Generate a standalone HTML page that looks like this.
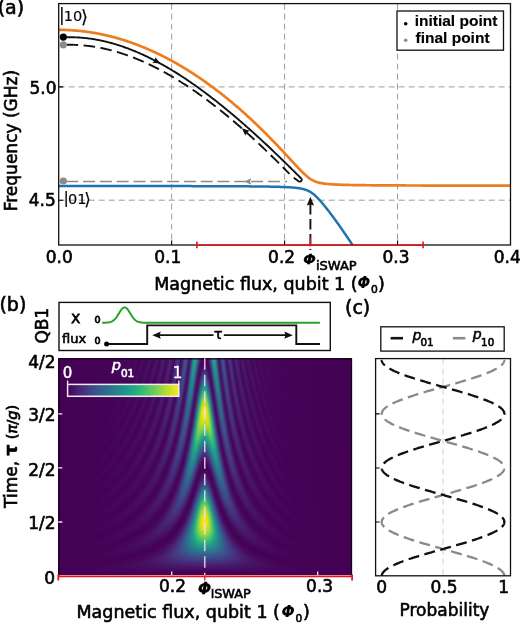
<!DOCTYPE html>
<html><head><meta charset="utf-8"><title>Figure</title>
<style>
html,body{margin:0;padding:0;background:#fff;}
#wrap{position:relative;width:520px;height:623px;overflow:hidden;background:#fff;}
#hm i{position:absolute;top:0;width:1px;height:100%;display:block}
</style></head><body><div id="wrap">
<div id="hm" style="position:absolute;left:58.3px;top:358.2px;width:293.8px;height:217.2px;background:#440154;overflow:hidden"><i style="left:0px;background:linear-gradient(#440255 0.0px,#440154 128.6px,#440154 148.1px,#440154 167.2px,#440154 196.7px,#440154 216.2px,#440154 217.2px)"></i><i style="left:1px;background:linear-gradient(#440254 0.0px,#440154 118.1px,#440154 127.6px,#440154 137.6px,#440254 146.6px,#440154 166.7px,#440154 176.7px,#440154 186.7px,#440255 195.7px,#440254 215.7px,#440154 217.2px)"></i><i style="left:2px;background:linear-gradient(#440154 0.0px,#440154 97.6px,#440154 108.1px,#440154 117.1px,#440154 127.1px,#440254 136.6px,#440154 146.6px,#440154 156.6px,#440255 165.7px,#440154 176.2px,#440255 185.7px,#440154 196.2px,#440254 205.7px,#440254 215.7px,#440154 217.2px)"></i><i style="left:3px;background:linear-gradient(#440255 0.0px,#440154 87.1px,#440154 96.6px,#440154 106.6px,#440154 116.6px,#440254 126.1px,#440154 136.6px,#440254 146.1px,#440154 156.1px,#440255 165.2px,#440254 175.7px,#440254 185.7px,#440254 195.7px,#440255 205.2px,#440254 215.7px,#440154 217.2px)"></i><i style="left:4px;background:linear-gradient(#440356 0.0px,#450356 81.1px,#450356 91.1px,#450356 101.1px,#450356 111.1px,#450356 120.6px,#450356 131.1px,#450356 140.6px,#450356 151.1px,#450356 160.6px,#450356 171.2px,#450356 180.7px,#450356 191.2px,#450356 200.7px,#450356 211.2px,#440154 217.2px)"></i><i style="left:5px;background:linear-gradient(#450356 0.0px,#450356 70.1px,#450356 80.1px,#450356 90.1px,#450356 100.1px,#450356 110.1px,#450356 120.1px,#450356 130.1px,#450356 140.1px,#450356 150.1px,#450356 160.6px,#450356 170.7px,#450356 180.7px,#450356 190.7px,#450356 200.7px,#450356 210.7px,#440154 217.2px)"></i><i style="left:6px;background:linear-gradient(#440255 0.0px,#450356 79.1px,#450356 89.1px,#450356 99.6px,#450356 109.1px,#450356 119.6px,#450356 129.1px,#450356 140.1px,#450356 149.6px,#450356 160.1px,#450356 170.2px,#450356 180.2px,#450356 190.7px,#440356 200.2px,#450356 210.7px,#440154 217.2px)"></i><i style="left:7px;background:linear-gradient(#440255 0.0px,#440254 62.6px,#440255 82.6px,#440254 103.1px,#440255 112.6px,#440255 123.1px,#440255 133.1px,#440254 144.1px,#440255 153.1px,#440154 164.7px,#440255 173.7px,#440254 184.7px,#440255 194.2px,#440255 204.7px,#440255 214.7px,#440154 217.2px)"></i><i style="left:8px;background:linear-gradient(#440154 0.0px,#440254 41.0px,#440255 61.1px,#440255 81.6px,#440154 92.6px,#440255 101.6px,#440254 112.6px,#440255 122.1px,#440255 132.6px,#440254 143.6px,#440255 152.6px,#440255 163.7px,#440255 173.7px,#440255 184.2px,#440255 194.2px,#440255 204.7px,#440255 214.7px,#440154 217.2px)"></i><i style="left:9px;background:linear-gradient(#440255 0.0px,#440254 60.6px,#440255 70.1px,#440254 81.1px,#440254 91.1px,#440255 101.1px,#440255 111.6px,#440255 121.6px,#440255 132.1px,#440255 142.6px,#440255 152.6px,#440255 163.2px,#440255 173.2px,#440255 184.2px,#440255 194.2px,#440255 204.2px,#440255 215.2px,#440154 217.2px)"></i><i style="left:10px;background:linear-gradient(#440356 0.0px,#450356 54.0px,#450356 64.6px,#450356 75.1px,#450356 85.1px,#450356 95.6px,#450356 105.6px,#450356 116.6px,#450356 126.6px,#450356 137.1px,#450356 147.6px,#450356 158.1px,#450356 168.7px,#440356 178.7px,#450356 189.7px,#450356 199.7px,#450356 210.2px,#440154 217.2px)"></i><i style="left:11px;background:linear-gradient(#450356 0.0px,#450356 32.0px,#450356 42.5px,#450356 52.5px,#450356 63.6px,#450356 73.6px,#450356 84.6px,#450356 94.6px,#450356 105.1px,#450356 115.6px,#450356 126.1px,#450356 136.6px,#450356 147.1px,#450356 157.6px,#450356 168.2px,#450356 178.7px,#450356 189.2px,#450356 199.7px,#450356 210.2px,#440154 217.2px)"></i><i style="left:12px;background:linear-gradient(#450356 0.0px,#450356 30.5px,#450356 41.0px,#450356 51.5px,#450356 62.1px,#450356 72.6px,#450356 83.1px,#450356 93.6px,#450356 104.6px,#450356 114.6px,#450356 125.6px,#450356 135.6px,#450356 146.6px,#450356 157.1px,#450356 167.7px,#450356 178.2px,#450356 189.2px,#440356 199.2px,#450356 210.2px,#440154 217.2px)"></i><i style="left:13px;background:linear-gradient(#440255 0.0px,#450356 50.5px,#450356 61.1px,#450356 71.1px,#450356 82.1px,#450356 92.6px,#450356 103.6px,#450356 113.6px,#450356 124.6px,#450356 135.1px,#450356 146.1px,#450356 156.6px,#450356 167.2px,#450356 178.2px,#450356 188.7px,#450356 199.2px,#450356 210.2px,#440154 217.2px)"></i><i style="left:14px;background:linear-gradient(#440255 0.0px,#440255 22.0px,#440254 43.5px,#440255 54.0px,#440254 65.1px,#440255 75.1px,#440255 86.1px,#440255 97.1px,#440255 107.1px,#440255 118.1px,#440255 128.6px,#440255 139.6px,#440255 150.1px,#440255 161.1px,#440255 171.7px,#440255 182.2px,#440255 193.2px,#440255 203.7px,#440255 214.7px,#440154 217.2px)"></i><i style="left:15px;background:linear-gradient(#440154 0.0px,#440255 20.5px,#440255 42.0px,#440255 53.0px,#440255 63.6px,#440255 74.1px,#440255 85.1px,#440255 95.6px,#440255 106.6px,#440255 117.1px,#440255 128.1px,#440255 138.6px,#440255 149.6px,#440255 160.6px,#440255 171.2px,#440255 182.2px,#440255 192.7px,#440255 203.7px,#440255 214.7px,#440154 217.2px)"></i><i style="left:16px;background:linear-gradient(#440255 0.0px,#440255 30.0px,#440255 40.5px,#440254 52.0px,#440255 62.1px,#440255 73.6px,#440255 84.1px,#440255 94.6px,#440255 105.6px,#440255 116.6px,#440255 127.1px,#440255 138.6px,#440255 149.1px,#440255 160.1px,#440255 171.2px,#440255 181.7px,#440255 192.7px,#440255 203.7px,#440255 214.7px,#440154 217.2px)"></i><i style="left:17px;background:linear-gradient(#450356 0.0px,#450356 34.5px,#450356 45.0px,#450356 56.1px,#450356 67.1px,#450356 77.6px,#450356 89.1px,#450356 99.6px,#450356 110.6px,#450356 121.6px,#450356 132.6px,#450356 143.6px,#450356 154.6px,#450356 165.7px,#450356 176.7px,#450356 187.7px,#440356 198.2px,#450356 209.7px,#440154 217.2px)"></i><i style="left:18px;background:linear-gradient(#450356 0.0px,#450356 11.5px,#450356 21.5px,#450356 44.0px,#450356 54.6px,#450356 66.1px,#450356 76.6px,#450356 88.1px,#450356 98.6px,#450356 110.1px,#450356 120.6px,#450356 132.1px,#450356 143.1px,#450356 154.1px,#450356 165.2px,#450356 176.2px,#450356 187.2px,#450356 198.2px,#450356 209.7px,#440154 217.2px)"></i><i style="left:19px;background:linear-gradient(#450356 0.0px,#450356 20.5px,#450356 31.5px,#450356 42.5px,#450356 53.0px,#450356 64.6px,#450356 75.6px,#450356 86.6px,#450356 98.1px,#450356 108.6px,#450356 120.1px,#450356 131.1px,#450356 142.6px,#450356 153.6px,#450356 164.7px,#450356 175.7px,#450356 187.2px,#450356 198.2px,#450356 209.2px,#440154 217.2px)"></i><i style="left:20px;background:linear-gradient(#440255 0.0px,#440255 35.5px,#440255 46.0px,#440255 57.6px,#440255 68.6px,#440255 79.6px,#440255 91.1px,#440255 102.1px,#440255 113.6px,#440255 124.6px,#440255 135.6px,#440255 147.1px,#440255 158.1px,#440255 169.7px,#440255 180.7px,#440255 192.2px,#440255 203.2px,#440255 214.7px,#440154 217.2px)"></i><i style="left:21px;background:linear-gradient(#440255 0.0px,#440255 23.0px,#440255 33.5px,#440255 45.0px,#440255 56.1px,#440255 67.6px,#440255 78.6px,#440255 90.1px,#440255 101.1px,#440255 112.6px,#440255 123.6px,#440255 135.1px,#440255 146.6px,#440255 157.6px,#440255 169.2px,#440255 180.7px,#440255 191.7px,#440255 203.2px,#440255 214.7px,#440154 217.2px)"></i><i style="left:22px;background:linear-gradient(#440254 0.0px,#440255 10.0px,#440255 21.5px,#440255 32.5px,#440255 43.5px,#440255 55.1px,#440255 66.1px,#440255 77.6px,#440255 89.1px,#440255 100.6px,#440255 111.6px,#440255 123.1px,#440255 134.6px,#440255 145.6px,#440255 157.6px,#440255 168.7px,#440255 180.2px,#440255 191.7px,#440255 203.2px,#440255 214.7px,#440154 217.2px)"></i><i style="left:23px;background:linear-gradient(#440255 0.0px,#440255 31.5px,#440255 42.0px,#440255 53.5px,#440255 65.1px,#440255 76.6px,#440255 88.1px,#440255 99.1px,#440255 111.1px,#440255 122.1px,#440255 134.1px,#440255 145.1px,#440255 157.1px,#440255 168.2px,#450457 175.7px,#440255 185.2px,#440255 191.7px,#440255 203.2px,#440255 214.7px,#440154 217.2px)"></i><i style="left:24px;background:linear-gradient(#450356 0.0px,#450357 13.0px,#450356 23.5px,#450356 35.5px,#450356 46.5px,#450356 58.6px,#450356 69.6px,#450356 81.1px,#450356 92.6px,#450356 104.1px,#450356 116.1px,#450356 127.6px,#450356 139.1px,#450356 150.6px,#450356 162.1px,#450356 174.2px,#450356 185.7px,#450356 197.2px,#450356 208.7px,#440154 217.2px)"></i><i style="left:25px;background:linear-gradient(#450357 0.0px,#450356 10.0px,#450356 22.0px,#450356 33.0px,#450356 45.5px,#450356 56.6px,#450356 68.1px,#450356 80.1px,#450356 91.6px,#450356 103.1px,#450356 115.1px,#450356 126.6px,#450356 138.1px,#450356 150.1px,#450356 161.6px,#450356 173.7px,#450356 185.2px,#450356 197.2px,#450356 208.7px,#440154 217.2px)"></i><i style="left:26px;background:linear-gradient(#450356 0.0px,#450356 20.0px,#450356 31.5px,#450356 43.5px,#450356 55.1px,#450356 67.1px,#450356 78.6px,#450356 90.6px,#450356 102.1px,#450356 114.1px,#450356 125.6px,#440255 132.1px,#440356 143.1px,#450356 150.1px,#450356 161.1px,#440255 167.7px,#450356 178.2px,#440256 184.7px,#440255 190.7px,#450356 197.2px,#440255 208.2px,#440256 214.2px,#440154 217.2px)"></i><i style="left:27px;background:linear-gradient(#440255 0.0px,#440255 12.5px,#440255 24.0px,#440255 36.0px,#440255 47.5px,#440356 59.1px,#440356 71.1px,#450457 78.6px,#440255 88.6px,#450356 94.6px,#450356 101.6px,#450356 113.1px,#440255 119.6px,#450356 130.1px,#450356 137.1px,#440255 143.1px,#450356 154.1px,#450356 160.6px,#440255 166.7px,#450356 173.2px,#450356 184.7px,#450356 190.2px,#450356 196.7px,#450356 202.2px,#450356 208.7px,#440256 214.2px,#440154 217.2px)"></i><i style="left:28px;background:linear-gradient(#440255 0.0px,#440255 10.0px,#440255 22.5px,#440255 34.0px,#440255 46.0px,#450356 57.6px,#450457 65.1px,#450356 76.1px,#440255 82.1px,#450356 93.6px,#450356 100.6px,#450356 112.1px,#440256 118.1px,#450457 125.1px,#440255 135.6px,#450356 141.1px,#440255 147.6px,#450357 153.1px,#440255 159.6px,#450356 165.2px,#440255 171.7px,#450357 177.2px,#440255 183.7px,#450357 189.2px,#440255 195.7px,#450357 201.2px,#440255 207.7px,#450357 213.2px,#440154 217.2px)"></i><i style="left:29px;background:linear-gradient(#440255 0.0px,#440356 8.0px,#440255 21.0px,#450356 32.0px,#440255 44.5px,#440356 56.6px,#450457 64.1px,#440356 74.6px,#450356 80.6px,#450356 87.6px,#450356 99.1px,#440356 105.1px,#450356 111.6px,#440255 117.6px,#450356 128.6px,#440356 135.1px,#450356 140.6px,#440255 147.1px,#450357 152.6px,#440255 159.1px,#450357 164.7px,#440255 171.2px,#450457 176.7px,#440255 183.2px,#450457 188.7px,#440255 195.2px,#450457 200.7px,#440255 207.7px,#450357 213.2px,#440154 217.2px)"></i><i style="left:30px;background:linear-gradient(#450356 0.0px,#450356 13.0px,#450356 25.0px,#450356 37.0px,#450356 49.5px,#450356 61.6px,#440255 68.1px,#450356 79.1px,#450356 85.6px,#450356 91.6px,#450356 98.6px,#440255 105.1px,#450356 115.6px,#440356 122.1px,#450357 127.6px,#440255 134.1px,#450457 139.6px,#440255 146.1px,#450457 151.6px,#440255 158.6px,#450457 164.2px,#440255 170.7px,#450457 176.2px,#440255 182.7px,#450457 188.2px,#440255 194.7px,#450457 200.7px,#440255 207.2px,#450457 212.7px,#440154 217.2px)"></i><i style="left:31px;background:linear-gradient(#450457 0.0px,#450356 10.5px,#450457 24.0px,#450356 35.0px,#440255 42.5px,#450356 53.5px,#450457 61.1px,#450356 72.1px,#450356 78.1px,#450356 85.1px,#440255 91.6px,#450357 102.1px,#440255 108.6px,#450357 114.6px,#440255 121.1px,#450457 126.6px,#440255 133.1px,#450457 139.1px,#440255 145.6px,#450457 151.1px,#440255 158.1px,#450457 163.7px,#440255 170.2px,#450457 176.2px,#440255 182.7px,#450457 188.2px,#440255 194.7px,#450457 200.7px,#440255 207.2px,#450457 212.7px,#440154 217.2px)"></i><i style="left:32px;background:linear-gradient(#450457 0.0px,#450356 8.5px,#440255 16.5px,#450356 27.0px,#450457 34.5px,#450356 46.0px,#440356 52.5px,#450356 64.6px,#450357 71.6px,#440255 78.6px,#450356 89.1px,#450356 95.6px,#450356 101.6px,#450356 108.1px,#450357 113.6px,#440255 120.1px,#450357 126.1px,#440255 132.6px,#450357 138.6px,#440255 145.1px,#450457 150.6px,#440255 157.6px,#450457 163.2px,#440255 169.7px,#450457 175.7px,#440255 182.2px,#450457 187.7px,#440255 194.2px,#450457 200.2px,#440255 206.7px,#450457 212.7px,#440154 217.2px)"></i><i style="left:33px;background:linear-gradient(#450356 0.0px,#450457 8.5px,#450356 19.5px,#440255 27.5px,#450356 38.0px,#450457 45.5px,#450356 57.1px,#450356 63.6px,#450457 70.6px,#450356 82.1px,#450356 88.1px,#450356 94.6px,#450356 100.6px,#450356 107.1px,#450457 112.6px,#440255 119.1px,#450457 125.1px,#440255 131.6px,#450457 137.6px,#440255 144.1px,#450457 150.1px,#440255 156.6px,#450457 162.6px,#440255 169.2px,#450457 175.2px,#440255 181.7px,#450457 187.7px,#440255 194.2px,#450457 200.2px,#440255 206.7px,#450457 212.7px,#440154 217.2px)"></i><i style="left:34px;background:linear-gradient(#440255 0.0px,#450356 11.5px,#440256 24.5px,#450356 36.5px,#450457 44.5px,#450356 55.6px,#450356 62.1px,#450357 69.1px,#450356 81.1px,#450356 87.1px,#450356 93.6px,#450356 99.6px,#450356 106.1px,#450356 112.1px,#440255 118.6px,#450357 124.6px,#440255 131.1px,#450457 137.1px,#440255 143.6px,#450457 149.6px,#440255 156.1px,#450457 162.1px,#440255 168.7px,#450457 174.7px,#440255 181.2px,#450458 187.2px,#440255 193.7px,#450458 199.7px,#440255 206.7px,#450457 212.7px,#440154 217.2px)"></i><i style="left:35px;background:linear-gradient(#440255 0.0px,#450356 9.0px,#450357 16.5px,#450356 29.0px,#450356 41.5px,#440255 48.5px,#450356 60.1px,#450356 67.1px,#450356 73.1px,#450356 79.6px,#450356 86.1px,#450356 92.6px,#450356 98.6px,#450356 105.1px,#450357 111.1px,#440255 117.6px,#450457 123.6px,#440255 130.1px,#450457 136.1px,#440255 142.6px,#450457 148.6px,#440255 155.1px,#450457 161.6px,#440255 168.2px,#450458 174.2px,#440255 180.7px,#450457 187.2px,#440255 193.7px,#450458 199.7px,#440255 206.7px,#450457 212.7px,#440154 217.2px)"></i><i style="left:36px;background:linear-gradient(#440255 0.0px,#450356 8.0px,#450356 20.5px,#450457 28.5px,#450356 39.5px,#450356 46.5px,#450457 53.5px,#450356 65.6px,#450357 71.6px,#440356 78.1px,#450356 84.6px,#450356 91.1px,#450457 97.1px,#440255 103.6px,#450457 110.1px,#440255 116.6px,#450457 122.6px,#440255 129.1px,#450457 135.1px,#440255 142.1px,#450457 148.1px,#440255 154.6px,#450457 161.1px,#440255 167.7px,#450457 174.2px,#440255 180.7px,#450458 186.7px,#440255 193.2px,#450457 199.7px,#440255 206.2px,#450457 212.7px,#440154 217.2px)"></i><i style="left:37px;background:linear-gradient(#450457 0.0px,#450356 12.5px,#450356 25.5px,#440255 33.0px,#450356 44.5px,#450356 51.5px,#440255 58.6px,#450356 70.6px,#450356 77.1px,#450356 83.6px,#450356 90.1px,#450356 96.6px,#450356 103.1px,#450457 109.1px,#440255 115.6px,#450457 122.1px,#440255 128.6px,#450457 134.6px,#440255 141.1px,#450457 147.6px,#440255 154.1px,#450457 160.6px,#440255 167.2px,#450457 173.7px,#440255 180.2px,#450457 186.7px,#440255 193.2px,#450458 199.2px,#440255 206.2px,#450457 212.7px,#440154 217.2px)"></i><i style="left:38px;background:linear-gradient(#450458 0.0px,#450356 10.0px,#440356 17.5px,#450356 30.0px,#450457 37.5px,#450356 49.5px,#450356 56.6px,#450457 63.6px,#440255 70.6px,#450357 82.1px,#440356 88.6px,#450357 95.1px,#440255 101.6px,#450457 108.1px,#440255 114.6px,#450457 121.1px,#440255 127.6px,#450457 134.1px,#440255 140.6px,#450457 147.1px,#440255 153.6px,#450457 160.1px,#440255 166.7px,#450458 173.2px,#440255 179.7px,#450458 186.2px,#440255 192.7px,#450458 199.2px,#440255 206.2px,#450458 212.2px,#440154 217.2px)"></i><i style="left:39px;background:linear-gradient(#450457 0.0px,#450356 8.5px,#440255 16.5px,#450356 28.0px,#450357 35.5px,#440255 43.0px,#450457 54.0px,#450356 61.1px,#450357 67.6px,#450356 74.6px,#450356 81.1px,#450356 87.6px,#450357 94.1px,#440256 100.6px,#450457 107.1px,#440255 113.6px,#450457 120.1px,#440255 126.6px,#450457 133.1px,#440255 139.6px,#450458 146.1px,#440255 153.1px,#450457 159.6px,#440255 166.2px,#450458 172.7px,#440255 179.7px,#450558 185.7px,#440255 192.7px,#450458 199.2px,#440254 205.7px,#450458 212.2px,#440154 217.2px)"></i><i style="left:40px;background:linear-gradient(#450356 0.0px,#450356 13.5px,#450356 26.5px,#450457 34.0px,#450356 46.5px,#450356 53.0px,#450356 60.1px,#450356 66.6px,#450356 73.6px,#450356 80.1px,#450356 86.6px,#450357 93.1px,#450356 99.6px,#450457 106.1px,#440255 112.6px,#450457 119.1px,#440255 125.6px,#450458 132.1px,#440255 139.1px,#450458 145.6px,#440255 152.1px,#450458 158.6px,#440255 165.7px,#450458 172.2px,#440255 179.2px,#450458 185.7px,#440255 192.2px,#450558 198.7px,#440255 205.7px,#450458 212.2px,#440154 217.2px)"></i><i style="left:41px;background:linear-gradient(#440255 0.0px,#450356 11.0px,#450357 18.5px,#450356 31.5px,#450356 38.5px,#450457 45.5px,#440356 52.5px,#450356 65.1px,#450356 71.6px,#450356 78.6px,#450356 85.1px,#450457 91.6px,#440255 98.1px,#450458 104.6px,#440255 111.1px,#450458 118.1px,#440255 124.6px,#450458 131.6px,#440255 138.1px,#450558 144.6px,#440255 151.6px,#450558 158.1px,#440255 165.2px,#450558 171.7px,#440255 178.7px,#450558 185.2px,#440255 192.2px,#450558 198.7px,#440255 205.7px,#450558 212.2px,#440154 217.2px)"></i><i style="left:42px;background:linear-gradient(#440255 0.0px,#450457 8.5px,#450356 16.0px,#450356 23.5px,#450457 31.0px,#450356 43.0px,#450457 49.5px,#440356 56.1px,#450457 63.1px,#450356 70.1px,#450457 76.6px,#440356 83.6px,#450458 89.6px,#440255 96.6px,#450558 103.1px,#440255 110.1px,#450558 116.6px,#440255 123.6px,#450558 130.1px,#440255 137.1px,#450558 143.6px,#440255 151.1px,#450558 157.6px,#440254 164.2px,#450558 171.2px,#440255 178.2px,#450558 184.7px,#440255 191.7px,#450558 198.2px,#440254 205.2px,#450558 211.7px,#440154 217.2px)"></i><i style="left:43px;background:linear-gradient(#450356 0.0px,#450356 7.5px,#450457 15.0px,#450356 27.5px,#450457 34.0px,#450356 41.0px,#450457 47.5px,#440356 54.6px,#450458 61.1px,#440255 68.1px,#450458 74.6px,#440255 81.6px,#450558 88.1px,#440255 95.6px,#450558 102.1px,#440255 109.1px,#450558 115.6px,#440255 122.6px,#450558 129.1px,#440255 136.6px,#450558 143.1px,#440255 150.1px,#450559 156.6px,#440254 163.7px,#450559 170.2px,#440255 177.7px,#450559 184.2px,#440254 191.2px,#450558 198.2px,#440255 205.2px,#450559 211.7px,#440154 217.2px)"></i><i style="left:44px;background:linear-gradient(#450558 0.0px,#450356 11.5px,#450457 18.5px,#450356 25.5px,#450457 32.5px,#450356 39.5px,#450457 46.0px,#440356 53.0px,#450458 59.6px,#440255 66.6px,#450558 73.1px,#440255 80.1px,#450558 87.1px,#440255 94.1px,#450558 100.6px,#440255 108.1px,#450558 114.6px,#440255 121.6px,#450559 128.1px,#440255 135.6px,#450559 142.1px,#440254 149.1px,#450559 156.1px,#440254 163.2px,#450659 169.7px,#440254 177.2px,#450559 183.7px,#440254 190.7px,#450559 197.7px,#440254 204.7px,#450559 211.7px,#440154 217.2px)"></i><i style="left:45px;background:linear-gradient(#450559 0.0px,#450356 9.5px,#450457 16.5px,#450356 23.5px,#450457 30.5px,#450356 37.5px,#450458 44.0px,#450356 51.5px,#450458 58.1px,#440255 65.1px,#450558 71.6px,#440255 79.1px,#450558 85.6px,#440255 92.6px,#450558 99.6px,#440255 107.1px,#450559 113.6px,#440255 120.6px,#450559 127.6px,#440255 134.6px,#450559 141.6px,#440255 148.6px,#450559 155.6px,#440254 162.6px,#450659 169.2px,#440254 176.7px,#450659 183.2px,#440154 190.2px,#450559 197.7px,#440254 204.7px,#450559 211.7px,#440154 217.2px)"></i><i style="left:46px;background:linear-gradient(#450457 0.0px,#450356 7.5px,#450457 14.5px,#450356 22.0px,#450457 29.0px,#450356 36.0px,#450458 42.5px,#440356 49.5px,#450558 56.1px,#440255 63.6px,#450558 70.6px,#440255 77.6px,#450558 84.6px,#440255 91.6px,#450558 98.6px,#440255 105.6px,#450559 112.6px,#440255 119.6px,#450559 126.6px,#440255 133.6px,#450559 140.6px,#440254 147.6px,#450659 154.6px,#440254 162.1px,#450559 169.2px,#440254 176.2px,#450659 183.2px,#440254 190.2px,#450659 197.2px,#440154 204.2px,#450659 211.2px,#440154 217.2px)"></i><i style="left:47px;background:linear-gradient(#440356 0.0px,#450457 12.5px,#450356 19.5px,#450458 26.5px,#440356 33.5px,#450558 40.5px,#440255 47.5px,#450558 54.6px,#440255 62.1px,#450559 68.6px,#440255 76.1px,#450558 83.1px,#440255 90.1px,#450559 97.1px,#440255 104.6px,#450559 111.6px,#440255 118.6px,#450659 125.6px,#440254 132.6px,#450659 139.6px,#440255 147.1px,#450659 154.1px,#440255 161.6px,#450659 168.7px,#440254 175.7px,#450659 182.7px,#440154 189.7px,#450659 197.2px,#440154 204.2px,#450659 211.2px,#440154 217.2px)"></i><i style="left:48px;background:linear-gradient(#440255 0.0px,#450458 10.0px,#450356 17.5px,#450458 24.5px,#450356 32.0px,#450458 39.0px,#440356 46.0px,#450558 53.0px,#440255 60.1px,#450558 67.6px,#440255 74.6px,#450559 81.6px,#440255 89.1px,#450559 96.1px,#440255 103.1px,#450559 110.6px,#440255 117.6px,#450659 124.6px,#440255 132.1px,#450659 139.1px,#440254 146.1px,#450659 153.6px,#440254 160.6px,#450659 168.2px,#440254 175.2px,#45065a 182.2px,#440254 189.7px,#450659 196.7px,#440254 204.2px,#450659 211.2px,#440154 217.2px)"></i><i style="left:49px;background:linear-gradient(#440356 0.0px,#450458 8.0px,#450356 16.0px,#450458 23.0px,#450356 30.0px,#450558 37.0px,#440255 44.0px,#450558 51.5px,#440255 58.6px,#450558 66.1px,#440255 73.1px,#450559 80.1px,#440255 87.6px,#450659 94.6px,#440255 102.1px,#450659 109.1px,#440255 116.6px,#450659 123.6px,#440255 131.1px,#450659 138.6px,#440254 145.6px,#450659 153.1px,#440254 160.1px,#450659 167.7px,#440254 174.7px,#450659 182.2px,#440154 189.2px,#450659 196.7px,#440154 203.7px,#450659 211.2px,#440154 217.2px)"></i><i style="left:50px;background:linear-gradient(#450457 0.0px,#450356 7.5px,#450458 15.5px,#450356 22.5px,#450457 29.5px,#450457 36.0px,#450356 43.0px,#450558 50.0px,#440255 57.1px,#450559 64.1px,#440255 71.6px,#450559 79.1px,#440255 86.1px,#450559 93.6px,#440255 100.6px,#450659 108.1px,#440255 115.6px,#450659 122.6px,#440255 130.1px,#450659 137.6px,#440254 144.6px,#45065a 152.1px,#440154 159.1px,#450659 167.2px,#440154 174.2px,#45065a 181.7px,#440154 188.7px,#45065a 196.2px,#440154 203.7px,#45065a 211.2px,#440154 217.2px)"></i><i style="left:51px;background:linear-gradient(#450559 0.0px,#450356 11.0px,#450558 18.5px,#450356 26.0px,#450558 33.0px,#440356 40.5px,#450558 48.0px,#440356 55.6px,#450559 62.6px,#440255 70.1px,#450559 77.6px,#440255 84.6px,#450659 92.1px,#440255 99.6px,#450659 107.1px,#440255 114.6px,#450659 121.6px,#440255 129.1px,#450659 136.6px,#440254 144.1px,#450659 151.6px,#440154 158.6px,#45065a 166.2px,#440254 174.2px,#45065a 181.2px,#440254 188.7px,#45065a 196.2px,#440254 203.7px,#45065a 211.2px,#440154 217.2px)"></i><i style="left:52px;background:linear-gradient(#450559 0.0px,#450356 9.0px,#450558 16.5px,#450356 24.0px,#450558 31.5px,#450356 39.0px,#450559 46.0px,#440255 53.5px,#450559 61.1px,#440255 68.1px,#450659 75.6px,#440255 83.6px,#450659 90.6px,#440255 98.1px,#450659 105.6px,#440255 113.1px,#450659 120.6px,#440254 128.1px,#45065a 135.6px,#440254 143.1px,#45065a 150.6px,#440254 158.1px,#45065a 165.7px,#440254 173.7px,#45065a 180.7px,#440154 188.2px,#45065a 195.7px,#440154 203.2px,#45065a 211.2px,#440154 217.2px)"></i><i style="left:53px;background:linear-gradient(#450457 0.0px,#450457 8.0px,#450458 15.0px,#450356 22.0px,#450559 29.0px,#440356 36.5px,#450559 44.0px,#440356 52.0px,#450659 59.1px,#440255 66.6px,#450659 74.1px,#440255 82.1px,#45065a 89.1px,#440255 97.1px,#450659 104.6px,#440255 112.1px,#45065a 119.6px,#440254 127.1px,#45065a 134.6px,#440255 142.6px,#45065a 149.6px,#440254 157.6px,#45065a 165.2px,#440154 172.7px,#46065a 180.2px,#440254 188.2px,#45065a 195.7px,#440154 203.2px,#46075a 210.7px,#440154 217.2px)"></i><i style="left:54px;background:linear-gradient(#440255 0.0px,#450558 12.0px,#450356 19.5px,#450559 27.0px,#440356 34.5px,#450659 42.0px,#440356 50.0px,#450659 57.1px,#440255 65.1px,#450659 72.6px,#440255 80.1px,#45065a 88.1px,#440255 95.6px,#45065a 103.1px,#440255 111.1px,#45065a 118.6px,#440254 126.1px,#46075a 133.6px,#440254 141.6px,#46075a 149.1px,#440154 156.6px,#46075a 164.7px,#440154 172.2px,#46075a 179.7px,#440154 187.7px,#46075a 195.2px,#440154 202.7px,#46075a 210.7px,#440154 217.2px)"></i><i style="left:55px;background:linear-gradient(#440255 0.0px,#450559 9.5px,#450356 17.5px,#450559 25.0px,#440356 32.5px,#450659 40.0px,#440255 48.0px,#45065a 55.6px,#440255 63.1px,#45065a 71.1px,#440255 78.6px,#45065a 86.6px,#440255 94.1px,#46075a 101.6px,#440255 109.6px,#46075a 117.6px,#440254 125.1px,#46075a 133.1px,#440254 140.6px,#46075a 148.6px,#440254 156.1px,#46075a 164.2px,#440154 171.7px,#46075b 179.2px,#440154 187.2px,#46075a 195.2px,#440154 202.7px,#46075a 210.7px,#440154 217.2px)"></i><i style="left:56px;background:linear-gradient(#450357 0.0px,#450559 7.5px,#450356 15.0px,#450659 22.5px,#440356 30.5px,#45065a 38.0px,#440255 46.0px,#45065a 53.5px,#440255 61.6px,#45065a 69.6px,#440255 77.1px,#45075a 85.1px,#440255 93.1px,#46075a 100.6px,#440255 108.6px,#46075a 116.6px,#440254 124.1px,#46075a 132.1px,#440254 139.6px,#46075b 147.6px,#440154 155.1px,#46075b 163.2px,#440154 171.2px,#46075b 179.2px,#440154 186.7px,#46075b 194.7px,#440154 202.2px,#46075b 210.2px,#440154 217.2px)"></i><i style="left:57px;background:linear-gradient(#450559 0.0px,#450457 7.0px,#450356 13.5px,#450659 20.5px,#440255 28.0px,#45065a 36.0px,#440255 44.0px,#45065a 52.0px,#440255 60.1px,#46075a 67.6px,#440255 75.6px,#46075a 83.6px,#440255 91.6px,#46075b 99.1px,#440255 107.1px,#46075b 115.1px,#440255 123.1px,#46075b 131.1px,#440154 138.6px,#46075b 147.1px,#440154 154.6px,#46075b 162.6px,#440154 170.7px,#46075b 178.7px,#440154 186.2px,#46075b 194.7px,#440154 202.2px,#46085b 210.2px,#440154 217.2px)"></i><i style="left:58px;background:linear-gradient(#45065a 0.0px,#450356 10.5px,#450659 18.5px,#440255 26.0px,#45065a 34.0px,#440255 42.0px,#46075a 50.0px,#440255 58.1px,#46075a 66.1px,#440255 74.1px,#46075a 82.1px,#440255 89.6px,#46075a 98.1px,#440255 106.1px,#46075b 114.1px,#440255 122.1px,#46075b 130.1px,#440254 138.1px,#46075b 146.1px,#440254 154.1px,#46075b 162.1px,#440154 170.2px,#46085b 178.2px,#440154 185.7px,#46085b 194.2px,#440154 202.2px,#46085b 210.2px,#440154 217.2px)"></i><i style="left:59px;background:linear-gradient(#450659 0.0px,#450356 8.5px,#450659 16.5px,#440356 24.0px,#45065a 32.0px,#440255 40.0px,#45065a 48.5px,#440255 56.1px,#46075a 64.6px,#440255 72.6px,#46075a 80.6px,#440255 88.1px,#46075b 96.6px,#440255 104.6px,#46075b 112.6px,#440254 120.6px,#46075b 129.1px,#440254 137.1px,#46085b 145.1px,#440154 153.1px,#46085b 161.6px,#440254 169.7px,#46085b 177.7px,#440154 185.7px,#46085b 193.7px,#440154 201.7px,#46085b 210.2px,#440154 217.2px)"></i><i style="left:60px;background:linear-gradient(#450457 0.0px,#450458 7.5px,#450659 14.5px,#450356 22.0px,#45065a 30.0px,#440255 38.0px,#45065a 46.5px,#440255 54.6px,#46075a 62.6px,#440255 70.6px,#46075b 79.1px,#440255 86.6px,#46075b 95.1px,#440255 103.6px,#46075b 111.6px,#440254 119.6px,#46075b 128.1px,#440254 136.1px,#46085b 144.6px,#440154 152.1px,#46085b 160.6px,#440154 168.7px,#46085b 177.2px,#440154 185.2px,#46085b 193.7px,#440154 201.7px,#46085b 209.7px,#440154 217.2px)"></i><i style="left:61px;background:linear-gradient(#440255 0.0px,#45065a 11.5px,#440356 19.5px,#46075a 27.5px,#440255 36.0px,#46075a 44.0px,#440255 52.5px,#46075b 60.6px,#440255 69.1px,#46075b 77.1px,#440255 85.6px,#46075b 93.6px,#440255 102.1px,#46085b 110.1px,#440255 118.6px,#46085b 126.6px,#440254 135.1px,#46085b 143.6px,#440154 151.6px,#46085b 160.1px,#440154 168.2px,#46085b 176.7px,#440154 184.7px,#46085c 193.2px,#440154 201.2px,#46085c 209.7px,#440154 217.2px)"></i><i style="left:62px;background:linear-gradient(#440356 0.0px,#46075a 8.5px,#450356 17.5px,#46075a 25.5px,#440356 34.0px,#46075b 42.0px,#440255 50.5px,#46075b 58.6px,#440255 67.1px,#46085b 75.6px,#440255 83.6px,#46085b 92.1px,#440255 100.6px,#46085c 108.6px,#440255 117.6px,#46085c 125.6px,#440254 134.1px,#46085c 142.6px,#440154 150.6px,#46085c 159.1px,#440154 167.2px,#46085c 176.2px,#440154 184.2px,#46095c 192.7px,#440154 201.2px,#46085c 209.7px,#440154 217.2px)"></i><i style="left:63px;background:linear-gradient(#450558 0.0px,#45075a 7.0px,#440356 14.5px,#46075b 23.0px,#440255 31.5px,#46075b 40.0px,#440255 48.5px,#46085b 57.1px,#440255 65.6px,#46085b 74.1px,#440255 82.1px,#46085c 90.6px,#440255 99.1px,#46085c 107.6px,#440254 116.1px,#46085c 124.6px,#440254 133.1px,#46095c 141.6px,#440254 150.1px,#46095c 158.6px,#440154 166.7px,#46095c 175.7px,#440154 183.7px,#46095c 192.7px,#440154 200.7px,#46095c 209.7px,#440154 217.2px)"></i><i style="left:64px;background:linear-gradient(#46075b 0.0px,#450356 8.0px,#450558 15.0px,#46075a 21.5px,#440356 29.5px,#46085b 38.0px,#440255 46.0px,#46085b 55.1px,#440255 63.6px,#46085c 72.1px,#440255 80.6px,#46085c 89.1px,#440255 97.6px,#46085c 106.6px,#440254 114.6px,#46095c 123.6px,#440154 131.6px,#46095c 140.6px,#440154 149.1px,#46095c 157.6px,#440154 166.2px,#46095c 175.2px,#440154 183.2px,#46095d 192.2px,#440154 200.7px,#46095d 209.2px,#440154 217.2px)"></i><i style="left:65px;background:linear-gradient(#46085b 0.0px,#450356 10.0px,#46085b 18.5px,#440356 27.0px,#46085b 36.0px,#440255 44.5px,#46085b 53.0px,#440255 61.6px,#46085c 70.1px,#440255 79.1px,#46085c 87.6px,#440255 96.1px,#46095c 105.1px,#440254 113.6px,#46095c 122.6px,#440154 130.6px,#46095c 139.6px,#440154 148.1px,#46095c 157.1px,#440154 165.7px,#46095c 174.7px,#440154 182.7px,#46095c 192.2px,#440154 200.2px,#46095d 209.2px,#440154 217.2px)"></i><i style="left:66px;background:linear-gradient(#450659 0.0px,#450356 8.0px,#46085b 16.0px,#440356 25.0px,#46085b 33.5px,#440255 42.0px,#46085c 51.0px,#440255 59.6px,#46085c 68.6px,#440255 77.1px,#46095c 86.1px,#440255 94.6px,#46095c 103.6px,#440254 112.1px,#46095c 121.1px,#440154 129.6px,#46095d 138.6px,#440154 147.1px,#46095d 156.1px,#440154 165.2px,#46095d 173.7px,#440154 182.7px,#46095d 191.7px,#440154 200.2px,#46095d 209.2px,#440154 217.2px)"></i><i style="left:67px;background:linear-gradient(#450356 0.0px,#450559 7.5px,#46075b 14.5px,#440356 22.5px,#46085b 31.0px,#440255 40.0px,#46085c 49.0px,#440255 57.6px,#46095c 66.6px,#440255 75.6px,#46095c 84.1px,#440255 93.1px,#46095c 102.1px,#440255 111.1px,#46095d 119.6px,#440254 128.6px,#46095d 137.6px,#440154 146.6px,#46095d 155.6px,#440154 164.2px,#460a5d 173.2px,#440154 182.2px,#460a5d 191.2px,#440154 199.7px,#460a5d 209.2px,#440154 217.2px)"></i><i style="left:68px;background:linear-gradient(#440356 0.0px,#46085b 11.0px,#450356 20.0px,#46095c 28.5px,#440255 37.5px,#46095c 46.5px,#440255 55.6px,#46095c 64.6px,#440255 73.6px,#46095c 82.6px,#440255 91.6px,#46095d 100.6px,#440255 109.6px,#46095d 118.6px,#440254 127.6px,#460a5d 136.6px,#440154 145.6px,#460a5d 154.6px,#440154 163.7px,#460a5d 172.7px,#440154 181.7px,#460a5d 190.7px,#440154 199.7px,#460a5d 208.7px,#440154 217.2px)"></i><i style="left:69px;background:linear-gradient(#450457 0.0px,#46085c 8.5px,#450356 17.5px,#46095c 26.5px,#440356 35.5px,#46095c 44.5px,#440255 53.5px,#46095d 62.6px,#440255 72.1px,#460a5d 80.6px,#440255 90.1px,#460a5d 99.1px,#440254 108.1px,#460a5d 117.1px,#440254 126.6px,#460a5d 135.6px,#440154 144.6px,#460a5d 154.1px,#440154 162.6px,#460a5e 172.2px,#440154 181.2px,#460a5e 190.7px,#440154 199.2px,#460b5e 208.7px,#440154 217.2px)"></i><i style="left:70px;background:linear-gradient(#45075a 0.0px,#46085b 7.0px,#450356 15.0px,#46095c 24.0px,#440255 33.0px,#46095c 42.5px,#440255 51.5px,#460a5d 60.6px,#440255 70.1px,#460a5d 79.1px,#440255 88.1px,#460a5d 97.6px,#440254 106.6px,#460a5e 116.1px,#440254 125.1px,#460a5e 134.6px,#440154 143.6px,#460b5e 153.1px,#440154 161.6px,#460b5e 171.7px,#440154 180.2px,#460b5e 190.2px,#440154 198.7px,#460b5e 208.7px,#440154 217.2px)"></i><i style="left:71px;background:linear-gradient(#46095d 0.0px,#450356 12.5px,#46095c 21.5px,#440356 30.5px,#46095d 40.0px,#440255 49.5px,#460a5d 58.6px,#440255 68.1px,#460a5d 77.6px,#440255 86.6px,#460a5d 96.1px,#440255 105.1px,#460a5e 115.1px,#440254 123.6px,#460b5e 133.6px,#440154 142.6px,#460b5e 152.1px,#440154 161.1px,#460b5e 171.2px,#440154 179.7px,#460b5e 189.7px,#440154 198.7px,#460b5e 208.2px,#440154 217.2px)"></i><i style="left:72px;background:linear-gradient(#46095c 0.0px,#450356 9.5px,#46095c 19.0px,#440356 28.0px,#460a5d 37.5px,#440255 47.0px,#460a5d 56.6px,#440255 66.1px,#460a5d 75.6px,#440255 84.6px,#460a5e 94.6px,#440255 103.6px,#460b5e 113.6px,#440254 122.6px,#460b5e 132.1px,#440154 141.6px,#460b5e 151.1px,#440154 160.6px,#460b5e 170.2px,#440154 179.2px,#460b5e 189.2px,#440154 198.2px,#460b5e 208.2px,#440154 217.2px)"></i><i style="left:73px;background:linear-gradient(#450659 0.0px,#450457 7.5px,#460a5d 16.0px,#440356 25.5px,#460a5d 35.0px,#440356 45.0px,#460a5e 54.0px,#440255 64.1px,#460a5e 73.6px,#440255 83.1px,#460b5e 92.6px,#440255 102.1px,#460b5e 111.6px,#440255 121.6px,#460b5e 131.1px,#440154 140.6px,#460b5f 150.1px,#440154 159.6px,#460c5f 169.7px,#440154 178.7px,#460c5f 188.7px,#440154 198.2px,#460c5f 208.2px,#440154 217.2px)"></i><i style="left:74px;background:linear-gradient(#450356 0.0px,#450659 7.0px,#460a5d 14.0px,#450356 23.0px,#460a5e 32.5px,#440355 42.5px,#460b5e 52.0px,#440255 62.1px,#460b5e 71.6px,#440255 81.1px,#460b5e 91.1px,#440255 100.6px,#460b5e 110.6px,#440254 120.1px,#460c5f 130.1px,#440154 139.1px,#460c5f 149.6px,#440154 158.6px,#460c5f 169.2px,#440154 178.2px,#460c5f 188.7px,#440154 197.7px,#470c5f 208.2px,#440154 217.2px)"></i><i style="left:75px;background:linear-gradient(#450356 0.0px,#460a5d 10.5px,#450356 20.5px,#460b5e 30.0px,#440356 40.0px,#460b5e 49.5px,#440255 59.6px,#460b5e 69.6px,#440255 79.1px,#460c5f 89.1px,#440255 99.1px,#460c5f 109.1px,#440254 118.6px,#470c5f 128.6px,#440154 138.1px,#470c5f 148.6px,#440154 157.6px,#460a5d 164.7px,#460b5e 169.7px,#440154 177.2px,#46075b 183.2px,#470c5f 188.7px,#440154 197.2px,#46095c 203.7px,#460c5f 208.7px,#440154 216.7px,#440154 217.2px)"></i><i style="left:76px;background:linear-gradient(#450559 0.0px,#460a5d 8.0px,#450356 17.5px,#460b5e 27.5px,#440356 37.5px,#460b5e 47.5px,#440255 57.6px,#460b5f 67.6px,#440255 77.1px,#460c5f 87.6px,#440255 97.1px,#460c5f 107.6px,#440254 117.1px,#470c5f 127.6px,#440154 137.1px,#470c5f 147.6px,#440154 157.1px,#470d60 167.7px,#440154 177.2px,#460a5e 184.2px,#460b5f 189.2px,#440154 196.7px,#46075b 202.7px,#470c60 208.2px,#440154 217.2px)"></i><i style="left:77px;background:linear-gradient(#46095d 0.0px,#46085b 7.5px,#450356 15.0px,#460b5e 25.0px,#440356 35.0px,#460b5e 45.0px,#440255 55.1px,#460c5f 65.1px,#440255 75.6px,#460c5f 85.6px,#440255 95.6px,#470c5f 105.6px,#440255 116.1px,#470d60 126.1px,#440254 136.1px,#470d60 146.1px,#440154 156.1px,#460a5d 163.2px,#460c5f 168.2px,#440154 176.2px,#46085b 182.2px,#470d60 187.7px,#440154 196.7px,#46085b 202.7px,#470d60 208.2px,#440154 216.7px,#440154 217.2px)"></i><i style="left:78px;background:linear-gradient(#460c5f 0.0px,#450356 12.0px,#460b5f 22.0px,#450356 32.5px,#460c5f 42.5px,#440255 52.5px,#470c5f 63.1px,#440255 73.6px,#470d60 83.6px,#440255 93.6px,#470d60 104.1px,#440254 114.1px,#470d60 124.6px,#440254 134.6px,#460a5d 141.6px,#470c5f 146.6px,#440154 155.1px,#460a5d 162.1px,#470d60 167.2px,#440154 175.7px,#46085b 181.7px,#470d60 187.2px,#440154 196.2px,#46075a 201.7px,#470e61 207.2px,#440154 217.2px)"></i><i style="left:79px;background:linear-gradient(#460a5d 0.0px,#450356 8.5px,#460c5f 19.5px,#450356 29.5px,#470c5f 40.0px,#440356 50.5px,#470c5f 61.1px,#440255 71.1px,#470d60 82.1px,#440255 91.6px,#470d60 102.6px,#440254 112.6px,#470d60 123.6px,#440254 133.6px,#460b5e 140.6px,#470d60 145.6px,#440154 154.1px,#46095c 160.6px,#470d60 166.2px,#440154 175.2px,#46085c 181.2px,#470e61 186.7px,#440154 195.7px,#45065a 201.2px,#470e61 206.7px,#440154 217.2px)"></i><i style="left:80px;background:linear-gradient(#450659 0.0px,#450457 7.0px,#460c5f 16.0px,#450356 27.0px,#470c5f 37.5px,#440356 48.0px,#470d60 58.6px,#440255 69.1px,#470d60 79.6px,#440255 90.1px,#470e60 100.6px,#440255 111.1px,#470e61 122.1px,#440254 132.1px,#46095d 138.6px,#470e61 144.1px,#440154 153.1px,#46085b 159.1px,#470e61 164.7px,#440154 174.7px,#46095c 180.7px,#470e61 186.2px,#440154 195.7px,#46085b 201.7px,#470e61 207.2px,#440154 216.7px,#440154 217.2px)"></i><i style="left:81px;background:linear-gradient(#450356 0.0px,#46095c 8.0px,#460c5f 14.0px,#450356 24.0px,#470d60 34.5px,#440356 45.5px,#470d60 56.1px,#440255 66.6px,#470e61 77.6px,#440255 88.1px,#470e61 99.1px,#440255 109.6px,#470e61 120.6px,#440254 131.1px,#460a5d 137.6px,#470e61 142.6px,#440154 152.1px,#46075a 157.6px,#470f61 163.7px,#440154 173.7px,#46085b 179.7px,#470f62 185.2px,#440154 195.2px,#46075a 200.7px,#470f62 206.7px,#440154 216.7px,#440154 217.2px)"></i><i style="left:82px;background:linear-gradient(#450457 0.0px,#470d60 10.0px,#450356 21.0px,#470d60 32.0px,#440356 42.5px,#470e60 54.0px,#440255 64.1px,#470e61 75.6px,#440255 86.1px,#470e61 97.1px,#440255 108.1px,#470f62 119.1px,#440254 129.6px,#460a5d 136.1px,#470f62 141.6px,#440154 151.1px,#46075a 156.6px,#470f62 162.6px,#440154 173.2px,#46085c 179.2px,#470f62 184.7px,#440154 194.7px,#45065a 200.2px,#470f62 206.2px,#450659 212.7px,#440154 217.2px)"></i><i style="left:83px;background:linear-gradient(#46085b 0.0px,#470d60 7.5px,#450356 18.0px,#470e60 29.0px,#450356 40.0px,#470e61 51.0px,#440255 62.1px,#470e61 73.1px,#440255 84.1px,#470f62 95.6px,#440255 106.1px,#460a5d 112.6px,#470f62 118.1px,#440254 128.1px,#46095d 134.6px,#470f62 140.1px,#440154 150.1px,#46075a 155.6px,#471062 161.6px,#450558 168.7px,#440255 174.2px,#471063 183.7px,#46075b 189.7px,#440154 195.2px,#46095d 201.2px,#471062 206.7px,#440154 216.7px,#440154 217.2px)"></i><i style="left:84px;background:linear-gradient(#470d60 0.0px,#460a5e 7.0px,#450356 15.0px,#470e61 26.0px,#450356 37.5px,#470e61 48.5px,#440255 59.6px,#470f62 71.1px,#440255 82.1px,#470d60 90.1px,#470e61 95.6px,#440255 104.1px,#46085c 110.1px,#471062 116.1px,#440255 126.6px,#46085b 132.6px,#471063 138.6px,#440154 149.1px,#46075a 154.6px,#471063 160.6px,#45075a 167.2px,#440154 172.7px,#460b5e 179.2px,#471063 184.2px,#440154 194.2px,#46075a 199.7px,#471063 205.7px,#46085b 211.7px,#440154 217.2px)"></i><i style="left:85px;background:linear-gradient(#470e61 0.0px,#450357 11.5px,#470e61 23.0px,#450356 34.5px,#470f62 46.0px,#440356 57.1px,#470f62 68.6px,#440255 80.1px,#471063 91.6px,#440255 102.6px,#460a5d 109.1px,#471063 114.6px,#440255 125.1px,#46085b 131.1px,#471063 137.1px,#450659 144.1px,#440255 149.6px,#471163 159.6px,#46085c 165.7px,#440154 171.7px,#460a5d 177.7px,#471164 183.2px,#440154 193.7px,#45065a 199.2px,#471163 205.2px,#460a5d 210.7px,#440154 216.7px,#440154 217.2px)"></i><i style="left:86px;background:linear-gradient(#460b5e 0.0px,#450457 8.5px,#470f62 20.0px,#450356 31.5px,#470f62 43.0px,#440356 54.6px,#471062 66.6px,#440255 77.6px,#460b5e 84.6px,#471063 90.1px,#440255 100.6px,#460a5d 107.1px,#471063 113.1px,#440255 123.6px,#46085b 129.6px,#471164 135.6px,#460a5d 141.1px,#440154 147.1px,#46095c 153.1px,#471164 159.1px,#46075a 165.7px,#440154 171.2px,#460a5d 177.2px,#471164 182.7px,#450559 189.7px,#440154 194.7px,#460c5f 201.2px,#471164 206.2px,#440154 216.2px,#440154 217.2px)"></i><i style="left:87px;background:linear-gradient(#450659 0.0px,#450558 7.0px,#470f62 16.5px,#450356 28.5px,#471062 40.5px,#450356 52.0px,#471063 63.6px,#440255 75.6px,#471163 87.6px,#440255 99.1px,#460b5e 105.6px,#471164 111.1px,#440255 122.1px,#46085b 128.1px,#471164 134.6px,#46075b 141.1px,#440254 146.6px,#460a5d 152.6px,#471264 158.1px,#46095c 164.2px,#440154 169.7px,#46075b 175.2px,#471264 181.2px,#460b5e 186.7px,#440154 192.7px,#450558 197.7px,#471264 204.7px,#460c5f 210.2px,#440154 216.2px,#440154 217.2px)"></i><i style="left:88px;background:linear-gradient(#450457 0.0px,#460b5e 8.0px,#470f62 14.5px,#450356 25.0px,#471063 37.5px,#450356 49.0px,#471163 61.6px,#440255 73.1px,#460c5f 80.6px,#471164 86.1px,#440255 96.6px,#46085c 102.6px,#471264 109.1px,#46085b 115.6px,#440255 121.6px,#470d60 128.6px,#471264 134.1px,#440254 144.6px,#46075a 150.1px,#471265 156.6px,#470d60 161.6px,#440254 168.2px,#450659 173.7px,#471265 180.7px,#460c5f 186.2px,#440154 192.2px,#450558 197.2px,#471265 204.2px,#470e61 209.2px,#440254 215.7px,#440154 217.2px)"></i><i style="left:89px;background:linear-gradient(#450659 0.0px,#471063 9.5px,#450457 22.5px,#471063 34.0px,#450356 46.5px,#471164 58.6px,#45075a 66.1px,#450356 72.1px,#471264 82.6px,#46095d 89.1px,#440255 95.1px,#460b5e 101.6px,#471265 107.6px,#46085b 114.1px,#440255 120.1px,#470d60 127.1px,#471265 132.6px,#440255 143.1px,#45075a 148.6px,#471365 155.6px,#470c5f 161.1px,#440255 167.2px,#450659 172.7px,#471365 179.7px,#470e61 184.7px,#440154 191.7px,#450558 196.7px,#471365 204.2px,#470d60 209.7px,#440254 215.7px,#440154 217.2px)"></i><i style="left:90px;background:linear-gradient(#460b5e 0.0px,#471063 7.5px,#450457 18.5px,#471164 31.5px,#450356 43.5px,#471264 56.1px,#440356 68.1px,#460c5f 75.1px,#471265 81.1px,#440255 92.6px,#46095c 98.6px,#471365 105.1px,#460b5e 111.1px,#440255 117.6px,#46095c 123.6px,#481366 130.1px,#460b5e 136.1px,#440254 142.1px,#46075a 147.6px,#481366 154.1px,#470e61 159.6px,#440255 166.2px,#450458 171.2px,#481366 179.2px,#470e60 184.7px,#440154 191.2px,#450659 196.7px,#481366 203.7px,#470e61 209.2px,#440254 215.7px,#440154 217.2px)"></i><i style="left:91px;background:linear-gradient(#471063 0.0px,#470e61 6.5px,#450457 15.0px,#471164 28.0px,#450356 40.5px,#471265 53.0px,#46085b 60.6px,#450356 66.6px,#471365 78.1px,#460b5e 84.1px,#440255 90.6px,#460a5d 97.1px,#481366 103.1px,#460c5f 109.1px,#440255 115.6px,#46095c 121.6px,#481366 128.1px,#470e61 133.6px,#440255 140.1px,#450659 145.6px,#481466 153.1px,#470e61 158.6px,#440255 165.2px,#450558 170.7px,#481466 178.2px,#471063 183.2px,#440255 190.2px,#450458 195.7px,#481467 203.7px,#470f61 209.2px,#440254 215.7px,#440154 217.2px)"></i><i style="left:92px;background:linear-gradient(#471163 0.0px,#450457 11.5px,#470f62 20.5px,#471164 26.5px,#450356 37.0px,#460d60 44.5px,#471365 50.5px,#450356 62.6px,#460a5d 69.1px,#481366 75.6px,#460b5e 82.1px,#440255 88.6px,#460a5d 94.6px,#481466 101.1px,#470c5f 107.1px,#440255 113.6px,#46085b 119.6px,#481467 126.6px,#470e61 132.1px,#440255 138.6px,#450659 144.1px,#481467 152.1px,#470f62 157.6px,#440255 164.2px,#450558 169.7px,#481567 177.7px,#471163 182.7px,#440255 189.7px,#450457 194.7px,#481567 203.2px,#471063 208.7px,#440254 215.7px,#440154 217.2px)"></i><i style="left:93px;background:linear-gradient(#460c5f 0.0px,#450457 8.5px,#471365 21.0px,#450457 34.0px,#470d60 41.5px,#471366 48.0px,#450356 60.1px,#460b5e 66.6px,#481466 73.1px,#460c5f 79.1px,#440255 86.1px,#460b5e 92.6px,#481467 99.1px,#470d60 105.1px,#440255 111.6px,#45075a 117.1px,#481567 124.6px,#471063 130.1px,#440255 137.1px,#450559 142.6px,#481567 150.6px,#471164 155.6px,#440255 163.2px,#450558 168.7px,#481568 176.7px,#471164 182.2px,#440255 189.2px,#450357 194.2px,#481568 202.7px,#471164 208.2px,#440255 215.2px,#440154 217.2px)"></i><i style="left:94px;background:linear-gradient(#45075a 0.0px,#450659 6.5px,#471366 17.5px,#450457 30.5px,#460c5f 37.5px,#481466 44.5px,#450356 57.1px,#460b5e 63.6px,#481567 70.6px,#460c5f 77.1px,#440355 83.6px,#46095c 89.6px,#481568 96.6px,#470f61 102.6px,#440255 109.6px,#45075a 115.1px,#481668 123.1px,#471063 128.6px,#440255 136.1px,#450659 141.6px,#481568 149.1px,#471264 154.6px,#440255 162.1px,#450558 167.7px,#481668 175.7px,#471265 181.2px,#440255 188.7px,#450356 193.7px,#481668 202.7px,#471265 207.7px,#440255 215.2px,#440154 217.2px)"></i><i style="left:95px;background:linear-gradient(#450558 0.0px,#470e61 8.0px,#471366 14.5px,#450457 27.0px,#460d60 34.5px,#481467 41.0px,#460b5e 48.0px,#450356 54.6px,#460d60 61.6px,#481567 68.1px,#470d60 74.1px,#440356 81.1px,#46095c 87.1px,#481668 94.1px,#471164 99.6px,#440356 107.1px,#450659 112.6px,#481668 121.1px,#471164 126.6px,#440255 134.1px,#450558 139.6px,#481669 148.1px,#471265 153.6px,#440255 161.1px,#450457 166.2px,#481769 175.2px,#471265 180.7px,#440255 188.2px,#450356 193.2px,#481769 202.2px,#481466 207.2px,#440255 215.2px,#440154 217.2px)"></i><i style="left:96px;background:linear-gradient(#46085b 0.0px,#481467 9.5px,#460d5f 16.5px,#450457 24.0px,#471063 32.5px,#481567 38.5px,#450356 51.0px,#460b5e 57.6px,#481668 64.6px,#470f61 71.1px,#450356 78.1px,#46085b 84.1px,#481669 91.6px,#471265 97.1px,#440356 105.1px,#450659 110.6px,#481769 119.1px,#471365 124.6px,#440255 132.6px,#450558 138.1px,#481769 146.6px,#471366 152.1px,#440255 160.1px,#450457 165.2px,#48176a 174.2px,#481466 179.7px,#440255 187.7px,#450357 192.7px,#481769 201.7px,#481467 207.2px,#440255 215.2px,#440154 217.2px)"></i><i style="left:97px;background:linear-gradient(#471063 0.0px,#481567 7.0px,#450458 19.5px,#460c5f 26.5px,#481668 34.0px,#470e61 40.5px,#450457 48.0px,#460c5f 54.6px,#481769 62.1px,#470e61 68.6px,#450356 75.6px,#46095c 81.6px,#48176a 89.6px,#471164 95.6px,#440356 103.1px,#450659 108.6px,#48176a 117.1px,#481467 122.6px,#440356 130.6px,#450558 136.1px,#48186a 145.1px,#481568 150.1px,#440255 159.1px,#450558 164.7px,#48186a 173.7px,#481467 179.2px,#440255 187.2px,#450457 192.2px,#48186a 201.2px,#481669 206.2px,#440255 215.2px,#440154 217.2px)"></i><i style="left:98px;background:linear-gradient(#481568 0.0px,#471264 6.5px,#450558 15.5px,#460c5f 22.5px,#481669 30.0px,#471062 36.5px,#450457 44.0px,#46095c 50.0px,#481769 58.1px,#471265 64.1px,#450356 72.6px,#46095c 78.6px,#48186a 86.6px,#481467 92.1px,#440356 101.1px,#45075a 106.6px,#48186a 115.1px,#481567 120.6px,#440356 129.1px,#450558 134.6px,#48186b 143.6px,#481668 149.1px,#440255 158.1px,#450457 163.2px,#48196b 172.7px,#481568 178.2px,#440255 186.7px,#450457 191.7px,#48196b 201.2px,#481769 206.2px,#440255 215.2px,#440154 217.2px)"></i><i style="left:99px;background:linear-gradient(#481568 0.0px,#450558 11.5px,#460b5e 18.0px,#481769 26.0px,#471264 32.0px,#450457 40.5px,#46095c 46.5px,#48186a 55.1px,#471366 61.1px,#450457 69.6px,#45085b 75.1px,#48196b 84.1px,#481467 90.1px,#450356 98.6px,#450659 104.1px,#48196b 113.1px,#481668 118.6px,#440356 127.6px,#450558 133.1px,#48196b 142.1px,#481769 147.6px,#440255 156.6px,#450457 161.6px,#481a6c 171.7px,#481769 177.2px,#440255 185.7px,#450457 191.2px,#481a6c 200.7px,#48186a 205.7px,#440255 215.2px,#440154 217.2px)"></i><i style="left:100px;background:linear-gradient(#470f62 0.0px,#450558 8.0px,#470f61 15.5px,#48186a 22.5px,#471164 29.0px,#450457 37.0px,#460a5d 43.5px,#48196b 51.5px,#471467 57.6px,#450457 66.6px,#45085b 72.1px,#48196b 81.1px,#481769 86.6px,#450356 96.1px,#450659 101.6px,#481a6c 111.1px,#481769 116.6px,#450356 125.6px,#450558 131.1px,#481a6c 140.6px,#48196b 145.6px,#440255 155.6px,#450457 160.6px,#481b6d 170.7px,#48196b 175.7px,#440255 185.2px,#450457 190.7px,#481b6d 200.2px,#48196c 205.2px,#440255 215.2px,#440154 217.2px)"></i><i style="left:101px;background:linear-gradient(#46085b 0.0px,#45075a 6.5px,#48196b 18.5px,#471265 25.0px,#450558 33.0px,#46095c 39.0px,#481a6c 48.5px,#471567 54.6px,#450457 63.6px,#46095c 69.6px,#481a6c 78.1px,#48186a 83.6px,#450356 93.6px,#450659 99.1px,#481b6d 108.6px,#48186a 114.1px,#440356 124.1px,#450659 129.6px,#481b6d 139.1px,#481a6c 144.1px,#440255 154.1px,#450457 159.1px,#481c6e 169.7px,#481a6c 174.7px,#440255 184.7px,#450356 189.7px,#481b6d 199.7px,#481b6d 204.7px,#440255 215.2px,#440154 217.2px)"></i><i style="left:102px;background:linear-gradient(#450659 0.0px,#471163 7.5px,#481a6c 14.5px,#471365 21.0px,#450558 29.5px,#460a5d 35.5px,#481a6c 44.5px,#481669 50.5px,#450457 60.1px,#46085b 66.1px,#481b6d 75.6px,#48176a 81.6px,#450356 91.1px,#450659 96.6px,#481b6d 106.1px,#481a6c 111.6px,#450356 122.1px,#450558 127.1px,#481c6e 137.1px,#481b6d 142.6px,#440255 153.1px,#450457 158.1px,#481c6e 168.2px,#481c6e 173.2px,#440255 184.2px,#450357 189.2px,#481c6e 199.2px,#481c6d 204.7px,#440255 214.7px,#440154 217.2px)"></i><i style="left:103px;background:linear-gradient(#460c5f 0.0px,#481a6c 9.5px,#481668 15.5px,#450558 25.0px,#460a5d 31.5px,#481b6d 41.0px,#481769 47.0px,#450558 56.6px,#45075a 62.1px,#481c6e 72.6px,#48196b 78.1px,#450457 88.1px,#450659 93.6px,#481d6e 104.1px,#481a6c 109.6px,#450356 120.1px,#450659 125.6px,#481d6f 135.6px,#481b6d 141.1px,#440255 151.6px,#450558 157.1px,#481d6e 166.7px,#481d6f 172.2px,#440255 183.2px,#450457 188.7px,#481d6f 198.7px,#481d6f 204.2px,#440255 214.7px,#440154 217.2px)"></i><i style="left:104px;background:linear-gradient(#471668 0.0px,#481b6d 7.0px,#471063 14.5px,#450558 22.0px,#460c5f 28.0px,#481c6e 37.0px,#48186b 43.0px,#450558 53.0px,#45075a 58.6px,#481d6f 69.6px,#481a6c 75.1px,#450457 85.6px,#45075a 91.1px,#481e6f 101.6px,#481b6d 107.1px,#450356 117.6px,#450558 123.1px,#481e70 133.6px,#481d6f 139.1px,#440356 150.1px,#450458 155.6px,#481e70 165.7px,#481e70 171.2px,#440255 182.7px,#450356 187.7px,#481e70 198.2px,#481e70 203.7px,#460a5d 211.2px,#440154 216.2px,#440154 217.2px)"></i><i style="left:105px;background:linear-gradient(#481c6e 0.0px,#48186a 6.5px,#450659 17.0px,#460b5e 23.5px,#481d6e 32.5px,#481b6c 38.5px,#450558 49.5px,#46095c 55.6px,#481e6f 65.6px,#481c6e 71.1px,#450457 82.6px,#45075a 88.1px,#481f70 98.6px,#481e6f 104.1px,#450356 115.6px,#450559 121.1px,#481f70 131.6px,#481f70 137.1px,#450356 148.6px,#450457 153.6px,#481f71 164.7px,#481f71 170.2px,#440256 181.7px,#450457 187.2px,#481f71 197.7px,#482071 203.2px,#460c5f 210.7px,#440254 215.7px,#440154 217.2px)"></i><i style="left:106px;background:linear-gradient(#481b6d 0.0px,#45075a 12.0px,#460a5d 18.0px,#481e70 28.5px,#481b6d 34.5px,#450659 45.5px,#45085b 51.0px,#481f71 62.6px,#481c6e 68.6px,#450457 79.6px,#45075a 85.1px,#482071 96.1px,#481f70 101.6px,#450457 113.1px,#450558 118.1px,#482172 130.1px,#481f71 135.6px,#450356 147.1px,#450457 152.1px,#482172 163.7px,#482172 169.2px,#470c5f 176.7px,#440255 181.7px,#450457 186.7px,#482173 197.7px,#482172 203.2px,#460a5e 211.2px,#440154 216.2px,#440154 217.2px)"></i><i style="left:107px;background:linear-gradient(#471265 0.0px,#45075a 8.0px,#460c5f 14.0px,#481f71 24.5px,#481c6e 30.5px,#450558 42.0px,#460a5d 48.5px,#482071 58.6px,#481f70 64.1px,#450457 76.6px,#45075a 82.1px,#482273 93.6px,#482071 99.1px,#450457 110.6px,#450457 115.6px,#482273 128.1px,#482172 133.6px,#450356 145.6px,#450457 150.6px,#482273 162.1px,#482374 167.2px,#481466 173.7px,#440356 180.2px,#450356 185.2px,#482374 197.2px,#482273 202.7px,#470e61 210.2px,#440255 215.2px,#440154 217.2px)"></i><i style="left:108px;background:linear-gradient(#46095c 0.0px,#45085b 6.5px,#482172 20.0px,#481d6f 26.0px,#450659 37.5px,#45085b 43.0px,#482273 55.1px,#482071 60.6px,#450558 73.1px,#45075a 78.6px,#482273 90.1px,#482273 95.6px,#450457 108.6px,#450558 113.6px,#482374 125.6px,#482374 131.1px,#470e61 139.1px,#440255 144.6px,#450558 149.6px,#482374 160.6px,#482475 166.2px,#471366 173.2px,#450356 179.2px,#450356 184.2px,#481769 191.2px,#482576 197.7px,#482374 202.7px,#46095d 211.7px,#440154 216.2px,#440154 217.2px)"></i><i style="left:109px;background:linear-gradient(#45085b 0.0px,#471466 7.5px,#482272 15.0px,#481f70 21.0px,#45075a 33.0px,#46095c 39.0px,#482373 51.0px,#482172 57.1px,#450558 69.6px,#45075a 75.1px,#482474 87.1px,#482374 93.1px,#450457 105.6px,#450558 111.1px,#482475 123.1px,#482576 128.6px,#471265 136.1px,#450356 142.1px,#450457 147.1px,#482575 159.6px,#482676 165.2px,#471466 172.2px,#450356 178.2px,#440356 183.2px,#471164 188.7px,#482575 195.7px,#482777 200.7px,#48186b 207.2px,#440255 214.7px,#440154 217.2px)"></i><i style="left:110px;background:linear-gradient(#461163 0.0px,#482374 10.5px,#481f70 17.0px,#45075a 28.5px,#46095c 34.5px,#482474 46.5px,#482374 52.5px,#450558 66.1px,#45085b 71.6px,#482676 84.1px,#482575 89.6px,#471265 97.1px,#450457 103.6px,#45075a 109.1px,#482676 120.6px,#482777 126.1px,#481669 133.1px,#450356 140.1px,#450457 145.6px,#482676 157.6px,#482878 163.2px,#481b6d 169.2px,#450457 176.7px,#440255 181.7px,#470d60 186.7px,#482676 194.7px,#482979 200.2px,#481a6c 206.7px,#440255 214.7px,#440154 217.2px)"></i><i style="left:111px;background:linear-gradient(#471e6f 0.0px,#482575 7.5px,#481c6e 14.0px,#45085a 24.0px,#460a5d 30.0px,#482676 42.5px,#482575 48.5px,#450659 62.1px,#45085a 67.6px,#482777 80.6px,#482777 86.1px,#471366 94.1px,#450457 100.6px,#45075a 106.1px,#482777 118.1px,#482979 123.6px,#481a6c 130.1px,#450558 137.6px,#450356 142.6px,#471063 148.1px,#482877 156.1px,#472a7a 161.6px,#481b6d 168.2px,#450457 175.7px,#440255 180.7px,#470d60 185.7px,#482777 193.7px,#472b7a 199.2px,#481f71 205.2px,#440255 214.7px,#440154 217.2px)"></i><i style="left:112px;background:linear-gradient(#472776 0.0px,#482273 6.5px,#46095c 18.5px,#460a5c 24.5px,#472777 38.0px,#482777 43.5px,#471366 52.0px,#450659 58.6px,#46095b 64.1px,#472877 76.6px,#472979 82.1px,#481b6d 88.6px,#450558 97.1px,#450659 102.6px,#472978 115.6px,#472b7a 121.1px,#481d6e 127.6px,#450558 135.6px,#450356 140.6px,#471063 146.1px,#472978 154.1px,#472d7b 159.6px,#482172 165.7px,#450457 174.7px,#440255 179.7px,#470d60 184.7px,#482978 193.2px,#472d7c 198.7px,#482273 204.7px,#450356 214.2px,#440154 217.2px)"></i><i style="left:113px;background:linear-gradient(#472575 0.0px,#45095b 14.0px,#460b5e 20.0px,#472978 33.5px,#472878 39.5px,#471163 49.0px,#450659 55.1px,#460b5e 61.1px,#472978 72.6px,#472b7a 78.6px,#481a6c 86.1px,#450659 93.6px,#450558 99.1px,#481b6d 107.1px,#472d7b 114.1px,#472c7b 119.6px,#48196b 126.6px,#450558 133.6px,#450356 138.6px,#471063 144.1px,#472a79 152.1px,#472f7d 157.6px,#482676 163.2px,#450457 173.7px,#440255 178.7px,#470d60 183.7px,#472a79 192.2px,#47307d 197.7px,#482576 203.7px,#450356 214.2px,#440154 217.2px)"></i><i style="left:114px;background:linear-gradient(#47196b 0.0px,#46095c 9.0px,#460c5f 15.0px,#472a79 28.0px,#472b7a 34.0px,#47196a 42.0px,#45075a 50.0px,#46095c 55.6px,#472c7a 69.1px,#472d7b 75.1px,#481d6e 82.1px,#45075a 90.1px,#450558 95.6px,#471668 102.1px,#472d7b 110.1px,#472f7d 115.6px,#482272 122.1px,#450659 131.1px,#450356 136.1px,#471164 142.1px,#472b7a 150.1px,#46317e 155.6px,#482877 161.6px,#450457 172.7px,#440255 177.7px,#470e61 182.7px,#472b7a 191.2px,#46327f 196.7px,#472a79 202.2px,#450356 214.2px,#440154 217.2px)"></i><i style="left:115px;background:linear-gradient(#460d60 0.0px,#460a5d 7.0px,#471c6d 15.5px,#462d7b 23.5px,#472c7a 29.5px,#471869 38.0px,#45085b 45.0px,#45095c 50.5px,#462e7b 65.1px,#462f7d 71.1px,#481f70 78.1px,#45075a 86.6px,#450659 92.1px,#471668 98.6px,#462e7b 106.6px,#46327f 112.1px,#482676 118.6px,#450659 128.6px,#450356 133.6px,#470f62 139.1px,#472d7b 148.1px,#463480 153.6px,#472c7b 159.1px,#470d60 168.2px,#440255 173.2px,#450458 178.2px,#481d6f 185.7px,#46317e 192.2px,#463480 197.7px,#482777 203.7px,#450457 213.7px,#440154 217.2px)"></i><i style="left:116px;background:linear-gradient(#460b5d 0.0px,#461566 6.5px,#462f7c 17.5px,#462f7c 23.5px,#471d6e 31.5px,#46095c 39.5px,#45095b 45.0px,#47196a 52.0px,#46307d 60.6px,#46327e 66.6px,#472474 73.1px,#45085b 82.6px,#450659 88.1px,#471365 94.1px,#462f7c 103.1px,#453580 109.1px,#472a79 115.1px,#450659 126.1px,#450356 131.1px,#470e61 136.6px,#472e7b 145.6px,#453781 151.1px,#46317e 156.6px,#481a6c 163.7px,#450558 170.2px,#440255 175.2px,#470d60 180.2px,#472e7c 189.2px,#453782 194.7px,#46327e 200.2px,#481a6c 207.2px,#450356 214.2px,#440154 217.2px)"></i><i style="left:117px;background:linear-gradient(#461667 0.0px,#45317d 12.0px,#46317d 18.5px,#471c6d 27.0px,#46095c 35.0px,#460b5d 41.0px,#462372 50.0px,#45347f 57.1px,#453480 62.6px,#472474 69.6px,#46095c 78.6px,#450558 83.6px,#461163 89.6px,#46317d 99.6px,#453882 105.1px,#46317e 110.6px,#471466 119.1px,#450457 125.1px,#450659 130.6px,#481c6d 137.6px,#45347f 145.1px,#443983 150.6px,#472f7c 156.6px,#450659 168.2px,#440255 173.2px,#460b5e 178.2px,#472e7c 187.7px,#443a83 193.2px,#453681 198.7px,#482273 205.2px,#450457 213.7px,#440154 217.2px)"></i><i style="left:118px;background:linear-gradient(#462876 0.0px,#453580 8.0px,#46317d 14.0px,#471566 24.5px,#45095c 31.0px,#460d60 37.0px,#45347f 51.0px,#443882 57.1px,#472b79 63.6px,#46095c 74.6px,#450659 80.1px,#471566 86.6px,#45347f 96.1px,#443b83 102.1px,#46327e 108.1px,#470f61 118.1px,#450356 123.6px,#46085b 129.1px,#46327e 141.1px,#433c84 147.1px,#453781 152.6px,#482071 159.6px,#450559 167.2px,#440255 172.2px,#460c5f 177.2px,#46307d 186.7px,#433d84 192.7px,#443983 198.2px,#482575 204.7px,#450457 213.7px,#440154 217.2px)"></i><i style="left:119px;background:linear-gradient(#443780 0.0px,#453680 6.5px,#462272 14.5px,#460c5e 23.5px,#460c5e 30.0px,#462271 38.5px,#443881 46.5px,#443a83 52.5px,#462d7a 59.1px,#460b5d 70.1px,#450659 75.6px,#461264 81.6px,#443680 92.1px,#433e85 98.1px,#453681 104.1px,#471a6c 112.1px,#450558 119.1px,#450558 124.1px,#471466 130.1px,#45347f 138.6px,#423f85 144.6px,#443b84 150.1px,#482575 157.1px,#450659 165.7px,#440255 170.7px,#460c5f 175.7px,#46317e 185.2px,#423f85 191.2px,#433f85 196.2px,#472d7b 202.7px,#450559 213.2px,#440154 217.2px)"></i><i style="left:120px;background:linear-gradient(#443881 0.0px,#462775 7.5px,#460d60 17.0px,#460b5e 23.0px,#461c6c 30.5px,#433981 40.5px,#423e84 46.5px,#45347f 52.5px,#460b5e 65.6px,#45075a 71.1px,#461264 77.1px,#443780 87.6px,#424186 93.6px,#433b83 99.6px,#472574 106.6px,#45085b 115.1px,#450457 120.1px,#460f62 125.6px,#45357f 135.6px,#414286 141.6px,#424086 147.1px,#472d7b 153.6px,#46075a 163.7px,#440255 168.7px,#460a5d 173.7px,#46327e 183.7px,#414387 190.2px,#414286 195.7px,#46307d 202.2px,#46085c 212.2px,#440154 216.7px,#440154 217.2px)"></i><i style="left:121px;background:linear-gradient(#452b77 0.0px,#460d60 11.5px,#460d60 18.0px,#452270 26.0px,#423d83 35.5px,#424085 42.0px,#45347e 48.5px,#460d5f 60.6px,#45075a 66.1px,#461264 72.1px,#433a81 83.6px,#404487 89.6px,#424086 95.1px,#472978 102.6px,#460a5d 111.1px,#450457 116.1px,#460b5e 121.1px,#45357f 132.1px,#404587 138.6px,#404588 144.1px,#46347f 150.6px,#470d60 160.1px,#440255 165.2px,#450558 170.2px,#481e6f 177.2px,#443a83 184.2px,#3f4788 190.2px,#404487 195.7px,#46317e 202.2px,#460a5d 211.7px,#440154 216.2px,#440154 217.2px)"></i><i style="left:122px;background:linear-gradient(#461868 0.0px,#460d5f 7.0px,#461162 13.0px,#413e83 28.5px,#404587 35.0px,#433b82 41.5px,#47196a 51.5px,#45095c 58.1px,#450a5d 63.6px,#461e6e 70.6px,#423e83 79.6px,#3f4888 85.6px,#414387 91.6px,#462b79 99.1px,#460a5d 108.1px,#450457 113.6px,#460f61 119.1px,#443981 129.6px,#3f4888 135.6px,#3e4a89 141.1px,#433c84 147.1px,#481f70 154.1px,#450659 161.1px,#440255 166.2px,#460d60 171.2px,#46337e 180.2px,#3f4788 186.7px,#3d4c8a 192.2px,#424186 198.2px,#482777 204.7px,#45075a 212.7px,#440154 217.2px)"></i><i style="left:123px;background:linear-gradient(#460e60 0.0px,#461263 6.0px,#442e78 15.5px,#3f4586 24.0px,#3f4888 30.5px,#433981 37.5px,#460f61 50.0px,#45095b 55.6px,#461062 61.1px,#413f83 74.1px,#3d4b89 80.1px,#3e4989 86.1px,#44367f 93.1px,#460b5e 104.1px,#450558 109.1px,#460c5f 114.6px,#44367f 125.1px,#3d4b89 132.1px,#3c4f8a 137.6px,#414387 143.6px,#472978 150.1px,#46085b 158.6px,#440255 163.7px,#460a5d 168.7px,#46327e 178.2px,#3e4989 184.7px,#3b518b 190.2px,#3e4a89 195.7px,#46307d 202.7px,#46085c 212.2px,#440154 216.7px,#440154 217.2px)"></i><i style="left:124px;background:linear-gradient(#451666 0.0px,#423179 9.0px,#3e4987 17.5px,#3d4c89 24.0px,#413e83 31.0px,#461062 44.5px,#45095c 50.0px,#461163 55.6px,#404284 69.1px,#3b4f8a 75.6px,#3d4e8a 81.6px,#433c83 88.1px,#471264 98.6px,#450558 104.1px,#45085b 109.1px,#471d6e 115.6px,#413f84 123.6px,#3b518a 130.1px,#3b528b 136.1px,#414487 142.1px,#472978 148.6px,#46085b 156.6px,#440255 161.6px,#460a5d 166.7px,#46327e 176.2px,#3d4d8a 183.2px,#39558c 189.2px,#3c4f8a 194.7px,#453882 201.2px,#471366 209.2px,#440255 214.7px,#440154 217.2px)"></i><i style="left:125px;background:linear-gradient(#422f78 0.0px,#3c4d88 10.5px,#3b508a 17.0px,#404385 24.0px,#461f6e 34.0px,#460c5f 41.0px,#460c5f 47.0px,#451d6c 53.5px,#3e4685 64.1px,#3a548b 70.6px,#3a528b 76.6px,#414185 83.1px,#471e6e 91.6px,#46095c 98.1px,#450659 103.6px,#461365 109.1px,#413e83 119.1px,#3a548b 126.1px,#38588c 131.6px,#3c4e8a 137.6px,#45337e 144.6px,#460a5d 154.1px,#440255 159.1px,#46085b 164.2px,#472776 171.7px,#3f4687 178.7px,#38578c 184.7px,#37598c 190.2px,#3d4d8a 196.2px,#46327e 202.7px,#460c5f 211.2px,#440254 215.7px,#440154 217.2px)"></i><i style="left:126px;background:linear-gradient(#3c4b86 0.0px,#39558a 7.5px,#3b4f89 14.0px,#42367d 22.0px,#461365 32.0px,#460b5e 37.5px,#461163 43.0px,#442c76 51.0px,#3b4e88 60.1px,#375a8c 66.6px,#39568b 72.6px,#414184 79.6px,#471668 89.6px,#45085b 95.1px,#45075a 100.1px,#461667 105.6px,#413f83 115.1px,#38578b 122.1px,#355e8d 128.1px,#39558c 134.1px,#433a83 141.1px,#471366 149.6px,#450457 155.1px,#450457 160.1px,#471567 165.7px,#433b82 173.7px,#39568c 180.7px,#355f8d 186.7px,#37598c 192.7px,#424186 199.7px,#482172 206.2px,#450559 213.2px,#440154 217.2px)"></i><i style="left:127px;background:linear-gradient(#375a8b 0.0px,#39548a 6.5px,#413c80 14.5px,#461465 25.5px,#460d5f 31.0px,#451364 37.0px,#42337a 46.0px,#395489 55.1px,#355f8d 61.6px,#375a8c 67.6px,#3f4586 74.6px,#46206f 83.1px,#460a5d 89.6px,#45075a 94.6px,#461264 100.1px,#413d82 110.1px,#375a8b 117.6px,#33638d 123.6px,#355e8d 129.6px,#3f4988 136.1px,#472776 143.1px,#46085c 150.6px,#440255 155.6px,#460a5d 160.6px,#462d7b 168.7px,#3d4c89 175.2px,#34618d 181.7px,#32658e 187.7px,#38588c 194.2px,#443b83 201.2px,#481668 208.7px,#450356 214.2px,#440154 217.2px)"></i><i style="left:128px;background:linear-gradient(#38558a 0.0px,#3f4081 7.0px,#461768 18.0px,#460e60 23.5px,#451263 29.5px,#432d76 37.5px,#395388 47.0px,#33638d 54.0px,#33638d 60.1px,#3a528a 67.1px,#44307a 75.1px,#461062 83.1px,#45075a 88.6px,#460d5f 93.6px,#452774 100.6px,#3c4c87 108.6px,#33628d 115.1px,#30698e 121.1px,#34608d 127.6px,#3f4687 134.6px,#472676 141.1px,#460a5d 148.1px,#440356 153.1px,#460a5d 158.1px,#472a78 165.7px,#3d4b88 172.2px,#33648d 179.2px,#2f6b8e 185.2px,#33648d 191.2px,#3d4d8a 197.7px,#472e7c 203.7px,#460a5d 211.7px,#440154 216.2px,#440154 217.2px)"></i><i style="left:129px;background:linear-gradient(#3f3f80 0.0px,#451767 11.5px,#460f61 17.0px,#451565 23.0px,#423177 31.0px,#365989 41.0px,#30698d 48.0px,#30688e 54.6px,#37598b 61.1px,#43367e 69.1px,#461364 77.6px,#45085b 83.1px,#460d5f 88.6px,#452673 95.6px,#3b4f88 104.1px,#31678d 111.1px,#2e6f8e 117.1px,#30698e 123.1px,#3b528a 130.1px,#45317d 136.6px,#460d60 144.6px,#450356 149.6px,#45075a 154.6px,#471d6e 160.6px,#404486 168.2px,#32648d 175.7px,#2d718e 181.7px,#2e6f8e 187.7px,#355d8d 194.2px,#433c84 201.2px,#48186a 208.2px,#450457 213.7px,#440154 217.2px)"></i><i style="left:130px;background:linear-gradient(#44236f 0.0px,#461163 7.5px,#451364 14.0px,#422c74 22.0px,#365888 32.5px,#2e6d8d 40.0px,#2d708e 46.5px,#32658d 53.0px,#3e4684 61.1px,#461869 71.1px,#460a5d 76.6px,#450b5d 82.1px,#461c6b 88.1px,#3d4985 97.6px,#306a8d 105.6px,#2b768e 112.1px,#2c728e 118.1px,#34608d 124.6px,#423d83 132.1px,#471769 139.6px,#450559 145.1px,#450457 150.1px,#471365 155.6px,#443880 163.2px,#365b8c 170.2px,#2c728e 177.2px,#2a798e 183.2px,#2d6f8e 189.7px,#39558b 196.7px,#453580 202.7px,#471062 210.2px,#440255 214.7px,#440154 217.2px)"></i><i style="left:131px;background:linear-gradient(#451263 0.0px,#451565 6.5px,#413076 15.0px,#336089 26.0px,#2c738d 33.0px,#2a788e 39.5px,#2e6d8d 46.0px,#3b4f87 54.0px,#452471 63.1px,#460e60 69.6px,#45095c 74.6px,#461364 80.1px,#42337a 87.6px,#365a8a 95.6px,#2b758d 103.1px,#287d8e 109.6px,#2b768e 116.1px,#355e8c 123.1px,#433a81 130.1px,#471365 138.1px,#450457 143.6px,#450659 148.6px,#471869 154.1px,#413f83 161.6px,#32658d 169.2px,#297b8e 176.2px,#27808e 182.2px,#2b768e 188.7px,#365b8d 195.7px,#443882 202.2px,#481466 209.2px,#450356 214.2px,#440154 217.2px)"></i><i style="left:132px;background:linear-gradient(#441c69 0.0px,#403376 7.0px,#326489 18.0px,#297a8d 25.5px,#277f8e 32.0px,#2b768e 38.5px,#365a8a 46.5px,#433079 55.1px,#461465 62.1px,#460a5d 67.6px,#460f61 73.1px,#442a74 80.1px,#385588 88.6px,#2b778d 96.6px,#25848d 103.1px,#25838e 109.1px,#2d718e 116.1px,#3e4a88 124.6px,#472473 131.6px,#460b5e 137.6px,#450356 142.6px,#460a5d 147.6px,#472574 154.1px,#3e4987 160.6px,#2c728e 169.2px,#25858d 175.7px,#24888d 181.7px,#287b8e 188.2px,#355f8d 195.2px,#433c84 201.7px,#48186b 208.2px,#450457 213.7px,#440154 217.2px)"></i><i style="left:133px;background:linear-gradient(#3d3d7b 0.0px,#2e718a 12.0px,#26848c 19.5px,#24878d 26.0px,#297a8e 33.0px,#365a89 41.0px,#433078 49.5px,#461465 56.6px,#460b5d 61.6px,#461061 67.1px,#442772 73.6px,#385587 82.6px,#2a7b8c 91.1px,#238b8c 97.6px,#228c8d 104.1px,#277e8e 110.6px,#365c8c 118.6px,#433880 125.1px,#471265 132.6px,#450558 137.6px,#450659 142.6px,#471466 147.6px,#423b81 155.1px,#33628c 162.1px,#26848d 170.2px,#21918c 176.7px,#228e8d 182.7px,#287c8e 189.2px,#39568c 197.2px,#46337f 203.2px,#470e60 210.7px,#440255 215.2px,#440154 217.2px)"></i><i style="left:134px;background:linear-gradient(#316987 0.0px,#26888a 9.5px,#22918b 16.0px,#23898d 23.0px,#2d718c 30.5px,#3c4883 39.0px,#451b6a 48.5px,#460d5f 54.0px,#450d5f 59.6px,#451e6c 65.6px,#395185 75.6px,#2a7d8b 84.6px,#23928a 91.6px,#20978a 97.6px,#228d8d 104.1px,#2d728e 111.6px,#3e4786 119.6px,#471e6e 127.1px,#45085b 133.1px,#450457 138.1px,#460f61 143.1px,#45307b 150.1px,#39568a 156.6px,#27818d 165.2px,#22958a 171.7px,#209b89 177.7px,#20928c 183.7px,#2a778e 191.2px,#3f4989 199.7px,#482576 205.7px,#46085c 212.2px,#440154 216.7px,#440154 217.2px)"></i><i style="left:135px;background:linear-gradient(#288f87 0.0px,#229a88 8.0px,#21958a 14.5px,#287e8d 22.0px,#385386 31.0px,#45216e 41.0px,#460e60 47.5px,#450e60 53.5px,#441f6d 59.6px,#395385 69.6px,#2b7f8a 78.1px,#269987 85.6px,#22a186 92.1px,#1f9a8a 98.6px,#27808e 106.1px,#3b5089 115.1px,#462a78 121.6px,#460d60 128.1px,#450457 133.1px,#460a5d 138.6px,#462674 145.1px,#3d4b87 151.6px,#2a788d 159.6px,#239789 167.2px,#24a485 173.7px,#21a287 179.7px,#228e8d 186.7px,#34618d 195.7px,#433d84 201.7px,#48196b 208.2px,#450457 213.7px,#440154 217.2px)"></i><i style="left:136px;background:linear-gradient(#28a583 0.0px,#229f87 7.0px,#25878b 14.5px,#355b88 23.5px,#432b75 32.5px,#451264 39.0px,#460c5e 44.5px,#451565 50.0px,#422f76 56.6px,#355e87 65.1px,#2a8a88 73.6px,#2ba482 81.1px,#2aac80 87.6px,#21a486 94.1px,#21908c 100.1px,#345f8c 109.6px,#433880 116.1px,#471264 123.6px,#450558 128.6px,#450659 133.6px,#471869 139.1px,#413e82 146.1px,#32658c 152.6px,#248f8b 160.6px,#29a882 167.7px,#2daf7e 174.2px,#24a883 180.2px,#20968b 185.7px,#30698e 194.7px,#424186 201.2px,#481e6f 207.2px,#450559 213.2px,#440154 217.2px)"></i><i style="left:137px;background:linear-gradient(#27a783 0.0px,#249389 6.5px,#31668a 15.5px,#40397c 23.5px,#451a69 30.5px,#460d5f 36.0px,#450f61 41.5px,#44236f 47.5px,#395384 56.6px,#2d7d89 64.1px,#30a081 71.6px,#38b378 78.6px,#37b678 84.1px,#27ac81 90.6px,#209a89 95.6px,#2c748e 103.1px,#3e4786 110.6px,#471f6f 117.6px,#46085b 123.6px,#450457 128.6px,#460e61 133.6px,#452d79 140.1px,#39558a 146.6px,#27848c 154.6px,#269f85 160.1px,#37b578 167.2px,#3dba74 172.7px,#32b47b 178.2px,#20a187 184.2px,#228c8d 188.7px,#3a548b 198.2px,#46327e 203.7px,#470e60 210.7px,#440255 215.2px,#440154 217.2px)"></i><i style="left:138px;background:linear-gradient(#269787 0.0px,#2d758b 7.0px,#3b4982 14.5px,#451e6c 23.0px,#450e60 28.5px,#460d5f 34.0px,#451d6b 40.0px,#3d4380 47.5px,#307089 55.1px,#2f9484 61.6px,#40b275 69.1px,#4dbf6c 75.6px,#47bf6f 81.1px,#2eb27d 87.6px,#22a087 92.1px,#25868d 97.1px,#38578a 105.1px,#452e7a 111.6px,#460f62 118.1px,#450457 123.1px,#45085b 128.1px,#471b6c 133.6px,#3f4384 140.6px,#2e708d 147.6px,#25928a 153.6px,#2ca880 158.1px,#47bd6f 164.7px,#52c368 169.2px,#4fc36a 173.7px,#38b877 179.2px,#22a585 184.2px,#20948b 187.7px,#33628d 196.2px,#443b83 202.2px,#481669 208.7px,#450457 213.7px,#440154 217.2px)"></i><i style="left:139px;background:linear-gradient(#2c7a8b 0.0px,#3a4f85 7.5px,#44216e 16.0px,#450e60 22.0px,#460c5e 27.5px,#451a69 33.0px,#3f3e7e 40.5px,#326988 47.5px,#2e8d85 53.5px,#39a67b 58.6px,#56c066 65.6px,#66c95d 71.1px,#64ca5e 75.1px,#51c469 80.1px,#2caf7e 86.6px,#229f87 90.1px,#26838d 95.1px,#39548a 102.6px,#462c78 109.1px,#460d60 115.6px,#450457 120.6px,#46095c 125.6px,#471e6e 131.1px,#3e4786 138.1px,#2c748d 145.1px,#259589 150.6px,#2eaa7f 154.6px,#53c268 161.1px,#68cb5b 165.7px,#6ecd58 169.7px,#64ca5e 173.7px,#44be71 179.2px,#27ac81 183.7px,#1f9c89 186.7px,#29798e 192.7px,#3f4989 200.2px,#482676 205.7px,#46085c 212.2px,#440154 216.7px,#440154 217.2px)"></i><i style="left:140px;background:linear-gradient(#375887 0.0px,#432e76 7.5px,#451363 14.0px,#450a5d 19.0px,#460f61 24.0px,#442471 30.0px,#385586 38.5px,#2d7f89 45.0px,#319981 49.5px,#46b272 54.6px,#6fca57 61.6px,#82d14b 66.6px,#82d34c 70.6px,#74cf55 74.6px,#46bf6f 81.1px,#2bad7f 85.1px,#229a88 88.6px,#2a798d 94.1px,#3d4b88 101.1px,#472473 107.6px,#460a5d 113.6px,#450356 118.6px,#460b5e 123.6px,#472574 129.6px,#3c4d88 136.1px,#297b8d 143.1px,#259788 147.6px,#2eab7f 151.1px,#4cbf6c 155.6px,#78cf51 161.6px,#87d448 165.2px,#8ad547 169.2px,#7cd150 173.2px,#58c665 178.2px,#2bb07f 183.7px,#209f88 186.7px,#25848e 191.2px,#3c508a 199.2px,#472c7a 204.7px,#460c5f 211.2px,#440254 215.7px,#440154 217.2px)"></i><i style="left:141px;background:linear-gradient(#41387c 0.0px,#461364 8.0px,#45095b 13.0px,#460c5f 18.0px,#461e6d 23.5px,#3a4e85 32.0px,#2d788a 38.5px,#2e9584 43.0px,#3cab78 47.0px,#67c55c 53.0px,#8fd344 58.6px,#9fd839 62.6px,#a1d938 66.6px,#91d742 70.6px,#70ce57 75.1px,#35b579 81.6px,#25a584 84.6px,#238f8b 88.1px,#355f8c 95.6px,#443780 101.6px,#471264 108.6px,#450457 113.6px,#450558 118.6px,#471769 124.1px,#423b82 130.6px,#33638c 136.6px,#248d8b 143.1px,#28a383 146.6px,#3cb675 150.1px,#78cf52 156.6px,#99d73e 161.1px,#a7da35 164.7px,#a6da35 168.7px,#93d741 172.7px,#6ece58 177.2px,#33b57a 183.2px,#23a884 185.7px,#20958b 188.7px,#32648d 196.2px,#433c84 202.2px,#48196b 208.2px,#450457 213.7px,#440154 217.2px)"></i><i style="left:142px;background:linear-gradient(#461e6d 0.0px,#45095b 7.0px,#45085b 12.0px,#461768 17.5px,#403c80 24.5px,#306a8b 31.5px,#298b89 36.5px,#30a180 40.0px,#48b76f 44.0px,#85d04a 50.5px,#a9d935 55.1px,#badd2b 58.6px,#bfde27 62.1px,#b6dd2b 65.6px,#9cd93b 69.6px,#60c961 75.6px,#33b47a 80.1px,#24a285 83.1px,#248c8c 86.6px,#375a8c 94.1px,#45327d 100.1px,#471063 106.6px,#450356 111.6px,#450558 116.6px,#471668 121.6px,#433a81 128.1px,#33628d 134.1px,#23918b 141.1px,#27a483 144.1px,#39b677 147.1px,#78cf52 153.1px,#a4da37 157.6px,#bcde2a 161.6px,#c4df25 165.2px,#bedf27 168.7px,#aadb33 172.2px,#80d34d 176.7px,#3dbb75 182.7px,#25aa83 185.7px,#1f9a8a 188.2px,#2e6f8e 194.7px,#414387 201.2px,#481e6f 207.2px,#45075a 212.7px,#440154 217.2px)"></i><i style="left:143px;background:linear-gradient(#460d60 0.0px,#450457 6.0px,#460c5f 11.0px,#462674 17.0px,#3b4e87 23.5px,#297e8c 30.5px,#279886 34.5px,#34ab7c 37.5px,#51be6a 41.0px,#98d63e 47.5px,#bcdd2b 51.5px,#d0e123 55.1px,#d8e21e 58.6px,#d2e11d 62.1px,#bedf26 65.6px,#98d83e 69.6px,#51c469 75.6px,#2fb17d 79.1px,#23a186 81.6px,#248a8d 85.1px,#38578b 92.6px,#45337e 98.1px,#471063 104.6px,#450457 109.1px,#450457 114.1px,#471365 119.1px,#443680 125.6px,#355f8c 131.6px,#238e8c 138.6px,#24a285 141.6px,#32b27b 144.1px,#55c467 147.6px,#9dd83b 153.6px,#c2df26 157.6px,#d5e220 161.1px,#dbe31d 164.7px,#d3e21e 168.2px,#bedf27 171.7px,#90d743 176.2px,#4cc26c 181.7px,#2db27d 184.7px,#21a287 187.2px,#228e8d 190.2px,#38588c 198.2px,#46337f 203.7px,#471062 210.2px,#440255 214.7px,#440154 217.2px)"></i><i style="left:144px;background:linear-gradient(#450558 0.0px,#450558 5.5px,#471366 10.5px,#44367f 17.0px,#355f8c 23.0px,#248b8c 29.5px,#259f86 32.5px,#32af7c 35.0px,#55c367 38.5px,#9fd83a 44.5px,#c8e025 48.5px,#e2e31f 52.5px,#ebe51e 56.1px,#e6e41b 59.6px,#d4e21b 63.1px,#bade28 66.1px,#84d44b 70.6px,#3fbb73 76.1px,#29ac80 78.6px,#219c89 81.1px,#297a8e 86.1px,#3e4a89 93.1px,#482474 99.1px,#46095c 105.1px,#440254 110.1px,#46075a 114.6px,#482172 120.6px,#3f4687 126.6px,#2b778e 133.6px,#21998a 138.6px,#27a982 141.1px,#3bb976 143.6px,#72ce56 148.1px,#b0dc2f 153.1px,#cee120 156.1px,#e4e41d 159.6px,#ece51e 163.2px,#e8e41c 166.7px,#d5e21c 170.2px,#bbde28 173.2px,#7ed24e 178.2px,#39b977 183.7px,#25a983 186.2px,#1f998a 188.7px,#2f6c8e 195.2px,#414387 201.2px,#482172 206.7px,#45075a 212.7px,#440154 217.2px)"></i><i style="left:145px;background:linear-gradient(#440255 0.0px,#450659 5.0px,#481b6d 10.5px,#423f84 16.5px,#31688d 22.5px,#21948b 29.0px,#25a584 31.5px,#36b579 34.0px,#5fc861 37.5px,#aedc30 43.5px,#cee120 46.5px,#e8e41d 50.0px,#f5e621 53.5px,#f5e620 57.1px,#e7e41a 60.6px,#d1e11c 63.6px,#abdc31 67.1px,#61ca60 72.6px,#37b778 76.1px,#24a784 78.6px,#20978b 81.1px,#31678e 88.1px,#433d84 94.1px,#481a6c 100.1px,#450558 105.6px,#440255 110.6px,#460b5e 115.1px,#472c7a 121.6px,#3b508a 127.1px,#25848e 134.6px,#209c89 138.1px,#29ad80 140.6px,#45bf70 143.6px,#8fd644 149.1px,#c6e022 153.6px,#e0e31b 156.6px,#f2e61f 160.1px,#f7e621 163.7px,#efe51d 167.2px,#d9e21a 170.7px,#c2df24 173.2px,#83d34c 178.2px,#40bd73 183.2px,#29ad80 185.7px,#209d89 188.2px,#297a8e 193.2px,#3e4a89 200.2px,#482676 205.7px,#460a5d 211.7px,#440154 216.2px,#440154 217.2px)"></i><i style="left:146px;background:linear-gradient(#440154 0.0px,#450659 4.5px,#481b6d 10.0px,#423f85 16.0px,#30698e 22.0px,#20958b 28.5px,#24a684 31.0px,#36b679 33.5px,#60c960 37.0px,#abdc32 42.5px,#cde11f 45.5px,#e6e41b 48.5px,#f6e620 52.0px,#f9e722 56.1px,#eee51c 59.6px,#dae31a 62.6px,#c2df24 65.1px,#81d34c 70.1px,#3fbc73 75.1px,#28ac81 77.6px,#209c89 80.1px,#2b768e 85.6px,#404587 92.6px,#482373 98.1px,#46085b 104.1px,#440154 108.6px,#450659 113.1px,#481f70 119.1px,#414186 124.6px,#2e6e8e 131.1px,#20978a 137.1px,#24a883 139.6px,#38b877 142.1px,#6acd5a 146.1px,#b5dd2c 151.6px,#d5e21c 154.6px,#ebe51b 157.6px,#f8e622 161.1px,#f8e621 165.2px,#eae51b 168.7px,#d3e21c 171.7px,#b3dd2d 174.7px,#68cc5c 180.2px,#36b778 184.2px,#23a784 186.7px,#20968b 189.2px,#32668e 196.2px,#433d84 202.2px,#48196b 208.2px,#450457 213.7px,#440154 217.2px)"></i><i style="left:147px;background:linear-gradient(#440255 0.0px,#450659 5.0px,#481b6d 10.5px,#423f84 16.5px,#31688d 22.5px,#21948b 29.0px,#25a584 31.5px,#36b579 34.0px,#5ec861 37.5px,#aedc30 43.5px,#cee120 46.5px,#e8e41d 50.0px,#f5e621 53.5px,#f4e61f 57.1px,#e7e41a 60.6px,#d1e11c 63.6px,#abdc31 67.1px,#61ca60 72.6px,#37b778 76.1px,#24a884 78.6px,#20978b 81.1px,#31678e 88.1px,#433d84 94.1px,#481a6c 100.1px,#450558 105.6px,#440255 110.6px,#460b5e 115.1px,#472c7a 121.6px,#3b508a 127.1px,#25848e 134.6px,#209c89 138.1px,#29ad80 140.6px,#45bf70 143.6px,#96d83f 149.6px,#c6e022 153.6px,#e0e31b 156.6px,#f2e61f 160.1px,#f7e621 163.7px,#efe51d 167.2px,#d9e21a 170.7px,#c2df24 173.2px,#82d34c 178.2px,#40bd73 183.2px,#29ad80 185.7px,#209d89 188.2px,#297a8e 193.2px,#3e4a89 200.2px,#482676 205.7px,#460a5d 211.7px,#440154 216.2px,#440154 217.2px)"></i><i style="left:148px;background:linear-gradient(#450558 0.0px,#450558 5.5px,#471366 10.5px,#44367f 17.0px,#355e8c 23.0px,#248b8c 29.5px,#259f86 32.5px,#36b279 35.5px,#60c760 39.5px,#aada33 45.5px,#cbe024 49.0px,#e1e31f 52.5px,#eae51e 56.1px,#e6e41b 59.6px,#d4e21b 63.1px,#bade28 66.1px,#84d44b 70.6px,#3fbc73 76.1px,#29ad80 78.6px,#219c89 81.1px,#297a8e 86.1px,#3e4a89 93.1px,#482474 99.1px,#46095c 105.1px,#440254 110.1px,#46075a 114.6px,#482172 120.6px,#3f4687 126.6px,#2b768e 133.6px,#21998a 138.6px,#27a982 141.1px,#3bb976 143.6px,#71ce56 148.1px,#b0dc2f 153.1px,#d1e11f 156.6px,#e5e41d 160.1px,#ece51e 163.7px,#e6e41b 167.2px,#d2e11d 170.7px,#b6de2b 173.7px,#71cf56 179.2px,#39b977 183.7px,#25a983 186.2px,#1f998a 188.7px,#2f6c8e 195.2px,#414387 201.2px,#482172 206.7px,#45075a 212.7px,#440154 217.2px)"></i><i style="left:149px;background:linear-gradient(#460d60 0.0px,#450558 6.0px,#460c5f 11.0px,#462674 17.0px,#3a5188 24.0px,#28808c 31.0px,#279887 34.5px,#33ab7c 37.5px,#50be6a 41.0px,#96d53f 47.5px,#bfde2b 52.0px,#d1e123 55.6px,#d7e21e 59.1px,#cfe11e 62.6px,#bade28 66.1px,#93d741 70.1px,#4cc16c 76.1px,#2fb17d 79.1px,#23a186 81.6px,#248a8d 85.1px,#38578b 92.6px,#45337e 98.1px,#471063 104.6px,#450457 109.1px,#450457 114.1px,#471365 119.1px,#443680 125.6px,#355e8c 131.6px,#238e8c 138.6px,#24a285 141.6px,#32b17b 144.1px,#55c467 147.6px,#9cd83b 153.6px,#c1df27 157.6px,#d5e220 161.1px,#dae31e 164.7px,#d3e21e 168.2px,#bddf27 171.7px,#90d743 176.2px,#46bf6f 182.2px,#2aae7f 185.2px,#209f88 187.7px,#25848e 191.7px,#3d4d8a 199.7px,#472979 205.2px,#460c5f 211.2px,#440254 215.7px,#440154 217.2px)"></i><i style="left:150px;background:linear-gradient(#461f6d 0.0px,#45095b 7.0px,#45095b 12.5px,#46196a 18.0px,#3f4182 25.5px,#2e6f8b 32.5px,#298d88 37.0px,#32a37f 40.5px,#4bb86d 44.5px,#87d149 51.0px,#aada35 55.6px,#bbdd2a 59.6px,#bcde28 63.6px,#aedc30 67.1px,#8fd644 71.1px,#50c36a 77.1px,#30b17c 80.6px,#239f87 83.6px,#25868d 87.6px,#3a548a 95.1px,#462d7a 101.1px,#460d60 107.6px,#440356 112.6px,#45075a 117.6px,#471c6e 123.1px,#404385 129.6px,#2e6f8d 136.1px,#23948a 141.6px,#29a782 144.6px,#3db875 147.6px,#7cd04f 153.6px,#a6da35 158.1px,#bbde2a 161.6px,#c2df26 165.2px,#bdde28 168.7px,#a9db33 172.2px,#7fd34e 176.7px,#3cbb75 182.7px,#25aa83 185.7px,#1f9a8a 188.2px,#2e6f8e 194.7px,#414387 201.2px,#481e6f 207.2px,#45075a 212.7px,#440154 217.2px)"></i><i style="left:151px;background:linear-gradient(#41397d 0.0px,#451364 8.5px,#45095c 13.5px,#460d5f 18.5px,#452270 24.5px,#395386 33.0px,#2c7d89 39.5px,#309982 44.0px,#41af75 48.0px,#73ca54 55.1px,#93d541 60.1px,#9fd839 64.1px,#9dd93b 67.6px,#8ad547 71.6px,#67cc5d 76.1px,#32b37b 82.1px,#25a285 85.1px,#248a8c 89.1px,#37598b 96.6px,#45327d 102.6px,#471163 109.1px,#450457 114.1px,#450659 119.1px,#47186a 124.6px,#423d82 131.1px,#31688d 137.6px,#24908b 143.6px,#2aa582 147.1px,#3fb874 150.6px,#7ad050 157.1px,#97d73f 161.1px,#a4da36 164.7px,#a5da36 168.2px,#96d73f 172.2px,#72cf56 176.7px,#37b878 182.7px,#23a784 185.7px,#20958b 188.7px,#32648d 196.2px,#433c84 202.2px,#48196b 208.2px,#450457 213.7px,#440154 217.2px)"></i><i style="left:152px;background:linear-gradient(#365b88 0.0px,#423178 7.5px,#451465 14.0px,#450b5d 19.0px,#460e60 24.0px,#44236f 30.0px,#385686 39.0px,#2e7f88 45.5px,#339c80 50.5px,#4bb66e 56.1px,#73cb55 63.1px,#80d14d 67.6px,#7dd24f 71.6px,#6dce59 75.6px,#3fbb73 82.1px,#28a982 86.1px,#22958a 89.6px,#2f6d8d 96.1px,#404385 102.6px,#471d6e 109.1px,#45085b 114.6px,#450457 119.6px,#460d60 124.6px,#452c79 131.1px,#39568a 137.6px,#27838c 144.6px,#269b86 148.6px,#33ae7c 152.1px,#61c85f 158.6px,#80d14d 163.7px,#88d448 167.7px,#83d34b 171.2px,#6ece58 175.2px,#3dbb74 181.2px,#25aa82 184.7px,#1f998a 187.7px,#2e6d8e 194.7px,#414286 201.2px,#481e6f 207.2px,#450559 213.2px,#440154 217.2px)"></i><i style="left:153px;background:linear-gradient(#2b7d8a 0.0px,#375686 7.0px,#44236f 16.5px,#450f61 22.5px,#460d5f 28.0px,#451969 33.5px,#3f3a7c 40.5px,#336888 48.0px,#2f8b85 54.0px,#3aa77a 59.6px,#56bf67 66.6px,#63c85f 71.6px,#61c960 75.6px,#51c469 80.1px,#2db07e 86.6px,#229d87 90.6px,#27818d 95.6px,#3a538a 103.1px,#462b78 109.6px,#460d5f 116.1px,#450457 121.1px,#46095c 126.1px,#471f6f 131.6px,#3e4886 138.6px,#2c758d 145.6px,#259389 150.6px,#2da880 154.6px,#50c16a 161.1px,#65ca5d 165.7px,#6bcc5a 169.7px,#62ca5f 173.7px,#42bd71 179.2px,#27ab81 183.7px,#1f9c89 186.7px,#2a798e 192.7px,#3f4989 200.2px,#482374 206.2px,#46085c 212.2px,#440154 216.7px,#440154 217.2px)"></i><i style="left:154px;background:linear-gradient(#269987 0.0px,#2a7e8b 6.0px,#395185 14.0px,#44226e 23.0px,#450f61 29.0px,#450e60 35.0px,#441e6c 41.0px,#3b4a81 49.5px,#307688 57.1px,#319882 63.6px,#41b474 71.1px,#4abe6d 77.1px,#43bd71 82.1px,#2aaf7f 88.6px,#219d88 93.1px,#287d8d 99.1px,#3b5089 106.6px,#462976 113.1px,#460c5f 119.6px,#450457 124.6px,#460a5d 129.6px,#462372 135.6px,#3c4d88 142.6px,#297c8d 150.1px,#259788 155.1px,#31ae7d 160.1px,#4abf6d 166.7px,#50c26a 171.2px,#46bf6f 175.7px,#28ad80 182.2px,#1f9e88 185.7px,#27808e 191.2px,#3e4b89 199.7px,#472978 205.2px,#460a5d 211.7px,#440154 216.2px,#440154 217.2px)"></i><i style="left:155px;background:linear-gradient(#27a783 0.0px,#249589 6.5px,#2f6c8a 15.5px,#3f3d7d 24.0px,#451b69 31.5px,#450e60 37.0px,#451061 42.5px,#442470 49.0px,#375785 58.6px,#2d8488 66.6px,#31a57f 74.6px,#36b379 81.1px,#2fb27c 87.1px,#21a386 93.6px,#238c8c 99.1px,#375a8b 108.1px,#44327c 114.6px,#461062 121.6px,#450558 126.6px,#45085b 131.6px,#471a6b 137.1px,#404284 144.1px,#2f6d8d 151.1px,#25908a 157.6px,#2aa781 163.2px,#38b677 169.7px,#38b777 174.7px,#26ab82 181.2px,#1f9a8a 185.7px,#2c728e 193.2px,#404487 200.7px,#482071 206.7px,#45075a 212.7px,#440154 217.2px)"></i><i style="left:156px;background:linear-gradient(#27a084 0.0px,#229e87 7.0px,#248d8b 14.0px,#32658a 23.0px,#40377b 31.5px,#451767 39.0px,#460d5f 44.5px,#451162 49.5px,#432671 56.1px,#375986 65.6px,#2b8589 74.1px,#2aa083 81.6px,#28a982 88.1px,#20a287 94.6px,#228d8c 101.1px,#355d8c 110.6px,#43367f 117.1px,#471365 124.1px,#450558 129.6px,#45075a 134.6px,#47196a 140.1px,#404284 147.6px,#2f6c8d 154.6px,#24928a 162.1px,#28a783 168.7px,#2aad80 174.7px,#23a585 180.7px,#20938c 186.2px,#33638d 195.7px,#433d84 201.7px,#48196b 208.2px,#450457 213.7px,#440154 217.2px)"></i><i style="left:157px;background:linear-gradient(#2a8588 0.0px,#239589 8.0px,#21958a 14.5px,#25848c 21.5px,#345e89 30.5px,#422f77 39.5px,#451465 46.5px,#460d5f 52.0px,#451464 57.6px,#422f76 64.6px,#355d87 73.1px,#29878a 82.1px,#249b87 89.1px,#209d88 95.6px,#21908c 102.1px,#2d708e 110.1px,#3f4686 117.6px,#471d6d 125.1px,#46095c 130.6px,#450457 135.6px,#460e61 140.6px,#452f7a 147.6px,#39558a 154.1px,#26848d 163.2px,#239b88 170.2px,#22a286 176.2px,#209a89 182.2px,#26828e 189.2px,#3c4f8a 198.7px,#472e7c 204.2px,#460c5f 211.2px,#440254 215.7px,#440154 217.2px)"></i><i style="left:158px;background:linear-gradient(#355b84 0.0px,#28818a 10.5px,#238c8c 17.5px,#24888d 24.0px,#2c738d 31.5px,#3b4a84 40.5px,#451d6c 50.0px,#460d60 56.1px,#450f61 62.1px,#44236f 68.6px,#385386 78.1px,#29808b 87.6px,#22918b 94.6px,#20928c 101.1px,#25848e 107.6px,#33628d 115.6px,#423b81 122.6px,#471567 130.1px,#450659 135.1px,#450558 140.1px,#471365 145.1px,#433980 152.6px,#34618c 159.6px,#26858d 167.7px,#21958a 174.2px,#20968b 180.2px,#24888d 186.7px,#32658e 194.7px,#423f85 201.2px,#481b6d 207.7px,#450559 213.2px,#440154 217.2px)"></i><i style="left:159px;background:linear-gradient(#403074 0.0px,#394f81 7.5px,#2c748a 17.0px,#26828d 24.0px,#26818e 30.5px,#2d708d 37.5px,#3c4984 46.5px,#451b6a 56.6px,#460c5f 62.6px,#450e60 68.1px,#45206d 74.1px,#395186 84.1px,#2b778c 92.6px,#24888d 99.6px,#23888d 106.1px,#2a788e 113.1px,#39548a 121.1px,#45307b 127.6px,#460f62 134.6px,#450457 139.6px,#45085a 144.6px,#471d6e 150.6px,#3f4686 158.1px,#2e6f8d 166.2px,#24878d 173.2px,#228e8c 179.2px,#25858e 185.7px,#2f6c8e 192.7px,#404587 200.2px,#482071 206.7px,#45075a 212.7px,#440154 217.2px)"></i><i style="left:160px;background:linear-gradient(#451666 0.0px,#43216c 5.5px,#3b467f 15.0px,#2e6d8b 25.0px,#297a8d 32.0px,#2a788e 38.5px,#31668c 45.5px,#3f3e80 54.6px,#461768 63.6px,#460b5e 69.1px,#450e60 74.6px,#442370 81.1px,#395287 90.6px,#2c738d 98.6px,#27808e 105.1px,#277f8e 111.1px,#2e6f8e 117.6px,#3e4887 126.1px,#472272 133.1px,#46095c 139.6px,#450457 144.6px,#460d5f 149.6px,#462c79 156.6px,#3b5089 163.2px,#2c748e 171.2px,#26838e 177.7px,#26838e 183.7px,#2c738e 190.2px,#3b528b 197.7px,#46307d 203.7px,#460a5d 211.7px,#440154 216.2px,#440154 217.2px)"></i><i style="left:161px;background:linear-gradient(#451969 0.0px,#451364 6.5px,#441968 12.0px,#3f3779 20.5px,#32638a 31.5px,#2c728d 38.5px,#2d718e 45.0px,#34608c 52.0px,#403c7f 60.6px,#461666 69.6px,#450a5d 75.1px,#460e60 80.6px,#452470 87.1px,#3a4f86 96.1px,#2f6d8d 103.6px,#2a798e 110.1px,#2b758e 116.6px,#33628d 123.1px,#423e83 130.6px,#471668 138.6px,#450558 144.1px,#450558 149.1px,#471264 154.1px,#433a81 162.1px,#355e8c 169.2px,#2b758e 176.2px,#287c8e 182.2px,#2c748e 188.7px,#38588c 196.2px,#453882 202.2px,#481466 209.2px,#450356 214.2px,#440154 217.2px)"></i><i style="left:162px;background:linear-gradient(#413379 0.0px,#451566 10.0px,#451263 16.5px,#441f6b 22.5px,#375587 36.5px,#30688c 43.5px,#2f6c8e 50.0px,#34608c 56.6px,#403f82 65.1px,#461566 75.1px,#45095c 80.6px,#460d5f 86.1px,#452370 92.6px,#3b4e87 101.6px,#30698d 109.1px,#2d718e 115.1px,#2f6c8e 121.1px,#39568b 128.1px,#45347e 135.1px,#460d60 143.6px,#450356 148.6px,#45085b 153.6px,#471e6f 159.6px,#404285 166.7px,#32668d 174.7px,#2c738e 180.7px,#2c728e 186.7px,#33628d 193.2px,#423f85 200.7px,#481b6c 207.7px,#450457 213.7px,#440154 217.2px)"></i><i style="left:163px;background:linear-gradient(#3b4e87 0.0px,#442974 10.5px,#461364 18.5px,#451162 25.0px,#44216d 31.5px,#395287 44.0px,#33638c 51.0px,#32658d 57.1px,#37588b 63.6px,#43367e 72.1px,#461365 80.6px,#45095b 86.1px,#460d5f 91.6px,#452673 98.6px,#3c4d87 107.1px,#32648d 114.1px,#2f6b8e 120.6px,#34608d 127.1px,#404386 134.6px,#471e6f 142.1px,#45075b 148.1px,#450356 153.1px,#460d60 158.1px,#45317d 166.2px,#3b518a 172.7px,#31678e 179.2px,#2e6d8e 185.2px,#32658e 191.2px,#3d4d8a 197.7px,#472e7c 203.7px,#460a5d 211.7px,#440154 216.2px,#440154 217.2px)"></i><i style="left:164px;background:linear-gradient(#37598b 0.0px,#3b4e87 7.0px,#442974 17.5px,#461163 26.0px,#451062 32.5px,#44206d 39.0px,#3b4e86 51.0px,#355e8c 58.1px,#355d8c 64.6px,#3c4d89 71.1px,#452c78 79.1px,#460f62 86.6px,#45085a 92.1px,#460f61 97.6px,#442c77 105.1px,#3b4f88 113.1px,#34618d 119.6px,#33638d 125.6px,#38578c 131.6px,#443881 139.1px,#471163 147.6px,#450457 152.6px,#450558 157.6px,#471668 163.2px,#423d83 171.2px,#365c8c 178.7px,#31668e 184.7px,#33638d 190.2px,#3c508b 196.7px,#46317e 203.2px,#460a5d 211.7px,#440154 216.2px,#440154 217.2px)"></i><i style="left:165px;background:linear-gradient(#3b4e87 0.0px,#39548a 7.5px,#3d4a87 14.5px,#442874 24.5px,#461163 32.5px,#460e60 38.5px,#451868 44.0px,#3c4a86 57.6px,#37588b 64.1px,#38588c 70.1px,#3e4987 76.6px,#462875 84.6px,#460d5f 92.1px,#45075a 97.6px,#461162 103.1px,#413d81 113.6px,#38578b 121.1px,#355e8d 127.1px,#39578c 133.1px,#433b83 140.6px,#471466 149.1px,#450457 154.6px,#450457 159.6px,#471567 165.2px,#433a82 173.2px,#39568b 180.2px,#34608d 186.2px,#365b8d 192.2px,#404688 198.7px,#482676 205.2px,#45075a 212.7px,#440154 217.2px)"></i><i style="left:166px;background:linear-gradient(#413279 0.0px,#3c4c87 10.0px,#3c4f89 16.5px,#404284 23.5px,#461264 38.0px,#460c5e 43.5px,#461364 49.0px,#433079 57.6px,#3b4e88 66.6px,#39548b 73.1px,#3d4c89 79.1px,#452f7b 87.1px,#460d60 96.1px,#450659 101.6px,#460f61 107.1px,#423980 117.6px,#3b518a 124.6px,#38598c 130.1px,#3b528b 136.1px,#443982 143.1px,#471265 151.6px,#450457 156.6px,#450457 161.6px,#471366 167.2px,#433b82 175.7px,#3a548b 182.7px,#375b8c 188.7px,#3b528b 194.7px,#453781 201.7px,#471164 209.7px,#440255 214.7px,#440154 217.2px)"></i><i style="left:167px;background:linear-gradient(#451868 0.0px,#3e4685 16.5px,#3d4b88 23.0px,#404184 29.5px,#461f6e 39.5px,#460d5f 46.5px,#460d5f 52.5px,#451f6d 59.6px,#3f4485 70.1px,#3c4f8a 76.6px,#3e4b89 82.6px,#44337e 90.1px,#460d60 100.1px,#450659 105.6px,#460c5f 110.6px,#452f7a 119.6px,#3d4b88 127.1px,#3a538b 133.1px,#3d4d8a 139.1px,#45347f 146.1px,#460b5e 155.6px,#440255 160.6px,#45075a 165.7px,#482272 172.7px,#414186 179.7px,#3b528b 185.7px,#3a548b 191.2px,#3f4888 197.2px,#472c7b 203.7px,#46085c 212.2px,#440154 216.7px,#440154 217.2px)"></i><i style="left:168px;background:linear-gradient(#461061 0.0px,#451364 6.5px,#433179 17.0px,#3f4485 25.0px,#3f4587 31.5px,#43367f 38.5px,#461062 50.5px,#460a5d 56.1px,#461163 61.6px,#414083 75.1px,#3e4b89 81.1px,#3f4788 87.1px,#45327d 94.1px,#460d5f 104.1px,#450558 109.1px,#460b5e 114.1px,#462674 121.6px,#404386 129.1px,#3c4e8a 135.1px,#3e4b89 140.6px,#453580 147.6px,#460d60 157.1px,#440355 162.1px,#450659 167.2px,#481d6f 173.7px,#433c83 180.7px,#3d4d8a 186.7px,#3c4f8a 192.7px,#424086 198.7px,#482575 205.2px,#45075a 212.7px,#440154 217.2px)"></i><i style="left:169px;background:linear-gradient(#461b6b 0.0px,#460e61 8.0px,#461263 14.0px,#413e83 30.5px,#414286 37.0px,#443780 43.5px,#460e61 56.6px,#45095c 62.1px,#461365 68.1px,#423d83 80.6px,#3f4788 86.6px,#414186 92.6px,#472977 100.1px,#460a5d 108.6px,#450558 113.6px,#460d60 119.1px,#443880 130.1px,#3f4888 136.6px,#3f4889 142.1px,#453781 148.6px,#471466 157.1px,#450457 162.6px,#450356 167.7px,#471366 173.2px,#443781 181.7px,#3f4888 187.7px,#3e4a89 193.2px,#433d84 199.2px,#482273 205.7px,#450559 213.2px,#440154 217.2px)"></i><i style="left:170px;background:linear-gradient(#452e7a 0.0px,#460f61 13.0px,#460f61 20.0px,#452673 29.0px,#423c82 37.5px,#423e84 43.5px,#45317c 50.5px,#460c5e 62.6px,#45095b 68.1px,#461466 74.1px,#433981 85.1px,#414386 91.1px,#433d84 97.1px,#472474 104.6px,#46095c 112.6px,#450558 118.1px,#461062 123.6px,#443680 133.6px,#404487 139.6px,#414387 145.1px,#46317e 151.6px,#46095c 162.1px,#440255 167.2px,#46095c 172.2px,#46317e 182.2px,#404487 188.7px,#404688 194.2px,#443a83 199.7px,#481d6f 206.7px,#450457 213.7px,#440154 217.2px)"></i><i style="left:171px;background:linear-gradient(#443780 0.0px,#452d7a 7.0px,#460e61 19.5px,#460d5f 26.0px,#462170 34.5px,#433981 43.5px,#433a83 50.0px,#462a77 57.6px,#460b5e 67.6px,#45085b 73.1px,#461465 79.1px,#443780 90.1px,#423f85 96.1px,#443882 101.6px,#471f70 109.1px,#45075a 116.6px,#450457 121.6px,#471063 127.1px,#453580 137.1px,#424186 143.1px,#433d85 148.6px,#472777 155.6px,#450659 164.7px,#440255 169.7px,#460c5f 174.7px,#46337f 184.7px,#414186 190.7px,#424086 196.2px,#472e7c 202.7px,#450559 213.2px,#440154 217.2px)"></i><i style="left:172px;background:linear-gradient(#452f7b 0.0px,#45357f 7.5px,#462a77 14.5px,#460d60 26.0px,#460c5f 32.5px,#462170 41.0px,#443680 49.5px,#443781 55.6px,#472876 62.6px,#460a5d 72.6px,#45075a 78.1px,#461567 84.6px,#45357f 94.6px,#433b83 100.6px,#46327e 106.6px,#45075a 119.6px,#450457 124.6px,#460f62 130.1px,#45337f 140.1px,#433e85 146.1px,#443882 151.6px,#482374 158.1px,#450659 166.2px,#440255 171.2px,#460b5e 176.2px,#46317e 186.2px,#433e85 192.2px,#443b84 197.7px,#482777 204.2px,#450559 213.2px,#440154 217.2px)"></i><i style="left:173px;background:linear-gradient(#461c6c 0.0px,#45317c 10.0px,#46307c 16.5px,#471a6b 26.0px,#460a5d 33.5px,#460d60 40.0px,#45327e 54.6px,#453480 60.6px,#472675 67.6px,#46095c 77.6px,#45075a 83.1px,#471869 90.1px,#45337f 99.1px,#443882 104.6px,#472e7c 110.6px,#45075a 122.6px,#450457 127.6px,#460f62 133.1px,#46317d 142.6px,#443a83 148.1px,#453581 153.6px,#482172 160.1px,#450558 168.2px,#440255 173.2px,#460d60 178.2px,#46307d 187.7px,#443b83 193.7px,#453681 199.2px,#482072 205.7px,#450457 213.7px,#440154 217.2px)"></i><i style="left:174px;background:linear-gradient(#460d60 0.0px,#462170 9.5px,#462f7c 17.5px,#462c7a 24.0px,#460a5d 38.5px,#460b5d 44.5px,#46307d 60.1px,#46317e 66.1px,#472070 73.6px,#45085b 82.1px,#45075a 87.6px,#47186a 94.6px,#46317d 103.1px,#453480 109.1px,#472878 115.1px,#45075a 125.6px,#450457 130.6px,#470f62 136.1px,#46307d 145.6px,#453781 151.6px,#472f7d 157.1px,#471164 165.7px,#440356 171.2px,#450457 176.2px,#481668 182.2px,#46307d 189.7px,#453882 195.2px,#46317e 200.7px,#48186a 207.7px,#450356 214.2px,#440154 217.2px)"></i><i style="left:175px;background:linear-gradient(#460d60 0.0px,#460d5f 7.5px,#462c7a 23.0px,#472b79 29.0px,#471465 39.0px,#45085b 45.5px,#460d5f 51.5px,#462d7b 64.6px,#462f7d 70.1px,#472171 77.1px,#45085b 86.1px,#450659 91.6px,#471769 98.6px,#462e7c 106.6px,#46327e 112.1px,#482676 118.1px,#450659 128.6px,#450457 133.6px,#471264 139.6px,#472e7b 148.1px,#463480 153.6px,#472c7b 159.1px,#450558 171.2px,#440255 176.2px,#470d60 181.2px,#472b7a 189.7px,#453580 195.2px,#472f7d 200.7px,#48186a 207.7px,#450356 214.2px,#440154 217.2px)"></i><i style="left:176px;background:linear-gradient(#47196b 0.0px,#460b5d 9.0px,#460e61 15.5px,#472a78 28.5px,#472878 35.0px,#45095b 49.5px,#460a5d 55.6px,#472c7a 69.6px,#472c7a 75.6px,#47186a 83.6px,#450759 90.6px,#45075a 96.1px,#471b6c 103.6px,#472d7b 110.6px,#472e7c 116.6px,#481d6e 123.6px,#450558 131.6px,#450457 136.6px,#471567 143.1px,#472d7b 151.1px,#46317e 156.6px,#482475 162.6px,#450457 172.7px,#440255 177.7px,#470e61 182.7px,#472b7a 191.2px,#46327f 196.7px,#472a79 202.2px,#450356 214.2px,#440154 217.2px)"></i><i style="left:177px;background:linear-gradient(#472474 0.0px,#460a5d 15.0px,#460e60 21.5px,#472877 34.0px,#472676 40.5px,#45085b 54.6px,#460a5d 60.6px,#472a79 74.1px,#472978 80.1px,#471567 88.1px,#450558 95.1px,#45085b 100.6px,#472a79 113.1px,#472d7b 118.6px,#481f70 125.1px,#450558 134.1px,#450457 139.1px,#471567 145.6px,#472b7a 153.1px,#472e7c 158.6px,#482173 164.7px,#450558 173.7px,#440255 178.7px,#470d60 183.7px,#472979 192.2px,#472f7d 197.7px,#482677 203.2px,#450356 214.2px,#440154 217.2px)"></i><i style="left:178px;background:linear-gradient(#472374 0.0px,#482273 7.0px,#46095c 20.5px,#460c5f 27.0px,#472676 39.5px,#482575 45.5px,#45075a 59.6px,#460a5d 65.6px,#472777 78.1px,#482777 84.1px,#471264 92.6px,#450457 99.1px,#46095b 104.6px,#472878 116.6px,#472a79 122.1px,#481b6d 128.6px,#450558 136.1px,#450356 141.1px,#471063 146.6px,#472978 155.1px,#472b7a 160.6px,#481e70 166.7px,#450457 175.2px,#440255 180.2px,#471063 185.7px,#482877 193.2px,#472d7b 198.7px,#482172 204.7px,#450356 214.2px,#440154 217.2px)"></i><i style="left:179px;background:linear-gradient(#47186a 0.0px,#482374 8.5px,#471c6d 16.0px,#46095c 26.0px,#460c5e 32.5px,#482575 45.0px,#482172 51.5px,#45075a 63.6px,#46095c 69.6px,#482676 82.1px,#482575 88.1px,#450558 101.6px,#45075a 107.1px,#482777 119.6px,#482777 125.1px,#481669 132.1px,#450457 139.1px,#450457 144.1px,#481f70 153.6px,#472a79 159.6px,#482575 165.2px,#450356 176.7px,#450356 181.7px,#471164 187.2px,#482777 194.7px,#482a79 200.2px,#481a6c 206.7px,#440255 214.7px,#440154 217.2px)"></i><i style="left:180px;background:linear-gradient(#460c5f 0.0px,#482172 13.5px,#481d6f 20.0px,#45085b 31.5px,#460b5e 37.5px,#482373 49.5px,#482172 55.6px,#450659 68.1px,#46095c 74.1px,#482475 86.1px,#482374 91.6px,#460d5f 100.6px,#450457 106.6px,#460a5d 112.1px,#482575 122.1px,#482676 127.6px,#471567 134.6px,#450356 141.6px,#450558 146.6px,#482575 158.6px,#482777 164.2px,#48176a 170.7px,#450356 177.7px,#450356 183.2px,#48186a 190.2px,#482777 196.7px,#482676 202.2px,#470e61 210.2px,#440255 215.2px,#440154 217.2px)"></i><i style="left:181px;background:linear-gradient(#460a5c 0.0px,#460c5f 7.0px,#481f71 18.5px,#481c6e 25.0px,#45085a 36.5px,#460a5d 42.5px,#482172 54.0px,#481e70 60.6px,#450659 72.1px,#45085b 77.6px,#482273 89.6px,#482172 95.6px,#450558 107.6px,#450659 113.1px,#482374 125.1px,#482374 130.6px,#470e61 138.6px,#440356 144.1px,#450659 149.6px,#482374 160.1px,#482575 165.7px,#481568 172.2px,#450356 178.7px,#440356 183.7px,#471265 189.7px,#482575 196.7px,#482576 201.7px,#471366 208.7px,#440255 215.2px,#440154 217.2px)"></i><i style="left:182px;background:linear-gradient(#471164 0.0px,#45085b 8.5px,#471265 16.5px,#481f70 24.5px,#481a6b 31.0px,#45075a 41.5px,#460b5e 48.0px,#482071 58.6px,#481e6f 64.1px,#450558 76.1px,#45085b 81.6px,#482172 93.1px,#482071 98.6px,#450457 110.6px,#450659 116.1px,#482273 127.6px,#482172 133.1px,#450356 145.1px,#450457 150.6px,#482273 162.1px,#482273 167.7px,#470e61 175.2px,#440255 180.7px,#450457 185.7px,#482273 196.7px,#482475 201.7px,#481567 208.2px,#440255 214.7px,#440154 217.2px)"></i><i style="left:183px;background:linear-gradient(#481a6c 0.0px,#45085b 12.5px,#460c5f 19.0px,#481d6f 29.5px,#48186a 36.0px,#45075a 46.0px,#460a5d 52.0px,#481e70 62.6px,#481c6e 68.6px,#450558 80.1px,#46095c 86.1px,#482071 96.6px,#481d6e 102.6px,#450457 113.1px,#450558 118.6px,#482072 130.1px,#481f71 135.6px,#450356 147.1px,#450457 152.1px,#482172 163.7px,#482072 169.2px,#460b5e 177.2px,#440254 182.2px,#450558 187.2px,#482072 197.2px,#482173 202.7px,#471062 209.7px,#440255 215.2px,#440154 217.2px)"></i><i style="left:184px;background:linear-gradient(#481a6c 0.0px,#471769 7.5px,#45075a 18.0px,#460c5f 24.5px,#481c6e 34.5px,#481769 41.0px,#450659 50.5px,#460a5d 56.6px,#481d6f 67.1px,#48196b 73.1px,#450457 83.6px,#45085b 89.1px,#481e70 99.6px,#481c6e 105.1px,#450457 116.1px,#450558 121.1px,#481f71 132.6px,#481d6f 138.1px,#450356 149.1px,#450558 154.6px,#481f71 165.2px,#481f70 170.7px,#450356 181.7px,#450357 187.2px,#482071 198.2px,#481f70 203.7px,#440255 214.7px,#440154 217.2px)"></i><i style="left:185px;background:linear-gradient(#471264 0.0px,#481a6c 8.5px,#460e61 17.0px,#45075a 24.0px,#471062 31.5px,#481b6d 39.0px,#471668 45.5px,#450558 55.1px,#460a5d 61.1px,#481c6e 71.1px,#481769 77.6px,#450457 86.6px,#45075a 92.1px,#481d6f 102.6px,#481b6d 108.1px,#450356 118.6px,#450659 124.1px,#481d6f 134.1px,#481d6e 139.6px,#450356 150.6px,#450457 155.6px,#481e70 166.7px,#481d6f 171.7px,#440356 182.7px,#450356 187.7px,#481e70 198.7px,#481e70 203.7px,#460c5f 210.7px,#440254 215.7px,#440154 217.2px)"></i><i style="left:186px;background:linear-gradient(#46095c 0.0px,#48196b 12.5px,#471265 19.5px,#450659 28.0px,#460c5f 34.5px,#481a6c 43.5px,#471467 50.0px,#450558 59.1px,#460a5c 65.1px,#481b6d 74.6px,#48186a 80.1px,#450457 90.1px,#46085b 96.1px,#481c6e 105.6px,#48196b 111.1px,#450356 121.1px,#450659 126.6px,#481c6e 136.6px,#481b6d 141.6px,#440255 152.6px,#450558 158.1px,#481c6e 167.7px,#481c6e 172.7px,#440255 183.7px,#450356 188.7px,#481d6f 199.2px,#481c6e 204.2px,#440255 215.2px,#440154 217.2px)"></i><i style="left:187px;background:linear-gradient(#45085b 0.0px,#460a5d 7.0px,#48186a 17.5px,#471163 24.5px,#450659 33.0px,#460d5f 39.5px,#48196b 48.0px,#471265 54.6px,#450558 63.1px,#460a5d 69.1px,#481a6c 78.1px,#481568 84.1px,#450457 93.1px,#45075a 98.6px,#481b6d 108.6px,#481769 114.1px,#450356 123.6px,#450558 128.6px,#481b6d 138.6px,#48196b 144.1px,#440255 154.1px,#450457 159.1px,#481c6d 169.2px,#481b6d 174.2px,#440255 184.7px,#450457 189.7px,#481c6e 199.7px,#481b6d 204.7px,#440255 215.2px,#440154 217.2px)"></i><i style="left:188px;background:linear-gradient(#470e61 0.0px,#45075a 8.5px,#481769 22.5px,#460e61 30.5px,#450558 37.5px,#470e61 45.0px,#48186a 52.5px,#470f61 60.1px,#450457 67.1px,#460a5d 73.1px,#48196b 81.1px,#481567 87.1px,#450457 96.1px,#45075a 101.6px,#481a6c 111.1px,#481669 116.6px,#450356 125.6px,#450659 131.1px,#481b6d 141.1px,#481769 146.6px,#440255 155.6px,#450457 160.6px,#481a6c 170.2px,#48196b 175.2px,#440255 185.2px,#450356 190.2px,#481b6d 200.2px,#48196c 205.2px,#440255 215.2px,#440154 217.2px)"></i><i style="left:189px;background:linear-gradient(#471466 0.0px,#450659 12.5px,#460d60 19.5px,#481668 27.5px,#460d60 35.0px,#450558 42.0px,#470f62 50.0px,#481769 56.6px,#470f62 63.1px,#450457 70.6px,#460b5e 77.1px,#48186a 85.1px,#471164 91.6px,#450356 99.1px,#46085b 105.1px,#48196b 113.6px,#481567 119.1px,#450356 127.6px,#450558 133.1px,#48196b 142.6px,#481668 148.1px,#440255 157.1px,#450558 162.6px,#481a6c 171.7px,#481769 177.2px,#440255 185.7px,#450457 191.2px,#481a6c 200.7px,#481769 206.2px,#440255 215.2px,#440154 217.2px)"></i><i style="left:190px;background:linear-gradient(#471366 0.0px,#471264 7.0px,#450659 17.0px,#470f62 25.5px,#481568 32.5px,#450558 46.0px,#460d60 53.0px,#481669 60.1px,#470e61 67.1px,#450457 74.1px,#460b5e 80.6px,#481769 88.1px,#471164 94.1px,#450356 101.6px,#45075a 107.1px,#48186a 116.1px,#481466 121.6px,#440356 130.1px,#450659 135.6px,#48186a 144.1px,#481567 149.6px,#440255 158.1px,#450457 163.2px,#48196b 172.7px,#481668 178.2px,#440255 186.7px,#450357 191.7px,#48196b 201.2px,#481668 206.7px,#440255 215.2px,#440154 217.2px)"></i><i style="left:191px;background:linear-gradient(#460c5f 0.0px,#471366 9.0px,#450559 22.0px,#470f62 30.0px,#481467 37.0px,#450457 49.5px,#460c5f 56.6px,#481568 63.6px,#470f61 69.6px,#450457 77.1px,#460a5d 83.1px,#481669 91.1px,#471164 96.6px,#450356 104.6px,#46085b 110.6px,#481769 118.1px,#471366 123.6px,#440255 132.1px,#450659 137.6px,#48176a 146.1px,#471366 151.6px,#440255 159.6px,#450457 164.7px,#48176a 173.7px,#481568 178.7px,#440255 187.7px,#450457 192.7px,#48186a 201.7px,#481568 206.7px,#440255 215.2px,#440154 217.2px)"></i><i style="left:192px;background:linear-gradient(#450659 0.0px,#471365 13.0px,#450558 26.5px,#471466 40.0px,#460a5d 47.5px,#450457 54.0px,#471063 62.6px,#481467 68.6px,#450356 80.6px,#460c5f 87.6px,#481668 94.6px,#460c5f 101.1px,#440356 107.6px,#46095c 113.6px,#481668 120.6px,#471264 126.1px,#440255 134.1px,#450659 139.6px,#481669 147.6px,#481366 152.6px,#440255 161.1px,#450559 166.7px,#481669 174.7px,#481467 179.7px,#440255 188.2px,#450457 193.2px,#481769 202.2px,#481466 207.2px,#440255 215.2px,#440154 217.2px)"></i><i style="left:193px;background:linear-gradient(#45075a 0.0px,#46085b 7.5px,#471265 17.5px,#450558 30.5px,#471062 39.5px,#471265 45.5px,#450457 57.1px,#460d60 64.6px,#481466 71.1px,#450356 83.6px,#460b5e 90.1px,#481567 97.1px,#460c5f 103.6px,#440255 110.1px,#46095c 116.1px,#481568 123.1px,#470f62 129.1px,#440255 136.1px,#45075a 141.6px,#481668 149.6px,#471163 155.1px,#440255 162.1px,#450558 167.7px,#481668 175.7px,#471265 181.2px,#440255 188.7px,#450457 193.7px,#481668 202.7px,#471265 207.7px,#440255 215.2px,#440154 217.2px)"></i><i style="left:194px;background:linear-gradient(#460d60 0.0px,#450559 9.0px,#471164 22.0px,#450558 35.0px,#471265 47.5px,#45075a 56.6px,#450558 62.6px,#471366 73.6px,#460b5e 80.1px,#450356 86.6px,#460b5e 93.1px,#481466 99.6px,#460c5f 105.6px,#440255 112.6px,#460a5d 118.6px,#481467 125.1px,#470f62 130.6px,#440255 137.6px,#450659 143.1px,#481567 150.6px,#471264 155.6px,#440255 163.7px,#450659 169.2px,#481567 176.7px,#471264 181.7px,#440255 189.7px,#450457 194.7px,#481568 203.2px,#471164 208.2px,#440255 215.2px,#440154 217.2px)"></i><i style="left:195px;background:linear-gradient(#471063 0.0px,#450558 13.5px,#471164 26.0px,#450457 38.5px,#471264 51.5px,#450457 64.1px,#471365 77.1px,#450356 89.1px,#460a5d 95.6px,#481366 102.6px,#440255 114.6px,#46095c 120.6px,#481466 127.1px,#470e61 132.6px,#440255 139.6px,#45075a 145.1px,#481466 152.1px,#471063 157.1px,#440255 164.7px,#450558 170.2px,#481467 177.7px,#471163 182.7px,#440255 190.2px,#450457 195.2px,#481467 203.2px,#471164 208.2px,#440254 215.7px,#440154 217.2px)"></i><i style="left:196px;background:linear-gradient(#470d60 0.0px,#470e61 7.5px,#450558 17.5px,#471063 30.0px,#450457 42.5px,#471164 55.1px,#450356 67.1px,#470d60 75.1px,#471164 81.1px,#440356 91.6px,#460a5d 98.1px,#471265 104.6px,#460a5d 111.1px,#440255 117.1px,#460b5e 123.6px,#471366 129.6px,#460b5e 135.6px,#440255 141.6px,#46075b 147.1px,#481366 154.1px,#470d60 159.6px,#440254 166.2px,#450659 171.7px,#481466 178.7px,#470f62 183.7px,#440255 190.7px,#450558 196.2px,#481466 203.7px,#471062 208.7px,#440254 215.7px,#440154 217.2px)"></i><i style="left:197px;background:linear-gradient(#45075a 0.0px,#470f62 10.0px,#450558 21.5px,#471062 34.0px,#450457 46.0px,#471063 58.6px,#450356 70.1px,#470d60 78.1px,#471063 84.1px,#440356 94.1px,#460a5d 100.6px,#471264 107.1px,#46085c 113.6px,#440255 119.6px,#470f61 127.6px,#471264 133.1px,#440255 142.6px,#45065a 148.1px,#471365 155.1px,#470d60 160.6px,#440254 167.2px,#450659 172.7px,#471365 179.7px,#470d60 185.2px,#440255 191.2px,#450558 196.7px,#481366 204.2px,#470d60 209.7px,#440254 215.7px,#440154 217.2px)"></i><i style="left:198px;background:linear-gradient(#450558 0.0px,#470d60 10.0px,#460d5f 16.5px,#450457 25.5px,#470f62 38.0px,#450457 49.5px,#471063 61.6px,#450356 73.1px,#471163 85.6px,#440255 97.1px,#460c5f 104.6px,#471164 110.1px,#440255 120.6px,#46085c 126.6px,#471264 133.1px,#46095c 139.1px,#440254 145.1px,#46095d 151.1px,#471265 157.1px,#46095c 163.2px,#440154 168.7px,#46075a 174.2px,#471265 180.7px,#460c5f 186.2px,#440154 192.2px,#450558 197.2px,#471265 204.7px,#460c5f 210.2px,#440154 216.2px,#440154 217.2px)"></i><i style="left:199px;background:linear-gradient(#46085b 0.0px,#450659 8.0px,#470e61 18.0px,#450457 29.5px,#470e61 41.5px,#450457 53.0px,#470f62 64.6px,#450356 76.1px,#471063 88.1px,#440255 99.6px,#460c5f 107.1px,#471063 112.6px,#440255 122.6px,#46085c 128.6px,#471164 135.1px,#440255 146.1px,#46075b 151.6px,#471164 158.1px,#46095c 164.2px,#440154 170.2px,#46085c 175.7px,#471264 181.7px,#460a5e 187.2px,#440154 193.2px,#450659 198.2px,#471264 204.7px,#460c5f 210.2px,#440154 216.2px,#440154 217.2px)"></i><i style="left:200px;background:linear-gradient(#460c5f 0.0px,#450558 10.5px,#470d60 22.0px,#450457 33.5px,#470e61 45.0px,#450356 56.1px,#470f61 68.1px,#450356 79.1px,#470f62 90.6px,#440255 102.1px,#471063 113.6px,#440255 125.1px,#471063 136.6px,#440254 147.6px,#46095c 153.6px,#471163 159.6px,#450659 166.7px,#440254 172.2px,#471164 182.7px,#46075a 189.2px,#440154 194.7px,#46095d 200.2px,#471164 205.7px,#46085b 211.7px,#440154 217.2px)"></i><i style="left:201px;background:linear-gradient(#460c5f 0.0px,#46085b 8.5px,#450558 16.0px,#470d60 26.0px,#450457 37.0px,#470e60 48.5px,#450356 59.1px,#470e61 70.6px,#440356 81.6px,#470f62 93.1px,#440255 104.1px,#470f62 115.6px,#440255 126.6px,#460a5d 133.1px,#471062 138.6px,#440254 149.1px,#46095c 155.1px,#471063 161.1px,#440154 171.7px,#46085c 177.7px,#471063 183.2px,#46085b 189.2px,#440154 194.7px,#46085c 200.2px,#471163 205.7px,#46085b 211.7px,#440154 217.2px)"></i><i style="left:202px;background:linear-gradient(#46085b 0.0px,#460b5e 8.5px,#450457 18.5px,#470c5f 29.5px,#450457 40.5px,#470d60 51.5px,#450356 62.6px,#470e61 73.6px,#440356 84.6px,#470e61 95.6px,#440255 106.6px,#470f62 117.6px,#440255 128.6px,#470f62 139.6px,#440254 150.6px,#460a5d 157.1px,#470f62 162.6px,#440154 172.2px,#45075a 177.7px,#471062 183.7px,#46075b 189.7px,#440154 195.2px,#46095d 201.2px,#471062 206.7px,#440154 216.7px,#440154 217.2px)"></i><i style="left:203px;background:linear-gradient(#450558 0.0px,#460c5f 11.5px,#450457 22.0px,#460c5f 33.0px,#450457 44.0px,#470d60 54.6px,#450356 65.6px,#470d60 76.6px,#440255 86.6px,#470e61 98.1px,#440255 108.6px,#470e61 119.6px,#440255 130.1px,#460c5f 137.6px,#470e61 142.6px,#440254 151.6px,#46095d 158.1px,#470f62 163.2px,#440154 173.2px,#46075a 178.7px,#470f62 184.7px,#440154 195.2px,#46085c 201.2px,#470f62 206.7px,#440154 216.7px,#440154 217.2px)"></i><i style="left:204px;background:linear-gradient(#450558 0.0px,#45075a 8.0px,#460b5e 16.0px,#450457 26.0px,#460c5f 36.5px,#450356 47.0px,#460c5f 57.6px,#450356 68.1px,#470d60 79.1px,#440255 89.6px,#470d60 100.1px,#440255 110.6px,#470e61 121.1px,#440255 131.6px,#460c5f 139.6px,#470d60 144.6px,#440254 152.6px,#46085b 158.6px,#470e61 164.2px,#440154 174.2px,#46085c 180.2px,#470e61 185.7px,#440154 195.7px,#46085c 201.7px,#470e61 207.2px,#440154 216.7px,#440154 217.2px)"></i><i style="left:205px;background:linear-gradient(#46095c 0.0px,#450458 9.0px,#460b5e 19.0px,#450457 29.5px,#460b5e 40.0px,#450356 50.0px,#460c5f 60.6px,#450356 71.1px,#470c5f 81.6px,#440255 91.6px,#470d60 102.6px,#440255 112.6px,#470d60 123.1px,#440255 133.1px,#470e61 144.1px,#440254 154.1px,#460a5d 160.6px,#470d60 166.2px,#440154 174.7px,#46085b 180.7px,#470e61 186.2px,#440154 195.7px,#45075a 201.2px,#470e61 206.7px,#440154 217.2px)"></i><i style="left:206px;background:linear-gradient(#460b5e 0.0px,#450457 13.0px,#460a5e 22.5px,#450457 32.5px,#460b5e 43.0px,#450356 53.5px,#460b5e 63.6px,#440356 73.6px,#460c5f 84.1px,#440255 94.1px,#470c5f 104.6px,#440255 114.6px,#470d60 125.1px,#440254 134.6px,#470d60 145.6px,#440254 155.6px,#470d60 166.2px,#440154 175.7px,#46085b 181.7px,#470d60 187.2px,#440154 196.2px,#46075a 201.7px,#470e61 207.2px,#440154 217.2px)"></i><i style="left:207px;background:linear-gradient(#46085b 0.0px,#46085b 8.0px,#450457 16.0px,#460a5d 26.0px,#450457 36.5px,#460b5e 46.0px,#450356 56.1px,#460b5e 66.1px,#440356 76.6px,#460b5e 86.1px,#440255 96.1px,#460c5f 106.6px,#440255 116.6px,#470c5f 126.6px,#440255 136.6px,#470c5f 146.6px,#440154 156.6px,#470d60 167.2px,#440154 176.7px,#460a5d 183.7px,#460c5f 188.7px,#440154 196.7px,#46085b 202.7px,#470d60 207.7px,#440154 217.2px)"></i><i style="left:208px;background:linear-gradient(#450457 0.0px,#46095c 10.0px,#450457 20.0px,#460a5d 29.5px,#450356 39.5px,#460a5d 49.0px,#450356 59.1px,#460b5e 69.1px,#440255 78.6px,#460b5e 89.1px,#440255 98.6px,#460b5f 108.6px,#440255 118.1px,#460c5f 128.6px,#440254 137.6px,#470c5f 148.1px,#440154 157.6px,#470c5f 168.2px,#440154 177.7px,#470d60 187.7px,#440154 197.2px,#46095c 203.7px,#460c5f 208.7px,#440154 216.7px,#440154 217.2px)"></i><i style="left:209px;background:linear-gradient(#450457 0.0px,#46095c 14.0px,#450457 23.0px,#46095c 33.0px,#450356 42.5px,#460a5d 52.0px,#450356 61.6px,#460a5d 71.6px,#440255 81.1px,#460b5e 91.1px,#440255 100.6px,#460b5e 110.6px,#440255 120.1px,#460c5f 129.6px,#440254 139.6px,#460c5f 149.6px,#440154 158.6px,#470c5f 168.7px,#440154 178.2px,#460c5f 188.7px,#440154 197.7px,#470c5f 208.2px,#440154 217.2px)"></i><i style="left:210px;background:linear-gradient(#45065a 0.0px,#450558 8.5px,#46085c 17.5px,#450457 26.5px,#46095c 36.0px,#450356 45.5px,#46095d 55.1px,#450356 64.6px,#460a5d 74.1px,#440255 83.6px,#460a5d 93.1px,#440255 102.6px,#460b5e 112.1px,#440255 121.6px,#460b5e 131.1px,#440254 140.6px,#460b5e 150.6px,#440154 160.1px,#460b5e 169.7px,#440154 179.2px,#460c5f 188.7px,#440154 198.2px,#460c5f 208.2px,#440154 217.2px)"></i><i style="left:211px;background:linear-gradient(#46085c 0.0px,#450457 11.5px,#46085c 20.5px,#450356 29.5px,#46085c 39.5px,#450356 48.5px,#46095c 58.1px,#440356 67.1px,#460a5d 76.6px,#440255 86.1px,#460a5d 95.1px,#440255 104.6px,#460a5d 114.1px,#440255 123.1px,#460a5e 133.1px,#440254 142.1px,#460b5e 151.6px,#440154 161.1px,#460b5e 170.7px,#440154 179.7px,#460b5e 189.7px,#440154 198.2px,#460b5e 208.7px,#440154 217.2px)"></i><i style="left:212px;background:linear-gradient(#45075a 0.0px,#450559 8.5px,#450558 16.0px,#46085b 24.0px,#450356 33.0px,#46095c 42.0px,#450356 51.5px,#46095c 60.6px,#440356 69.6px,#46095c 79.1px,#440255 88.1px,#46095d 97.6px,#440255 106.6px,#460a5d 116.1px,#440255 124.6px,#460a5d 134.6px,#440254 143.6px,#460a5e 153.1px,#440154 161.6px,#460b5e 171.7px,#440154 180.2px,#460b5e 190.2px,#440154 198.7px,#460b5e 208.7px,#440154 217.2px)"></i><i style="left:213px;background:linear-gradient(#450457 0.0px,#46075b 9.0px,#450457 18.0px,#46085b 27.0px,#450356 36.0px,#46085b 45.0px,#450356 54.0px,#46085c 63.1px,#440356 72.1px,#46095c 81.1px,#440255 90.1px,#46095d 99.1px,#440255 108.6px,#460a5d 117.6px,#440255 126.6px,#460a5d 135.6px,#440254 144.6px,#460a5d 154.1px,#440154 162.6px,#460a5d 172.2px,#440154 181.2px,#460a5d 190.7px,#440154 199.2px,#460a5e 208.7px,#440154 217.2px)"></i><i style="left:214px;background:linear-gradient(#450356 0.0px,#45075a 13.0px,#450457 21.5px,#46075b 30.5px,#450356 39.0px,#46085b 48.0px,#450356 56.6px,#46085c 65.6px,#440356 74.6px,#46095c 83.1px,#440255 92.1px,#46095c 101.1px,#440255 110.1px,#46095c 119.1px,#440255 128.1px,#46095d 137.1px,#440254 146.1px,#46095d 155.1px,#440154 163.7px,#460a5d 172.7px,#440154 181.7px,#460a5d 191.2px,#440154 199.7px,#460a5d 208.7px,#440154 217.2px)"></i><i style="left:215px;background:linear-gradient(#450558 0.0px,#450558 8.5px,#45065a 16.5px,#450357 24.5px,#46075b 33.0px,#450356 42.0px,#46085b 50.5px,#450356 59.6px,#46085b 68.1px,#440356 77.1px,#46085c 85.6px,#440255 94.6px,#46085c 103.6px,#440255 112.1px,#46095c 120.6px,#440255 129.6px,#46095c 138.1px,#440254 147.1px,#46095d 156.1px,#440154 164.7px,#46095d 173.7px,#440154 182.2px,#46095d 191.7px,#440154 200.2px,#46095d 209.2px,#440154 217.2px)"></i><i style="left:216px;background:linear-gradient(#46075a 0.0px,#450457 10.5px,#45065a 19.5px,#450356 27.5px,#45075a 36.5px,#450356 45.0px,#46075b 53.5px,#450356 62.1px,#46085b 70.6px,#440255 79.1px,#46085b 88.1px,#440255 96.1px,#46085c 105.1px,#440255 113.6px,#46085c 122.6px,#440255 131.1px,#46095c 139.6px,#440254 148.1px,#46095c 157.1px,#440154 165.7px,#46095c 174.7px,#440154 182.7px,#46095c 192.2px,#440154 200.2px,#46095d 209.2px,#440154 217.2px)"></i><i style="left:217px;background:linear-gradient(#45065a 0.0px,#450457 14.5px,#450659 22.5px,#450356 30.5px,#45075a 39.0px,#450356 47.5px,#46075a 56.1px,#440356 64.6px,#46075b 73.1px,#440356 81.6px,#46085b 90.1px,#440255 98.1px,#46085c 106.6px,#440255 115.1px,#46085c 124.1px,#440255 132.6px,#46085c 141.1px,#440154 149.1px,#46095c 158.1px,#440154 166.7px,#46095c 175.2px,#440154 183.7px,#46095c 192.2px,#440154 200.7px,#46095c 209.7px,#440154 217.2px)"></i><i style="left:218px;background:linear-gradient(#450457 0.0px,#450659 9.0px,#450457 17.0px,#450659 25.5px,#450457 34.0px,#45065a 42.0px,#450356 50.5px,#46075a 58.6px,#440356 66.6px,#46075b 75.1px,#440255 83.6px,#46075b 91.6px,#440255 100.1px,#46085b 108.6px,#440255 117.1px,#46085b 125.1px,#440254 133.6px,#46085c 142.1px,#440254 150.6px,#46085c 159.1px,#440154 167.2px,#46095c 175.7px,#440154 184.2px,#46095c 192.7px,#440154 200.7px,#46095c 209.7px,#440154 217.2px)"></i><i style="left:219px;background:linear-gradient(#450356 0.0px,#450558 12.5px,#450457 20.5px,#450559 29.0px,#450356 36.5px,#450659 45.0px,#450356 53.0px,#45065a 61.1px,#450356 69.6px,#46075a 77.6px,#440255 85.6px,#46075a 94.1px,#440255 102.1px,#46075b 110.1px,#440255 118.6px,#46085b 126.6px,#440255 135.1px,#46085b 143.1px,#440254 151.6px,#46085b 160.1px,#440154 168.2px,#46085b 176.7px,#440154 184.7px,#46085c 193.2px,#440154 201.2px,#46085c 209.7px,#440154 217.2px)"></i><i style="left:220px;background:linear-gradient(#450558 0.0px,#450558 8.5px,#450457 17.0px,#450558 25.0px,#450558 32.5px,#450457 40.0px,#450559 48.0px,#450356 55.6px,#45065a 63.6px,#440356 71.6px,#45075a 79.6px,#440255 87.6px,#46075a 96.1px,#440255 103.6px,#46075b 112.1px,#440255 120.1px,#46075b 128.1px,#440255 136.6px,#46075b 144.6px,#440254 152.6px,#46085b 161.1px,#440154 168.7px,#46085b 177.2px,#440154 185.2px,#46085b 193.7px,#440154 201.7px,#46085b 209.7px,#440154 217.2px)"></i><i style="left:221px;background:linear-gradient(#450659 0.0px,#450457 10.0px,#450558 18.5px,#450457 27.0px,#450558 34.5px,#450457 42.5px,#450559 50.5px,#450356 58.1px,#450659 66.1px,#440255 73.6px,#45065a 81.6px,#440255 89.6px,#46075a 97.6px,#440255 105.6px,#46075a 113.6px,#440255 121.6px,#46075b 129.6px,#440255 137.6px,#46075b 145.6px,#440254 153.6px,#46085b 161.6px,#440154 169.7px,#46075b 178.2px,#440154 185.7px,#46085b 194.2px,#440154 201.7px,#46085b 210.2px,#440154 217.2px)"></i><i style="left:222px;background:linear-gradient(#450559 0.0px,#450457 14.0px,#450558 22.0px,#450457 30.0px,#450558 37.5px,#450457 45.5px,#450559 53.0px,#450356 60.1px,#450659 68.1px,#440356 76.1px,#45065a 83.6px,#440255 91.6px,#45065a 99.6px,#440255 107.6px,#46075a 115.1px,#440255 123.1px,#46075a 131.1px,#440254 138.6px,#46075a 147.1px,#440254 154.6px,#46075b 162.6px,#440254 170.7px,#46075b 178.7px,#440154 186.2px,#46075b 194.7px,#440154 202.2px,#46085b 210.2px,#440154 217.2px)"></i><i style="left:223px;background:linear-gradient(#450356 0.0px,#450458 9.0px,#450458 17.5px,#450457 25.5px,#450558 33.5px,#450457 41.0px,#450457 48.5px,#450558 55.6px,#450356 63.1px,#450559 70.6px,#440356 78.1px,#45065a 85.6px,#440255 93.6px,#45065a 101.1px,#440255 109.1px,#46075a 116.6px,#440255 124.1px,#45075a 132.6px,#440255 140.1px,#46075b 147.6px,#440254 155.6px,#46075a 163.7px,#440154 171.2px,#46075b 179.2px,#440154 186.7px,#46075b 194.7px,#440154 202.7px,#46075b 210.2px,#440154 217.2px)"></i><i style="left:224px;background:linear-gradient(#440356 0.0px,#450558 11.5px,#450457 20.0px,#450457 28.0px,#450457 36.0px,#450458 43.0px,#450356 50.0px,#450558 57.6px,#450356 65.1px,#450559 72.6px,#440356 80.1px,#450659 87.6px,#440255 95.6px,#450659 103.1px,#440255 110.6px,#45065a 118.1px,#440255 126.1px,#45065a 133.6px,#440255 141.1px,#46075a 148.6px,#440254 156.6px,#46075a 164.2px,#440254 172.2px,#46075a 179.7px,#440154 187.2px,#46075a 195.2px,#440154 202.7px,#46075a 210.7px,#440154 217.2px)"></i><i style="left:225px;background:linear-gradient(#450457 0.0px,#450457 16.0px,#450558 24.5px,#450357 37.5px,#450458 45.0px,#450356 52.5px,#450558 60.1px,#450356 67.6px,#450559 74.6px,#440356 82.1px,#450659 89.6px,#440255 97.1px,#450659 104.6px,#440255 112.1px,#450659 119.6px,#440255 127.6px,#45065a 134.6px,#440255 142.6px,#45065a 149.6px,#440254 157.6px,#45065a 165.2px,#440254 172.7px,#45065a 180.2px,#440154 187.7px,#46075a 195.2px,#440154 203.2px,#46075a 210.7px,#440154 217.2px)"></i><i style="left:226px;background:linear-gradient(#450558 0.0px,#450457 10.5px,#450356 19.5px,#450457 33.5px,#450458 41.5px,#450457 55.6px,#450458 62.6px,#450356 69.6px,#450558 77.1px,#450356 84.6px,#450559 91.6px,#440255 99.1px,#450559 106.6px,#440255 113.6px,#450659 121.1px,#440255 128.6px,#450659 136.1px,#440255 143.6px,#450659 151.1px,#440255 158.6px,#45065a 166.2px,#440154 173.2px,#45065a 181.2px,#440154 188.2px,#45065a 195.7px,#440154 203.2px,#45065a 211.2px,#440154 217.2px)"></i><i style="left:227px;background:linear-gradient(#450458 0.0px,#450457 14.5px,#450457 29.0px,#450356 37.5px,#450457 50.0px,#450357 57.6px,#450458 64.6px,#450356 71.6px,#450558 79.1px,#440356 86.1px,#450558 93.6px,#440255 100.6px,#450559 108.1px,#440255 115.1px,#450659 122.6px,#440255 130.1px,#450659 137.6px,#440255 144.6px,#450659 152.1px,#440254 159.1px,#45065a 166.7px,#440254 174.2px,#450659 181.7px,#440154 188.7px,#45065a 196.2px,#440154 203.7px,#45065a 211.2px,#440154 217.2px)"></i><i style="left:228px;background:linear-gradient(#450356 0.0px,#450457 9.5px,#450356 24.5px,#450457 38.5px,#450457 46.5px,#440356 54.6px,#450458 66.6px,#450356 74.1px,#450458 81.1px,#440356 88.1px,#450558 95.1px,#440255 102.6px,#450559 109.6px,#440255 117.1px,#450559 124.1px,#440255 131.1px,#450559 138.6px,#440255 145.6px,#450659 153.1px,#440254 160.1px,#450659 167.7px,#440254 174.7px,#450659 182.2px,#440154 189.2px,#450659 196.7px,#440154 203.7px,#450659 211.2px,#440154 217.2px)"></i><i style="left:229px;background:linear-gradient(#440255 0.0px,#450457 12.0px,#450356 27.0px,#450457 41.0px,#450457 49.0px,#450356 62.1px,#450458 68.6px,#450356 76.1px,#450458 83.1px,#450356 90.1px,#450558 97.1px,#440255 104.1px,#450558 111.1px,#440255 118.1px,#450559 125.1px,#440255 132.6px,#450559 139.6px,#440255 146.6px,#450559 154.1px,#440255 161.1px,#450659 168.2px,#440255 175.7px,#450659 182.7px,#440254 189.7px,#450659 196.7px,#440254 204.2px,#450659 211.2px,#440154 217.2px)"></i><i style="left:230px;background:linear-gradient(#450457 0.0px,#450356 16.0px,#450356 29.5px,#450457 43.0px,#450457 51.0px,#440356 59.1px,#450458 70.6px,#450356 78.1px,#450458 84.6px,#440255 91.6px,#450558 98.6px,#440255 105.6px,#450558 112.6px,#440255 119.6px,#450559 126.6px,#440255 133.6px,#450559 140.6px,#440255 147.6px,#450659 154.6px,#440255 162.1px,#450559 169.2px,#440254 176.2px,#450659 183.2px,#440254 190.2px,#450659 197.2px,#440154 204.2px,#450659 211.2px,#440154 217.2px)"></i><i style="left:231px;background:linear-gradient(#450458 0.0px,#450457 11.0px,#450457 25.5px,#450457 39.0px,#440255 47.5px,#450457 59.1px,#450356 66.1px,#450457 73.1px,#450356 80.1px,#450458 86.6px,#440356 93.6px,#450558 100.1px,#440255 107.1px,#450558 114.1px,#440255 121.1px,#450559 127.6px,#440255 134.6px,#450559 141.6px,#440255 148.6px,#450559 155.6px,#440254 162.6px,#450559 169.7px,#440254 176.7px,#450559 183.7px,#440254 190.7px,#450559 197.7px,#440254 204.7px,#450559 211.7px,#440154 217.2px)"></i><i style="left:232px;background:linear-gradient(#450457 0.0px,#450457 14.5px,#450457 27.5px,#450457 41.5px,#450457 55.1px,#450356 62.1px,#450458 70.1px,#450356 81.6px,#450457 88.1px,#440356 95.1px,#450457 102.1px,#440356 109.1px,#450458 115.6px,#440255 122.6px,#450558 129.1px,#440255 136.1px,#450558 142.6px,#440255 149.6px,#450558 156.6px,#440255 163.7px,#450559 170.2px,#440254 177.2px,#450558 184.2px,#440254 191.2px,#450559 197.7px,#440154 204.7px,#450559 211.7px,#440154 217.2px)"></i><i style="left:233px;background:linear-gradient(#440255 0.0px,#440356 10.5px,#450356 23.5px,#450356 37.5px,#450356 50.5px,#450356 63.6px,#450457 71.1px,#440255 79.6px,#450457 90.1px,#450356 97.6px,#450457 104.1px,#440356 110.6px,#450457 117.1px,#440255 124.1px,#450558 130.1px,#440255 137.1px,#450458 144.1px,#440255 151.1px,#450458 157.6px,#440255 164.7px,#450558 171.2px,#440254 177.7px,#450558 184.7px,#440255 191.7px,#450558 198.2px,#440254 205.2px,#450558 211.7px,#440154 217.2px)"></i><i style="left:234px;background:linear-gradient(#440255 0.0px,#440356 13.0px,#440255 27.0px,#450356 39.5px,#450356 53.0px,#450356 66.1px,#450356 79.6px,#450457 87.1px,#450356 99.1px,#450356 106.1px,#450357 113.1px,#450356 119.6px,#450356 126.1px,#450357 132.6px,#440256 139.1px,#450457 145.6px,#440255 152.1px,#450458 158.6px,#440255 165.2px,#450558 171.7px,#440255 178.7px,#450558 185.2px,#440255 192.2px,#450558 198.7px,#440254 205.2px,#450558 212.2px,#440154 217.2px)"></i><i style="left:235px;background:linear-gradient(#450356 0.0px,#450457 23.5px,#450457 35.5px,#450457 48.5px,#450357 61.6px,#450357 75.1px,#450356 87.6px,#450356 94.6px,#450457 101.6px,#440255 109.6px,#450457 120.1px,#440255 126.6px,#450457 133.1px,#440255 140.1px,#450457 146.6px,#440255 153.1px,#450457 159.6px,#440255 166.2px,#450458 172.7px,#440255 179.2px,#450558 185.7px,#440255 192.7px,#450458 199.2px,#440255 205.7px,#450458 212.2px,#440154 217.2px)"></i><i style="left:236px;background:linear-gradient(#450457 0.0px,#450457 25.5px,#450457 38.0px,#450357 50.5px,#450357 63.6px,#450356 76.6px,#440255 84.6px,#450356 95.6px,#450356 102.6px,#450356 109.1px,#450356 115.6px,#450356 122.1px,#450356 128.6px,#450357 134.6px,#440255 141.1px,#450457 147.6px,#440255 154.1px,#450457 160.1px,#440255 166.7px,#450458 173.2px,#440255 179.7px,#450458 186.2px,#440255 193.2px,#450458 199.2px,#440254 205.7px,#450458 212.2px,#440154 217.2px)"></i><i style="left:237px;background:linear-gradient(#450356 0.0px,#450457 29.0px,#450356 39.5px,#450457 53.0px,#450357 65.6px,#450357 78.6px,#450356 91.1px,#440256 98.1px,#450356 110.1px,#450356 116.6px,#450357 122.6px,#440255 129.1px,#450357 135.6px,#440255 142.1px,#450457 148.1px,#440255 154.6px,#450458 160.6px,#440255 167.7px,#450458 173.7px,#440255 180.2px,#450458 186.7px,#440255 193.2px,#450457 199.7px,#440255 206.2px,#450457 212.7px,#440154 217.2px)"></i><i style="left:238px;background:linear-gradient(#440255 0.0px,#440255 24.0px,#440255 36.0px,#440356 48.5px,#440356 61.1px,#450356 73.6px,#450356 86.1px,#450457 94.1px,#450356 105.1px,#450356 111.6px,#450356 118.6px,#440255 125.1px,#450457 132.1px,#440255 143.1px,#450457 149.1px,#440255 155.6px,#450457 161.6px,#440255 168.2px,#450457 174.2px,#440255 180.7px,#450458 186.7px,#440255 193.7px,#450458 199.7px,#440255 206.2px,#450457 212.7px,#440154 217.2px)"></i><i style="left:239px;background:linear-gradient(#440356 0.0px,#440255 27.0px,#440256 38.0px,#440255 51.0px,#440356 63.1px,#440356 75.6px,#440356 88.1px,#450356 100.1px,#450356 107.1px,#440255 113.6px,#450356 125.1px,#450356 131.6px,#450356 137.6px,#440255 144.1px,#450357 150.1px,#440255 156.6px,#450457 162.6px,#440255 169.2px,#450457 175.2px,#440255 181.7px,#450458 187.2px,#440255 194.2px,#450457 200.2px,#440255 206.7px,#450457 212.7px,#440154 217.2px)"></i><i style="left:240px;background:linear-gradient(#450357 0.0px,#450457 23.0px,#450457 34.5px,#450357 46.5px,#450357 59.1px,#450356 71.1px,#450356 83.6px,#450356 96.1px,#450356 108.1px,#440255 114.6px,#450457 122.1px,#440256 132.6px,#450356 138.6px,#440356 145.1px,#450356 151.1px,#440356 157.6px,#450457 163.2px,#440255 169.7px,#450457 175.7px,#440255 182.2px,#450457 187.7px,#440255 194.2px,#450457 200.2px,#440255 206.7px,#450457 212.7px,#440154 217.2px)"></i><i style="left:241px;background:linear-gradient(#450357 0.0px,#450457 37.5px,#450356 48.5px,#450357 61.1px,#450356 73.1px,#450357 85.6px,#450356 97.6px,#450356 109.6px,#440255 116.1px,#450356 127.6px,#450356 134.6px,#440255 140.6px,#450458 148.6px,#440255 158.1px,#450457 163.7px,#440255 170.2px,#450457 176.2px,#440255 182.7px,#450457 188.2px,#440255 194.7px,#450457 200.7px,#440255 207.2px,#450457 212.7px,#440154 217.2px)"></i><i style="left:242px;background:linear-gradient(#440255 0.0px,#440255 34.0px,#440255 44.5px,#440255 57.6px,#440255 68.6px,#440255 80.6px,#440356 92.6px,#440356 104.6px,#450457 112.6px,#440356 122.6px,#440356 129.1px,#450457 136.1px,#440356 147.1px,#450356 152.6px,#440356 159.1px,#450356 164.7px,#440255 171.2px,#450357 176.7px,#440255 183.2px,#450457 188.7px,#440255 195.2px,#450457 200.7px,#440255 207.2px,#450457 212.7px,#440154 217.2px)"></i><i style="left:243px;background:linear-gradient(#440255 0.0px,#440255 35.5px,#440255 46.5px,#440255 59.1px,#440255 70.1px,#440255 82.1px,#440356 94.1px,#440356 106.1px,#440256 118.1px,#440256 130.1px,#450457 137.1px,#450356 148.1px,#440256 154.1px,#450457 161.1px,#450356 172.2px,#450356 177.7px,#450356 184.2px,#450356 189.7px,#450356 196.2px,#450356 201.7px,#440356 208.2px,#450357 213.2px,#440154 217.2px)"></i><i style="left:244px;background:linear-gradient(#440255 0.0px,#440255 50.0px,#440255 60.6px,#440255 72.6px,#440255 84.6px,#440255 95.6px,#440255 108.1px,#440356 119.1px,#450457 127.1px,#440255 136.6px,#440255 143.1px,#450457 150.6px,#440356 160.6px,#440256 166.7px,#450357 173.7px,#450356 184.7px,#440255 190.7px,#450457 197.7px,#440255 208.2px,#450356 213.7px,#440154 217.2px)"></i><i style="left:245px;background:linear-gradient(#450356 0.0px,#450357 69.6px,#450356 80.1px,#450356 92.1px,#450356 103.1px,#450356 115.1px,#450356 126.6px,#450356 138.6px,#450356 150.1px,#450356 161.6px,#450356 173.7px,#450356 185.2px,#450356 197.2px,#450356 208.7px,#440254 215.7px,#440154 217.2px)"></i><i style="left:246px;background:linear-gradient(#450356 0.0px,#450357 83.1px,#450356 93.6px,#450356 105.1px,#450356 116.6px,#450356 128.1px,#450356 139.1px,#450356 151.1px,#450356 162.6px,#450356 174.2px,#450356 185.7px,#450356 197.2px,#450356 208.7px,#440154 217.2px)"></i><i style="left:247px;background:linear-gradient(#440255 0.0px,#440255 78.6px,#440255 89.6px,#440255 100.6px,#440255 112.1px,#440255 123.1px,#440255 134.6px,#440255 146.1px,#440255 157.1px,#440255 169.2px,#440255 180.2px,#440255 191.7px,#440255 203.2px,#440255 214.7px,#440154 217.2px)"></i><i style="left:248px;background:linear-gradient(#440255 0.0px,#440254 80.6px,#440255 90.6px,#440255 102.1px,#440255 113.1px,#440255 124.6px,#440255 135.6px,#440255 146.6px,#440255 158.1px,#440255 169.2px,#440255 180.7px,#440255 192.2px,#440255 203.2px,#440255 214.7px,#440154 217.2px)"></i><i style="left:249px;background:linear-gradient(#450356 0.0px,#450356 87.1px,#450356 97.6px,#450356 109.6px,#450356 119.6px,#450356 131.6px,#450356 142.1px,#450356 153.6px,#450356 164.7px,#450356 175.7px,#450356 187.2px,#450356 198.2px,#450356 209.2px,#440154 217.2px)"></i><i style="left:250px;background:linear-gradient(#450356 0.0px,#450356 88.6px,#450356 99.1px,#450356 110.6px,#450356 121.1px,#450356 132.6px,#450356 143.1px,#450356 154.1px,#450356 165.2px,#450356 176.2px,#450356 187.2px,#450356 198.7px,#440356 209.2px,#440154 217.2px)"></i><i style="left:251px;background:linear-gradient(#440255 0.0px,#440254 95.6px,#440255 105.6px,#440255 117.1px,#440255 127.6px,#440255 138.1px,#440255 149.1px,#440255 160.1px,#440255 170.7px,#440255 181.7px,#440255 192.7px,#440255 203.7px,#440255 214.7px,#440154 217.2px)"></i><i style="left:252px;background:linear-gradient(#440255 0.0px,#440255 96.6px,#440255 107.1px,#440255 118.1px,#440255 128.1px,#440255 139.6px,#440255 149.6px,#440255 160.6px,#440255 171.7px,#440255 182.2px,#440255 193.2px,#440255 203.7px,#440255 214.7px,#440154 217.2px)"></i><i style="left:253px;background:linear-gradient(#440255 0.0px,#440254 98.1px,#440255 108.6px,#440255 119.1px,#440255 129.1px,#440254 140.6px,#440255 150.6px,#440255 161.1px,#440255 172.2px,#440255 182.7px,#440255 193.2px,#440255 204.2px,#440255 214.7px,#440154 217.2px)"></i><i style="left:254px;background:linear-gradient(#450356 0.0px,#450356 105.1px,#450356 115.1px,#450356 125.6px,#450356 136.1px,#450356 146.6px,#450356 157.1px,#450356 167.7px,#450356 178.2px,#440356 188.7px,#450356 199.7px,#450356 210.2px,#440154 217.2px)"></i><i style="left:255px;background:linear-gradient(#440256 0.0px,#450356 96.1px,#450356 106.1px,#450356 116.6px,#450356 126.6px,#450356 137.1px,#450356 147.6px,#450356 157.6px,#450356 168.7px,#450356 178.7px,#450356 189.2px,#450356 199.7px,#450356 210.2px,#440154 217.2px)"></i><i style="left:256px;background:linear-gradient(#440255 0.0px,#440254 102.1px,#440154 113.1px,#440255 122.1px,#440254 132.6px,#440255 142.6px,#440255 153.1px,#440255 163.2px,#440255 173.7px,#440255 183.7px,#440255 194.2px,#440255 204.2px,#440255 215.2px,#440154 217.2px)"></i><i style="left:257px;background:linear-gradient(#440255 0.0px,#440154 114.1px,#440255 123.1px,#440154 134.1px,#440255 143.1px,#440255 153.6px,#440255 163.7px,#440255 174.2px,#440255 184.2px,#440255 194.7px,#440255 204.2px,#440255 215.2px,#440154 217.2px)"></i><i style="left:258px;background:linear-gradient(#440255 0.0px,#450356 120.1px,#450356 129.6px,#450356 140.1px,#450356 149.6px,#450356 160.1px,#450356 170.2px,#450356 180.2px,#450356 190.2px,#450356 200.7px,#450356 210.7px,#440154 217.2px)"></i><i style="left:259px;background:linear-gradient(#440255 0.0px,#440154 126.1px,#440154 135.6px,#440154 145.6px,#440255 155.1px,#440254 165.2px,#440254 175.2px,#440255 185.2px,#440255 195.2px,#440255 205.2px,#440255 215.2px,#440154 217.2px)"></i><i style="left:260px;background:linear-gradient(#440255 0.0px,#440154 136.6px,#440154 147.1px,#440254 156.1px,#440254 165.7px,#440254 175.7px,#440255 185.2px,#440154 196.2px,#440255 205.2px,#440254 215.7px,#440154 217.2px)"></i><i style="left:261px;background:linear-gradient(#440255 0.0px,#450356 152.6px,#450356 162.1px,#450356 172.2px,#450356 181.7px,#450356 191.7px,#450356 201.7px,#450356 211.2px,#440154 217.2px)"></i><i style="left:262px;background:linear-gradient(#440255 0.0px,#440154 167.7px,#440154 186.7px,#440154 216.7px,#440154 217.2px)"></i><i style="left:263px;background:linear-gradient(#440256 0.0px,#440154 217.2px)"></i><i style="left:264px;background:linear-gradient(#440255 0.0px,#440154 217.2px)"></i><i style="left:265px;background:linear-gradient(#440254 0.0px,#440154 217.2px)"></i><i style="left:266px;background:linear-gradient(#440254 0.0px,#440154 217.2px)"></i><i style="left:267px;background:linear-gradient(#440255 0.0px,#440154 217.2px)"></i><i style="left:268px;background:linear-gradient(#440255 0.0px,#440154 217.2px)"></i><i style="left:269px;background:linear-gradient(#440255 0.0px,#440154 217.2px)"></i><i style="left:270px;background:linear-gradient(#440255 0.0px,#440154 217.2px)"></i><i style="left:271px;background:linear-gradient(#440255 0.0px,#440154 217.2px)"></i><i style="left:272px;background:linear-gradient(#440255 0.0px,#440154 217.2px)"></i><i style="left:273px;background:linear-gradient(#440255 0.0px,#440154 217.2px)"></i><i style="left:274px;background:linear-gradient(#440254 0.0px,#440154 217.2px)"></i><i style="left:275px;background:linear-gradient(#440255 0.0px,#440154 217.2px)"></i><i style="left:276px;background:linear-gradient(#440255 0.0px,#440154 217.2px)"></i><i style="left:277px;background:linear-gradient(#440254 0.0px,#440154 217.2px)"></i><i style="left:278px;background:linear-gradient(#440154 0.0px,#440154 217.2px)"></i><i style="left:279px;background:linear-gradient(#440254 0.0px,#440154 217.2px)"></i><i style="left:280px;background:linear-gradient(#440255 0.0px,#440154 217.2px)"></i><i style="left:281px;background:linear-gradient(#440255 0.0px,#440154 217.2px)"></i><i style="left:282px;background:linear-gradient(#440154 0.0px,#440154 217.2px)"></i><i style="left:283px;background:linear-gradient(#440254 0.0px,#440154 217.2px)"></i><i style="left:284px;background:linear-gradient(#440255 0.0px,#440154 217.2px)"></i><i style="left:285px;background:linear-gradient(#440255 0.0px,#440154 217.2px)"></i><i style="left:286px;background:linear-gradient(#440154 0.0px,#440154 217.2px)"></i><i style="left:287px;background:linear-gradient(#440254 0.0px,#440154 217.2px)"></i><i style="left:288px;background:linear-gradient(#440255 0.0px,#440154 217.2px)"></i><i style="left:289px;background:linear-gradient(#440254 0.0px,#440154 217.2px)"></i><i style="left:290px;background:linear-gradient(#440154 0.0px,#440154 217.2px)"></i><i style="left:291px;background:linear-gradient(#440154 0.0px,#440154 217.2px)"></i><i style="left:292px;background:linear-gradient(#440255 0.0px,#440154 217.2px)"></i><i style="left:293px;background:linear-gradient(#440254 0.0px,#440154 217.2px)"></i></div>
<svg width="520" height="623" viewBox="0 0 520 623" style="position:absolute;left:0;top:0"><clipPath id="ca"><rect x="58.7" y="3.6" width="451.8" height="241.4"/></clipPath>
<path d="M171.65,3.6 L171.65,245.0 M284.60,3.6 L284.60,245.0 M397.55,3.6 L397.55,245.0 M58.7,86.90 L510.5,86.90 M58.7,200.20 L510.5,200.20" stroke="#9c9c9c" stroke-width="1" stroke-dasharray="6,4" fill="none"/>
<g clip-path="url(#ca)">
<path d="M58.70,186.02 L58.98,186.02 L59.26,186.02 L59.55,186.02 L59.83,186.02 L60.11,186.02 L60.39,186.02 L60.68,186.02 L60.96,186.02 L61.24,186.02 L61.52,186.02 L61.81,186.02 L62.09,186.02 L62.37,186.02 L62.65,186.02 L62.94,186.02 L63.22,186.02 L63.50,186.02 L63.78,186.02 L64.07,186.02 L64.35,186.02 L64.63,186.02 L64.91,186.02 L65.19,186.02 L65.48,186.02 L65.76,186.02 L66.04,186.02 L66.32,186.02 L66.61,186.02 L66.89,186.02 L67.17,186.02 L67.45,186.02 L67.74,186.02 L68.02,186.02 L68.30,186.02 L68.58,186.02 L68.87,186.02 L69.15,186.02 L69.43,186.02 L69.71,186.02 L70.00,186.02 L70.28,186.02 L70.56,186.02 L70.84,186.02 L71.12,186.02 L71.41,186.02 L71.69,186.02 L71.97,186.02 L72.25,186.02 L72.54,186.02 L72.82,186.02 L73.10,186.02 L73.38,186.02 L73.67,186.02 L73.95,186.02 L74.23,186.02 L74.51,186.02 L74.80,186.02 L75.08,186.02 L75.36,186.02 L75.64,186.02 L75.92,186.02 L76.21,186.02 L76.49,186.02 L76.77,186.02 L77.05,186.02 L77.34,186.02 L77.62,186.02 L77.90,186.02 L78.18,186.02 L78.47,186.02 L78.75,186.02 L79.03,186.02 L79.31,186.02 L79.60,186.02 L79.88,186.02 L80.16,186.02 L80.44,186.02 L80.73,186.02 L81.01,186.02 L81.29,186.02 L81.57,186.02 L81.85,186.02 L82.14,186.02 L82.42,186.02 L82.70,186.03 L82.98,186.03 L83.27,186.03 L83.55,186.03 L83.83,186.03 L84.11,186.03 L84.40,186.03 L84.68,186.03 L84.96,186.03 L85.24,186.03 L85.53,186.03 L85.81,186.03 L86.09,186.03 L86.37,186.03 L86.66,186.03 L86.94,186.03 L87.22,186.03 L87.50,186.03 L87.78,186.03 L88.07,186.03 L88.35,186.03 L88.63,186.03 L88.91,186.03 L89.20,186.03 L89.48,186.03 L89.76,186.03 L90.04,186.03 L90.33,186.03 L90.61,186.03 L90.89,186.03 L91.17,186.03 L91.46,186.03 L91.74,186.03 L92.02,186.03 L92.30,186.03 L92.59,186.03 L92.87,186.03 L93.15,186.03 L93.43,186.03 L93.71,186.03 L94.00,186.03 L94.28,186.03 L94.56,186.03 L94.84,186.03 L95.13,186.03 L95.41,186.03 L95.69,186.03 L95.97,186.03 L96.26,186.03 L96.54,186.03 L96.82,186.03 L97.10,186.03 L97.39,186.03 L97.67,186.03 L97.95,186.03 L98.23,186.03 L98.51,186.03 L98.80,186.03 L99.08,186.03 L99.36,186.03 L99.64,186.03 L99.93,186.03 L100.21,186.03 L100.49,186.03 L100.77,186.03 L101.06,186.03 L101.34,186.03 L101.62,186.03 L101.90,186.03 L102.19,186.03 L102.47,186.03 L102.75,186.03 L103.03,186.03 L103.32,186.03 L103.60,186.03 L103.88,186.03 L104.16,186.03 L104.44,186.03 L104.73,186.03 L105.01,186.03 L105.29,186.03 L105.57,186.03 L105.86,186.03 L106.14,186.03 L106.42,186.03 L106.70,186.03 L106.99,186.03 L107.27,186.03 L107.55,186.03 L107.83,186.03 L108.12,186.03 L108.40,186.03 L108.68,186.03 L108.96,186.03 L109.25,186.03 L109.53,186.03 L109.81,186.03 L110.09,186.03 L110.37,186.03 L110.66,186.03 L110.94,186.03 L111.22,186.03 L111.50,186.03 L111.79,186.04 L112.07,186.04 L112.35,186.04 L112.63,186.04 L112.92,186.04 L113.20,186.04 L113.48,186.04 L113.76,186.04 L114.05,186.04 L114.33,186.04 L114.61,186.04 L114.89,186.04 L115.18,186.04 L115.46,186.04 L115.74,186.04 L116.02,186.04 L116.30,186.04 L116.59,186.04 L116.87,186.04 L117.15,186.04 L117.43,186.04 L117.72,186.04 L118.00,186.04 L118.28,186.04 L118.56,186.04 L118.85,186.04 L119.13,186.04 L119.41,186.04 L119.69,186.04 L119.98,186.04 L120.26,186.04 L120.54,186.04 L120.82,186.04 L121.10,186.04 L121.39,186.04 L121.67,186.04 L121.95,186.04 L122.23,186.04 L122.52,186.04 L122.80,186.04 L123.08,186.04 L123.36,186.04 L123.65,186.04 L123.93,186.04 L124.21,186.04 L124.49,186.04 L124.78,186.04 L125.06,186.04 L125.34,186.04 L125.62,186.04 L125.91,186.04 L126.19,186.04 L126.47,186.04 L126.75,186.04 L127.03,186.04 L127.32,186.04 L127.60,186.04 L127.88,186.04 L128.16,186.04 L128.45,186.04 L128.73,186.05 L129.01,186.05 L129.29,186.05 L129.58,186.05 L129.86,186.05 L130.14,186.05 L130.42,186.05 L130.71,186.05 L130.99,186.05 L131.27,186.05 L131.55,186.05 L131.84,186.05 L132.12,186.05 L132.40,186.05 L132.68,186.05 L132.96,186.05 L133.25,186.05 L133.53,186.05 L133.81,186.05 L134.09,186.05 L134.38,186.05 L134.66,186.05 L134.94,186.05 L135.22,186.05 L135.51,186.05 L135.79,186.05 L136.07,186.05 L136.35,186.05 L136.64,186.05 L136.92,186.05 L137.20,186.05 L137.48,186.05 L137.77,186.05 L138.05,186.05 L138.33,186.05 L138.61,186.05 L138.89,186.05 L139.18,186.05 L139.46,186.05 L139.74,186.05 L140.02,186.05 L140.31,186.05 L140.59,186.05 L140.87,186.05 L141.15,186.05 L141.44,186.05 L141.72,186.06 L142.00,186.06 L142.28,186.06 L142.57,186.06 L142.85,186.06 L143.13,186.06 L143.41,186.06 L143.69,186.06 L143.98,186.06 L144.26,186.06 L144.54,186.06 L144.82,186.06 L145.11,186.06 L145.39,186.06 L145.67,186.06 L145.95,186.06 L146.24,186.06 L146.52,186.06 L146.80,186.06 L147.08,186.06 L147.37,186.06 L147.65,186.06 L147.93,186.06 L148.21,186.06 L148.50,186.06 L148.78,186.06 L149.06,186.06 L149.34,186.06 L149.62,186.06 L149.91,186.06 L150.19,186.06 L150.47,186.06 L150.75,186.06 L151.04,186.06 L151.32,186.06 L151.60,186.06 L151.88,186.06 L152.17,186.07 L152.45,186.07 L152.73,186.07 L153.01,186.07 L153.30,186.07 L153.58,186.07 L153.86,186.07 L154.14,186.07 L154.43,186.07 L154.71,186.07 L154.99,186.07 L155.27,186.07 L155.55,186.07 L155.84,186.07 L156.12,186.07 L156.40,186.07 L156.68,186.07 L156.97,186.07 L157.25,186.07 L157.53,186.07 L157.81,186.07 L158.10,186.07 L158.38,186.07 L158.66,186.07 L158.94,186.07 L159.23,186.07 L159.51,186.07 L159.79,186.07 L160.07,186.07 L160.36,186.07 L160.64,186.07 L160.92,186.08 L161.20,186.08 L161.48,186.08 L161.77,186.08 L162.05,186.08 L162.33,186.08 L162.61,186.08 L162.90,186.08 L163.18,186.08 L163.46,186.08 L163.74,186.08 L164.03,186.08 L164.31,186.08 L164.59,186.08 L164.87,186.08 L165.16,186.08 L165.44,186.08 L165.72,186.08 L166.00,186.08 L166.28,186.08 L166.57,186.08 L166.85,186.08 L167.13,186.08 L167.41,186.08 L167.70,186.08 L167.98,186.08 L168.26,186.08 L168.54,186.09 L168.83,186.09 L169.11,186.09 L169.39,186.09 L169.67,186.09 L169.96,186.09 L170.24,186.09 L170.52,186.09 L170.80,186.09 L171.09,186.09 L171.37,186.09 L171.65,186.09 L171.93,186.09 L172.21,186.09 L172.50,186.09 L172.78,186.09 L173.06,186.09 L173.34,186.09 L173.63,186.09 L173.91,186.09 L174.19,186.09 L174.47,186.09 L174.76,186.09 L175.04,186.09 L175.32,186.10 L175.60,186.10 L175.89,186.10 L176.17,186.10 L176.45,186.10 L176.73,186.10 L177.02,186.10 L177.30,186.10 L177.58,186.10 L177.86,186.10 L178.14,186.10 L178.43,186.10 L178.71,186.10 L178.99,186.10 L179.27,186.10 L179.56,186.10 L179.84,186.10 L180.12,186.10 L180.40,186.10 L180.69,186.10 L180.97,186.10 L181.25,186.11 L181.53,186.11 L181.82,186.11 L182.10,186.11 L182.38,186.11 L182.66,186.11 L182.94,186.11 L183.23,186.11 L183.51,186.11 L183.79,186.11 L184.07,186.11 L184.36,186.11 L184.64,186.11 L184.92,186.11 L185.20,186.11 L185.49,186.11 L185.77,186.11 L186.05,186.11 L186.33,186.11 L186.62,186.12 L186.90,186.12 L187.18,186.12 L187.46,186.12 L187.75,186.12 L188.03,186.12 L188.31,186.12 L188.59,186.12 L188.87,186.12 L189.16,186.12 L189.44,186.12 L189.72,186.12 L190.00,186.12 L190.29,186.12 L190.57,186.12 L190.85,186.12 L191.13,186.12 L191.42,186.12 L191.70,186.13 L191.98,186.13 L192.26,186.13 L192.55,186.13 L192.83,186.13 L193.11,186.13 L193.39,186.13 L193.68,186.13 L193.96,186.13 L194.24,186.13 L194.52,186.13 L194.80,186.13 L195.09,186.13 L195.37,186.13 L195.65,186.13 L195.93,186.13 L196.22,186.14 L196.50,186.14 L196.78,186.14 L197.06,186.14 L197.35,186.14 L197.63,186.14 L197.91,186.14 L198.19,186.14 L198.48,186.14 L198.76,186.14 L199.04,186.14 L199.32,186.14 L199.61,186.14 L199.89,186.14 L200.17,186.14 L200.45,186.15 L200.73,186.15 L201.02,186.15 L201.30,186.15 L201.58,186.15 L201.86,186.15 L202.15,186.15 L202.43,186.15 L202.71,186.15 L202.99,186.15 L203.28,186.15 L203.56,186.15 L203.84,186.15 L204.12,186.16 L204.41,186.16 L204.69,186.16 L204.97,186.16 L205.25,186.16 L205.54,186.16 L205.82,186.16 L206.10,186.16 L206.38,186.16 L206.66,186.16 L206.95,186.16 L207.23,186.16 L207.51,186.16 L207.79,186.17 L208.08,186.17 L208.36,186.17 L208.64,186.17 L208.92,186.17 L209.21,186.17 L209.49,186.17 L209.77,186.17 L210.05,186.17 L210.34,186.17 L210.62,186.17 L210.90,186.17 L211.18,186.18 L211.46,186.18 L211.75,186.18 L212.03,186.18 L212.31,186.18 L212.59,186.18 L212.88,186.18 L213.16,186.18 L213.44,186.18 L213.72,186.18 L214.01,186.18 L214.29,186.19 L214.57,186.19 L214.85,186.19 L215.14,186.19 L215.42,186.19 L215.70,186.19 L215.98,186.19 L216.27,186.19 L216.55,186.19 L216.83,186.19 L217.11,186.20 L217.39,186.20 L217.68,186.20 L217.96,186.20 L218.24,186.20 L218.52,186.20 L218.81,186.20 L219.09,186.20 L219.37,186.20 L219.65,186.21 L219.94,186.21 L220.22,186.21 L220.50,186.21 L220.78,186.21 L221.07,186.21 L221.35,186.21 L221.63,186.21 L221.91,186.21 L222.20,186.21 L222.48,186.22 L222.76,186.22 L223.04,186.22 L223.32,186.22 L223.61,186.22 L223.89,186.22 L224.17,186.22 L224.45,186.22 L224.74,186.23 L225.02,186.23 L225.30,186.23 L225.58,186.23 L225.87,186.23 L226.15,186.23 L226.43,186.23 L226.71,186.23 L227.00,186.24 L227.28,186.24 L227.56,186.24 L227.84,186.24 L228.12,186.24 L228.41,186.24 L228.69,186.24 L228.97,186.24 L229.25,186.25 L229.54,186.25 L229.82,186.25 L230.10,186.25 L230.38,186.25 L230.67,186.25 L230.95,186.25 L231.23,186.26 L231.51,186.26 L231.80,186.26 L232.08,186.26 L232.36,186.26 L232.64,186.26 L232.93,186.26 L233.21,186.27 L233.49,186.27 L233.77,186.27 L234.05,186.27 L234.34,186.27 L234.62,186.27 L234.90,186.27 L235.18,186.28 L235.47,186.28 L235.75,186.28 L236.03,186.28 L236.31,186.28 L236.60,186.28 L236.88,186.29 L237.16,186.29 L237.44,186.29 L237.73,186.29 L238.01,186.29 L238.29,186.29 L238.57,186.30 L238.86,186.30 L239.14,186.30 L239.42,186.30 L239.70,186.30 L239.98,186.30 L240.27,186.31 L240.55,186.31 L240.83,186.31 L241.11,186.31 L241.40,186.31 L241.68,186.32 L241.96,186.32 L242.24,186.32 L242.53,186.32 L242.81,186.32 L243.09,186.33 L243.37,186.33 L243.66,186.33 L243.94,186.33 L244.22,186.33 L244.50,186.34 L244.79,186.34 L245.07,186.34 L245.35,186.34 L245.63,186.34 L245.91,186.35 L246.20,186.35 L246.48,186.35 L246.76,186.35 L247.04,186.35 L247.33,186.36 L247.61,186.36 L247.89,186.36 L248.17,186.36 L248.46,186.37 L248.74,186.37 L249.02,186.37 L249.30,186.37 L249.59,186.38 L249.87,186.38 L250.15,186.38 L250.43,186.38 L250.72,186.39 L251.00,186.39 L251.28,186.39 L251.56,186.39 L251.84,186.40 L252.13,186.40 L252.41,186.40 L252.69,186.40 L252.97,186.41 L253.26,186.41 L253.54,186.41 L253.82,186.41 L254.10,186.42 L254.39,186.42 L254.67,186.42 L254.95,186.43 L255.23,186.43 L255.52,186.43 L255.80,186.43 L256.08,186.44 L256.36,186.44 L256.64,186.44 L256.93,186.45 L257.21,186.45 L257.49,186.45 L257.77,186.46 L258.06,186.46 L258.34,186.46 L258.62,186.47 L258.90,186.47 L259.19,186.47 L259.47,186.48 L259.75,186.48 L260.03,186.48 L260.32,186.49 L260.60,186.49 L260.88,186.49 L261.16,186.50 L261.45,186.50 L261.73,186.50 L262.01,186.51 L262.29,186.51 L262.57,186.52 L262.86,186.52 L263.14,186.52 L263.42,186.53 L263.70,186.53 L263.99,186.54 L264.27,186.54 L264.55,186.54 L264.83,186.55 L265.12,186.55 L265.40,186.56 L265.68,186.56 L265.96,186.56 L266.25,186.57 L266.53,186.57 L266.81,186.58 L267.09,186.58 L267.38,186.59 L267.66,186.59 L267.94,186.60 L268.22,186.60 L268.50,186.61 L268.79,186.61 L269.07,186.62 L269.35,186.62 L269.63,186.63 L269.92,186.63 L270.20,186.64 L270.48,186.64 L270.76,186.65 L271.05,186.65 L271.33,186.66 L271.61,186.67 L271.89,186.67 L272.18,186.68 L272.46,186.68 L272.74,186.69 L273.02,186.70 L273.31,186.70 L273.59,186.71 L273.87,186.71 L274.15,186.72 L274.43,186.73 L274.72,186.73 L275.00,186.74 L275.28,186.75 L275.56,186.75 L275.85,186.76 L276.13,186.77 L276.41,186.78 L276.69,186.78 L276.98,186.79 L277.26,186.80 L277.54,186.81 L277.82,186.81 L278.11,186.82 L278.39,186.83 L278.67,186.84 L278.95,186.85 L279.23,186.86 L279.52,186.86 L279.80,186.87 L280.08,186.88 L280.36,186.89 L280.65,186.90 L280.93,186.91 L281.21,186.92 L281.49,186.93 L281.78,186.94 L282.06,186.95 L282.34,186.96 L282.62,186.97 L282.91,186.98 L283.19,186.99 L283.47,187.00 L283.75,187.01 L284.04,187.03 L284.32,187.04 L284.60,187.05 L284.88,187.06 L285.16,187.07 L285.45,187.09 L285.73,187.10 L286.01,187.11 L286.29,187.13 L286.58,187.14 L286.86,187.15 L287.14,187.17 L287.42,187.18 L287.71,187.20 L287.99,187.21 L288.27,187.23 L288.55,187.25 L288.84,187.26 L289.12,187.28 L289.40,187.30 L289.68,187.31 L289.97,187.33 L290.25,187.35 L290.53,187.37 L290.81,187.39 L291.09,187.41 L291.38,187.43 L291.66,187.45 L291.94,187.47 L292.22,187.49 L292.51,187.51 L292.79,187.53 L293.07,187.56 L293.35,187.58 L293.64,187.61 L293.92,187.63 L294.20,187.66 L294.48,187.68 L294.77,187.71 L295.05,187.74 L295.33,187.77 L295.61,187.80 L295.89,187.83 L296.18,187.86 L296.46,187.89 L296.74,187.92 L297.02,187.96 L297.31,187.99 L297.59,188.03 L297.87,188.07 L298.15,188.11 L298.44,188.15 L298.72,188.19 L299.00,188.23 L299.28,188.27 L299.57,188.32 L299.85,188.36 L300.13,188.41 L300.41,188.46 L300.70,188.51 L300.98,188.57 L301.26,188.62 L301.54,188.68 L301.82,188.74 L302.11,188.80 L302.39,188.86 L302.67,188.93 L302.95,188.99 L303.24,189.06 L303.52,189.14 L303.80,189.21 L304.08,189.29 L304.37,189.37 L304.65,189.45 L304.93,189.54 L305.21,189.63 L305.50,189.72 L305.78,189.82 L306.06,189.92 L306.34,190.02 L306.63,190.13 L306.91,190.24 L307.19,190.36 L307.47,190.48 L307.75,190.60 L308.04,190.73 L308.32,190.86 L308.60,191.00 L308.88,191.14 L309.17,191.29 L309.45,191.44 L309.73,191.60 L310.01,191.76 L310.30,191.93 L310.58,192.10 L310.86,192.28 L311.14,192.46 L311.43,192.65 L311.71,192.84 L311.99,193.04 L312.27,193.25 L312.56,193.45 L312.84,193.67 L313.12,193.89 L313.40,194.11 L313.68,194.34 L313.97,194.57 L314.25,194.81 L314.53,195.05 L314.81,195.30 L315.10,195.55 L315.38,195.81 L315.66,196.07 L315.94,196.34 L316.23,196.61 L316.51,196.88 L316.79,197.15 L317.07,197.43 L317.36,197.72 L317.64,198.01 L317.92,198.30 L318.20,198.59 L318.49,198.89 L318.77,199.19 L319.05,199.49 L319.33,199.80 L319.61,200.11 L319.90,200.42 L320.18,200.73 L320.46,201.05 L320.74,201.37 L321.03,201.69 L321.31,202.02 L321.59,202.34 L321.87,202.67 L322.16,203.00 L322.44,203.33 L322.72,203.67 L323.00,204.01 L323.29,204.34 L323.57,204.68 L323.85,205.03 L324.13,205.37 L324.41,205.71 L324.70,206.06 L324.98,206.41 L325.26,206.76 L325.54,207.11 L325.83,207.46 L326.11,207.82 L326.39,208.17 L326.67,208.53 L326.96,208.89 L327.24,209.25 L327.52,209.61 L327.80,209.97 L328.09,210.34 L328.37,210.70 L328.65,211.07 L328.93,211.43 L329.22,211.80 L329.50,212.17 L329.78,212.54 L330.06,212.91 L330.34,213.29 L330.63,213.66 L330.91,214.03 L331.19,214.41 L331.47,214.79 L331.76,215.16 L332.04,215.54 L332.32,215.92 L332.60,216.30 L332.89,216.68 L333.17,217.06 L333.45,217.45 L333.73,217.83 L334.02,218.22 L334.30,218.60 L334.58,218.99 L334.86,219.37 L335.15,219.76 L335.43,220.15 L335.71,220.54 L335.99,220.93 L336.27,221.32 L336.56,221.72 L336.84,222.11 L337.12,222.50 L337.40,222.90 L337.69,223.29 L337.97,223.69 L338.25,224.09 L338.53,224.48 L338.82,224.88 L339.10,225.28 L339.38,225.68 L339.66,226.08 L339.95,226.48 L340.23,226.88 L340.51,227.29 L340.79,227.69 L341.07,228.10 L341.36,228.50 L341.64,228.91 L341.92,229.31 L342.20,229.72 L342.49,230.13 L342.77,230.54 L343.05,230.95 L343.33,231.36 L343.62,231.77 L343.90,232.18 L344.18,232.59 L344.46,233.00 L344.75,233.42 L345.03,233.83 L345.31,234.24 L345.59,234.66 L345.88,235.08 L346.16,235.49 L346.44,235.91 L346.72,236.33 L347.00,236.75 L347.29,237.17 L347.57,237.59 L347.85,238.01 L348.13,238.43 L348.42,238.85 L348.70,239.28 L348.98,239.70 L349.26,240.12 L349.55,240.55 L349.83,240.97 L350.11,241.40 L350.39,241.83 L350.68,242.25 L350.96,242.68 L351.24,243.11 L351.52,243.54 L351.81,243.97 L352.09,244.40 L352.37,244.83 L352.65,245.26 L352.93,245.70 L353.22,246.13 L353.50,246.56 L353.78,247.00 L354.06,247.43 L354.35,247.87 L354.63,248.31 L354.91,248.74 L355.19,249.18 L355.48,249.62 L355.76,250.06 L356.04,250.50 L356.32,250.94" stroke="#1f74b0" stroke-width="2.5" fill="none"/>
<path d="M58.70,29.86 L58.98,29.86 L59.26,29.86 L59.55,29.86 L59.83,29.86 L60.11,29.86 L60.39,29.87 L60.68,29.87 L60.96,29.87 L61.24,29.87 L61.52,29.88 L61.81,29.88 L62.09,29.89 L62.37,29.89 L62.65,29.90 L62.94,29.90 L63.22,29.91 L63.50,29.91 L63.78,29.92 L64.07,29.93 L64.35,29.94 L64.63,29.94 L64.91,29.95 L65.19,29.96 L65.48,29.97 L65.76,29.98 L66.04,29.99 L66.32,30.00 L66.61,30.01 L66.89,30.02 L67.17,30.03 L67.45,30.04 L67.74,30.06 L68.02,30.07 L68.30,30.08 L68.58,30.10 L68.87,30.11 L69.15,30.12 L69.43,30.14 L69.71,30.15 L70.00,30.17 L70.28,30.18 L70.56,30.20 L70.84,30.22 L71.12,30.23 L71.41,30.25 L71.69,30.27 L71.97,30.29 L72.25,30.30 L72.54,30.32 L72.82,30.34 L73.10,30.36 L73.38,30.38 L73.67,30.40 L73.95,30.42 L74.23,30.44 L74.51,30.47 L74.80,30.49 L75.08,30.51 L75.36,30.53 L75.64,30.56 L75.92,30.58 L76.21,30.60 L76.49,30.63 L76.77,30.65 L77.05,30.68 L77.34,30.70 L77.62,30.73 L77.90,30.75 L78.18,30.78 L78.47,30.81 L78.75,30.83 L79.03,30.86 L79.31,30.89 L79.60,30.92 L79.88,30.95 L80.16,30.98 L80.44,31.01 L80.73,31.04 L81.01,31.07 L81.29,31.10 L81.57,31.13 L81.85,31.16 L82.14,31.19 L82.42,31.22 L82.70,31.26 L82.98,31.29 L83.27,31.32 L83.55,31.36 L83.83,31.39 L84.11,31.43 L84.40,31.46 L84.68,31.50 L84.96,31.53 L85.24,31.57 L85.53,31.61 L85.81,31.64 L86.09,31.68 L86.37,31.72 L86.66,31.76 L86.94,31.79 L87.22,31.83 L87.50,31.87 L87.78,31.91 L88.07,31.95 L88.35,31.99 L88.63,32.03 L88.91,32.08 L89.20,32.12 L89.48,32.16 L89.76,32.20 L90.04,32.24 L90.33,32.29 L90.61,32.33 L90.89,32.37 L91.17,32.42 L91.46,32.46 L91.74,32.51 L92.02,32.55 L92.30,32.60 L92.59,32.65 L92.87,32.69 L93.15,32.74 L93.43,32.79 L93.71,32.84 L94.00,32.88 L94.28,32.93 L94.56,32.98 L94.84,33.03 L95.13,33.08 L95.41,33.13 L95.69,33.18 L95.97,33.23 L96.26,33.28 L96.54,33.33 L96.82,33.39 L97.10,33.44 L97.39,33.49 L97.67,33.55 L97.95,33.60 L98.23,33.65 L98.51,33.71 L98.80,33.76 L99.08,33.82 L99.36,33.87 L99.64,33.93 L99.93,33.99 L100.21,34.04 L100.49,34.10 L100.77,34.16 L101.06,34.21 L101.34,34.27 L101.62,34.33 L101.90,34.39 L102.19,34.45 L102.47,34.51 L102.75,34.57 L103.03,34.63 L103.32,34.69 L103.60,34.75 L103.88,34.81 L104.16,34.88 L104.44,34.94 L104.73,35.00 L105.01,35.06 L105.29,35.13 L105.57,35.19 L105.86,35.26 L106.14,35.32 L106.42,35.39 L106.70,35.45 L106.99,35.52 L107.27,35.58 L107.55,35.65 L107.83,35.72 L108.12,35.79 L108.40,35.85 L108.68,35.92 L108.96,35.99 L109.25,36.06 L109.53,36.13 L109.81,36.20 L110.09,36.27 L110.37,36.34 L110.66,36.41 L110.94,36.48 L111.22,36.55 L111.50,36.63 L111.79,36.70 L112.07,36.77 L112.35,36.85 L112.63,36.92 L112.92,36.99 L113.20,37.07 L113.48,37.14 L113.76,37.22 L114.05,37.29 L114.33,37.37 L114.61,37.45 L114.89,37.52 L115.18,37.60 L115.46,37.68 L115.74,37.75 L116.02,37.83 L116.30,37.91 L116.59,37.99 L116.87,38.07 L117.15,38.15 L117.43,38.23 L117.72,38.31 L118.00,38.39 L118.28,38.47 L118.56,38.56 L118.85,38.64 L119.13,38.72 L119.41,38.80 L119.69,38.89 L119.98,38.97 L120.26,39.05 L120.54,39.14 L120.82,39.22 L121.10,39.31 L121.39,39.39 L121.67,39.48 L121.95,39.57 L122.23,39.65 L122.52,39.74 L122.80,39.83 L123.08,39.92 L123.36,40.00 L123.65,40.09 L123.93,40.18 L124.21,40.27 L124.49,40.36 L124.78,40.45 L125.06,40.54 L125.34,40.63 L125.62,40.72 L125.91,40.82 L126.19,40.91 L126.47,41.00 L126.75,41.09 L127.03,41.19 L127.32,41.28 L127.60,41.38 L127.88,41.47 L128.16,41.56 L128.45,41.66 L128.73,41.76 L129.01,41.85 L129.29,41.95 L129.58,42.04 L129.86,42.14 L130.14,42.24 L130.42,42.34 L130.71,42.44 L130.99,42.53 L131.27,42.63 L131.55,42.73 L131.84,42.83 L132.12,42.93 L132.40,43.03 L132.68,43.13 L132.96,43.24 L133.25,43.34 L133.53,43.44 L133.81,43.54 L134.09,43.65 L134.38,43.75 L134.66,43.85 L134.94,43.96 L135.22,44.06 L135.51,44.17 L135.79,44.27 L136.07,44.38 L136.35,44.48 L136.64,44.59 L136.92,44.70 L137.20,44.80 L137.48,44.91 L137.77,45.02 L138.05,45.13 L138.33,45.24 L138.61,45.34 L138.89,45.45 L139.18,45.56 L139.46,45.67 L139.74,45.78 L140.02,45.90 L140.31,46.01 L140.59,46.12 L140.87,46.23 L141.15,46.34 L141.44,46.46 L141.72,46.57 L142.00,46.68 L142.28,46.80 L142.57,46.91 L142.85,47.03 L143.13,47.14 L143.41,47.26 L143.69,47.37 L143.98,47.49 L144.26,47.61 L144.54,47.72 L144.82,47.84 L145.11,47.96 L145.39,48.08 L145.67,48.20 L145.95,48.32 L146.24,48.44 L146.52,48.56 L146.80,48.68 L147.08,48.80 L147.37,48.92 L147.65,49.04 L147.93,49.16 L148.21,49.28 L148.50,49.40 L148.78,49.53 L149.06,49.65 L149.34,49.77 L149.62,49.90 L149.91,50.02 L150.19,50.15 L150.47,50.27 L150.75,50.40 L151.04,50.52 L151.32,50.65 L151.60,50.78 L151.88,50.91 L152.17,51.03 L152.45,51.16 L152.73,51.29 L153.01,51.42 L153.30,51.55 L153.58,51.68 L153.86,51.81 L154.14,51.94 L154.43,52.07 L154.71,52.20 L154.99,52.33 L155.27,52.46 L155.55,52.59 L155.84,52.73 L156.12,52.86 L156.40,52.99 L156.68,53.12 L156.97,53.26 L157.25,53.39 L157.53,53.53 L157.81,53.66 L158.10,53.80 L158.38,53.93 L158.66,54.07 L158.94,54.21 L159.23,54.34 L159.51,54.48 L159.79,54.62 L160.07,54.76 L160.36,54.90 L160.64,55.04 L160.92,55.18 L161.20,55.32 L161.48,55.46 L161.77,55.60 L162.05,55.74 L162.33,55.88 L162.61,56.02 L162.90,56.16 L163.18,56.30 L163.46,56.45 L163.74,56.59 L164.03,56.73 L164.31,56.88 L164.59,57.02 L164.87,57.17 L165.16,57.31 L165.44,57.46 L165.72,57.60 L166.00,57.75 L166.28,57.90 L166.57,58.04 L166.85,58.19 L167.13,58.34 L167.41,58.49 L167.70,58.64 L167.98,58.79 L168.26,58.93 L168.54,59.08 L168.83,59.23 L169.11,59.38 L169.39,59.54 L169.67,59.69 L169.96,59.84 L170.24,59.99 L170.52,60.14 L170.80,60.30 L171.09,60.45 L171.37,60.60 L171.65,60.76 L171.93,60.91 L172.21,61.07 L172.50,61.22 L172.78,61.38 L173.06,61.53 L173.34,61.69 L173.63,61.85 L173.91,62.00 L174.19,62.16 L174.47,62.32 L174.76,62.48 L175.04,62.63 L175.32,62.79 L175.60,62.95 L175.89,63.11 L176.17,63.27 L176.45,63.43 L176.73,63.59 L177.02,63.76 L177.30,63.92 L177.58,64.08 L177.86,64.24 L178.14,64.40 L178.43,64.57 L178.71,64.73 L178.99,64.89 L179.27,65.06 L179.56,65.22 L179.84,65.39 L180.12,65.55 L180.40,65.72 L180.69,65.89 L180.97,66.05 L181.25,66.22 L181.53,66.39 L181.82,66.55 L182.10,66.72 L182.38,66.89 L182.66,67.06 L182.94,67.23 L183.23,67.40 L183.51,67.57 L183.79,67.74 L184.07,67.91 L184.36,68.08 L184.64,68.25 L184.92,68.43 L185.20,68.60 L185.49,68.77 L185.77,68.94 L186.05,69.12 L186.33,69.29 L186.62,69.47 L186.90,69.64 L187.18,69.82 L187.46,69.99 L187.75,70.17 L188.03,70.34 L188.31,70.52 L188.59,70.70 L188.87,70.87 L189.16,71.05 L189.44,71.23 L189.72,71.41 L190.00,71.59 L190.29,71.77 L190.57,71.95 L190.85,72.13 L191.13,72.31 L191.42,72.49 L191.70,72.67 L191.98,72.85 L192.26,73.03 L192.55,73.21 L192.83,73.40 L193.11,73.58 L193.39,73.76 L193.68,73.95 L193.96,74.13 L194.24,74.32 L194.52,74.50 L194.80,74.69 L195.09,74.87 L195.37,75.06 L195.65,75.25 L195.93,75.43 L196.22,75.62 L196.50,75.81 L196.78,76.00 L197.06,76.18 L197.35,76.37 L197.63,76.56 L197.91,76.75 L198.19,76.94 L198.48,77.13 L198.76,77.32 L199.04,77.51 L199.32,77.71 L199.61,77.90 L199.89,78.09 L200.17,78.28 L200.45,78.48 L200.73,78.67 L201.02,78.86 L201.30,79.06 L201.58,79.25 L201.86,79.45 L202.15,79.64 L202.43,79.84 L202.71,80.04 L202.99,80.23 L203.28,80.43 L203.56,80.63 L203.84,80.82 L204.12,81.02 L204.41,81.22 L204.69,81.42 L204.97,81.62 L205.25,81.82 L205.54,82.02 L205.82,82.22 L206.10,82.42 L206.38,82.62 L206.66,82.82 L206.95,83.02 L207.23,83.23 L207.51,83.43 L207.79,83.63 L208.08,83.84 L208.36,84.04 L208.64,84.24 L208.92,84.45 L209.21,84.65 L209.49,84.86 L209.77,85.07 L210.05,85.27 L210.34,85.48 L210.62,85.69 L210.90,85.89 L211.18,86.10 L211.46,86.31 L211.75,86.52 L212.03,86.73 L212.31,86.94 L212.59,87.15 L212.88,87.36 L213.16,87.57 L213.44,87.78 L213.72,87.99 L214.01,88.20 L214.29,88.41 L214.57,88.62 L214.85,88.84 L215.14,89.05 L215.42,89.26 L215.70,89.48 L215.98,89.69 L216.27,89.91 L216.55,90.12 L216.83,90.34 L217.11,90.55 L217.39,90.77 L217.68,90.99 L217.96,91.20 L218.24,91.42 L218.52,91.64 L218.81,91.86 L219.09,92.08 L219.37,92.29 L219.65,92.51 L219.94,92.73 L220.22,92.95 L220.50,93.17 L220.78,93.39 L221.07,93.62 L221.35,93.84 L221.63,94.06 L221.91,94.28 L222.20,94.51 L222.48,94.73 L222.76,94.95 L223.04,95.18 L223.32,95.40 L223.61,95.63 L223.89,95.85 L224.17,96.08 L224.45,96.30 L224.74,96.53 L225.02,96.76 L225.30,96.98 L225.58,97.21 L225.87,97.44 L226.15,97.67 L226.43,97.89 L226.71,98.12 L227.00,98.35 L227.28,98.58 L227.56,98.81 L227.84,99.04 L228.12,99.27 L228.41,99.51 L228.69,99.74 L228.97,99.97 L229.25,100.20 L229.54,100.44 L229.82,100.67 L230.10,100.90 L230.38,101.14 L230.67,101.37 L230.95,101.61 L231.23,101.84 L231.51,102.08 L231.80,102.31 L232.08,102.55 L232.36,102.79 L232.64,103.02 L232.93,103.26 L233.21,103.50 L233.49,103.74 L233.77,103.98 L234.05,104.22 L234.34,104.46 L234.62,104.70 L234.90,104.94 L235.18,105.18 L235.47,105.42 L235.75,105.66 L236.03,105.90 L236.31,106.14 L236.60,106.39 L236.88,106.63 L237.16,106.87 L237.44,107.12 L237.73,107.36 L238.01,107.60 L238.29,107.85 L238.57,108.10 L238.86,108.34 L239.14,108.59 L239.42,108.83 L239.70,109.08 L239.98,109.33 L240.27,109.58 L240.55,109.82 L240.83,110.07 L241.11,110.32 L241.40,110.57 L241.68,110.82 L241.96,111.07 L242.24,111.32 L242.53,111.57 L242.81,111.82 L243.09,112.07 L243.37,112.33 L243.66,112.58 L243.94,112.83 L244.22,113.08 L244.50,113.34 L244.79,113.59 L245.07,113.85 L245.35,114.10 L245.63,114.36 L245.91,114.61 L246.20,114.87 L246.48,115.12 L246.76,115.38 L247.04,115.64 L247.33,115.90 L247.61,116.15 L247.89,116.41 L248.17,116.67 L248.46,116.93 L248.74,117.19 L249.02,117.45 L249.30,117.71 L249.59,117.97 L249.87,118.23 L250.15,118.49 L250.43,118.75 L250.72,119.02 L251.00,119.28 L251.28,119.54 L251.56,119.80 L251.84,120.07 L252.13,120.33 L252.41,120.60 L252.69,120.86 L252.97,121.13 L253.26,121.39 L253.54,121.66 L253.82,121.92 L254.10,122.19 L254.39,122.46 L254.67,122.73 L254.95,122.99 L255.23,123.26 L255.52,123.53 L255.80,123.80 L256.08,124.07 L256.36,124.34 L256.64,124.61 L256.93,124.88 L257.21,125.15 L257.49,125.42 L257.77,125.69 L258.06,125.97 L258.34,126.24 L258.62,126.51 L258.90,126.78 L259.19,127.06 L259.47,127.33 L259.75,127.61 L260.03,127.88 L260.32,128.16 L260.60,128.43 L260.88,128.71 L261.16,128.98 L261.45,129.26 L261.73,129.54 L262.01,129.82 L262.29,130.09 L262.57,130.37 L262.86,130.65 L263.14,130.93 L263.42,131.21 L263.70,131.49 L263.99,131.77 L264.27,132.05 L264.55,132.33 L264.83,132.61 L265.12,132.89 L265.40,133.17 L265.68,133.46 L265.96,133.74 L266.25,134.02 L266.53,134.31 L266.81,134.59 L267.09,134.87 L267.38,135.16 L267.66,135.44 L267.94,135.73 L268.22,136.01 L268.50,136.30 L268.79,136.59 L269.07,136.87 L269.35,137.16 L269.63,137.45 L269.92,137.73 L270.20,138.02 L270.48,138.31 L270.76,138.60 L271.05,138.89 L271.33,139.18 L271.61,139.47 L271.89,139.76 L272.18,140.05 L272.46,140.34 L272.74,140.63 L273.02,140.92 L273.31,141.22 L273.59,141.51 L273.87,141.80 L274.15,142.09 L274.43,142.39 L274.72,142.68 L275.00,142.97 L275.28,143.27 L275.56,143.56 L275.85,143.86 L276.13,144.15 L276.41,144.45 L276.69,144.75 L276.98,145.04 L277.26,145.34 L277.54,145.64 L277.82,145.93 L278.11,146.23 L278.39,146.53 L278.67,146.83 L278.95,147.12 L279.23,147.42 L279.52,147.72 L279.80,148.02 L280.08,148.32 L280.36,148.62 L280.65,148.92 L280.93,149.22 L281.21,149.52 L281.49,149.82 L281.78,150.12 L282.06,150.43 L282.34,150.73 L282.62,151.03 L282.91,151.33 L283.19,151.63 L283.47,151.94 L283.75,152.24 L284.04,152.54 L284.32,152.85 L284.60,153.15 L284.88,153.45 L285.16,153.76 L285.45,154.06 L285.73,154.37 L286.01,154.67 L286.29,154.98 L286.58,155.28 L286.86,155.59 L287.14,155.89 L287.42,156.20 L287.71,156.50 L287.99,156.81 L288.27,157.12 L288.55,157.42 L288.84,157.73 L289.12,158.03 L289.40,158.34 L289.68,158.65 L289.97,158.95 L290.25,159.26 L290.53,159.56 L290.81,159.87 L291.09,160.18 L291.38,160.48 L291.66,160.79 L291.94,161.10 L292.22,161.40 L292.51,161.71 L292.79,162.01 L293.07,162.32 L293.35,162.63 L293.64,162.93 L293.92,163.24 L294.20,163.54 L294.48,163.85 L294.77,164.15 L295.05,164.46 L295.33,164.76 L295.61,165.06 L295.89,165.37 L296.18,165.67 L296.46,165.97 L296.74,166.27 L297.02,166.58 L297.31,166.88 L297.59,167.18 L297.87,167.48 L298.15,167.77 L298.44,168.07 L298.72,168.37 L299.00,168.67 L299.28,168.96 L299.57,169.26 L299.85,169.55 L300.13,169.84 L300.41,170.13 L300.70,170.43 L300.98,170.71 L301.26,171.00 L301.54,171.29 L301.82,171.57 L302.11,171.86 L302.39,172.14 L302.67,172.42 L302.95,172.69 L303.24,172.97 L303.52,173.24 L303.80,173.52 L304.08,173.79 L304.37,174.05 L304.65,174.32 L304.93,174.58 L305.21,174.84 L305.50,175.09 L305.78,175.35 L306.06,175.60 L306.34,175.84 L306.63,176.09 L306.91,176.33 L307.19,176.57 L307.47,176.80 L307.75,177.03 L308.04,177.25 L308.32,177.47 L308.60,177.69 L308.88,177.90 L309.17,178.11 L309.45,178.32 L309.73,178.52 L310.01,178.71 L310.30,178.90 L310.58,179.09 L310.86,179.27 L311.14,179.45 L311.43,179.62 L311.71,179.78 L311.99,179.95 L312.27,180.10 L312.56,180.26 L312.84,180.41 L313.12,180.55 L313.40,180.69 L313.68,180.82 L313.97,180.95 L314.25,181.08 L314.53,181.20 L314.81,181.32 L315.10,181.43 L315.38,181.54 L315.66,181.65 L315.94,181.75 L316.23,181.85 L316.51,181.95 L316.79,182.04 L317.07,182.13 L317.36,182.21 L317.64,182.30 L317.92,182.38 L318.20,182.45 L318.49,182.53 L318.77,182.60 L319.05,182.67 L319.33,182.74 L319.61,182.80 L319.90,182.87 L320.18,182.93 L320.46,182.98 L320.74,183.04 L321.03,183.10 L321.31,183.15 L321.59,183.20 L321.87,183.25 L322.16,183.30 L322.44,183.34 L322.72,183.39 L323.00,183.43 L323.29,183.47 L323.57,183.52 L323.85,183.56 L324.13,183.59 L324.41,183.63 L324.70,183.67 L324.98,183.70 L325.26,183.74 L325.54,183.77 L325.83,183.80 L326.11,183.83 L326.39,183.86 L326.67,183.89 L326.96,183.92 L327.24,183.95 L327.52,183.98 L327.80,184.00 L328.09,184.03 L328.37,184.05 L328.65,184.08 L328.93,184.10 L329.22,184.13 L329.50,184.15 L329.78,184.17 L330.06,184.19 L330.34,184.21 L330.63,184.23 L330.91,184.25 L331.19,184.27 L331.47,184.29 L331.76,184.31 L332.04,184.33 L332.32,184.35 L332.60,184.37 L332.89,184.38 L333.17,184.40 L333.45,184.42 L333.73,184.43 L334.02,184.45 L334.30,184.46 L334.58,184.48 L334.86,184.49 L335.15,184.51 L335.43,184.52 L335.71,184.53 L335.99,184.55 L336.27,184.56 L336.56,184.57 L336.84,184.59 L337.12,184.60 L337.40,184.61 L337.69,184.62 L337.97,184.64 L338.25,184.65 L338.53,184.66 L338.82,184.67 L339.10,184.68 L339.38,184.69 L339.66,184.70 L339.95,184.71 L340.23,184.72 L340.51,184.73 L340.79,184.74 L341.07,184.75 L341.36,184.76 L341.64,184.77 L341.92,184.78 L342.20,184.79 L342.49,184.80 L342.77,184.81 L343.05,184.81 L343.33,184.82 L343.62,184.83 L343.90,184.84 L344.18,184.85 L344.46,184.86 L344.75,184.86 L345.03,184.87 L345.31,184.88 L345.59,184.89 L345.88,184.89 L346.16,184.90 L346.44,184.91 L346.72,184.91 L347.00,184.92 L347.29,184.93 L347.57,184.93 L347.85,184.94 L348.13,184.95 L348.42,184.95 L348.70,184.96 L348.98,184.97 L349.26,184.97 L349.55,184.98 L349.83,184.98 L350.11,184.99 L350.39,185.00 L350.68,185.00 L350.96,185.01 L351.24,185.01 L351.52,185.02 L351.81,185.02 L352.09,185.03 L352.37,185.03 L352.65,185.04 L352.93,185.05 L353.22,185.05 L353.50,185.06 L353.78,185.06 L354.06,185.06 L354.35,185.07 L354.63,185.07 L354.91,185.08 L355.19,185.08 L355.48,185.09 L355.76,185.09 L356.04,185.10 L356.32,185.10 L356.61,185.11 L356.89,185.11 L357.17,185.11 L357.45,185.12 L357.74,185.12 L358.02,185.13 L358.30,185.13 L358.58,185.14 L358.86,185.14 L359.15,185.14 L359.43,185.15 L359.71,185.15 L359.99,185.15 L360.28,185.16 L360.56,185.16 L360.84,185.17 L361.12,185.17 L361.41,185.17 L361.69,185.18 L361.97,185.18 L362.25,185.18 L362.54,185.19 L362.82,185.19 L363.10,185.19 L363.38,185.20 L363.67,185.20 L363.95,185.20 L364.23,185.21 L364.51,185.21 L364.79,185.21 L365.08,185.22 L365.36,185.22 L365.64,185.22 L365.92,185.23 L366.21,185.23 L366.49,185.23 L366.77,185.23 L367.05,185.24 L367.34,185.24 L367.62,185.24 L367.90,185.25 L368.18,185.25 L368.47,185.25 L368.75,185.25 L369.03,185.26 L369.31,185.26 L369.59,185.26 L369.88,185.27 L370.16,185.27 L370.44,185.27 L370.72,185.27 L371.01,185.28 L371.29,185.28 L371.57,185.28 L371.85,185.28 L372.14,185.29 L372.42,185.29 L372.70,185.29 L372.98,185.29 L373.27,185.30 L373.55,185.30 L373.83,185.30 L374.11,185.30 L374.40,185.30 L374.68,185.31 L374.96,185.31 L375.24,185.31 L375.52,185.31 L375.81,185.32 L376.09,185.32 L376.37,185.32 L376.65,185.32 L376.94,185.32 L377.22,185.33 L377.50,185.33 L377.78,185.33 L378.07,185.33 L378.35,185.33 L378.63,185.34 L378.91,185.34 L379.20,185.34 L379.48,185.34 L379.76,185.34 L380.04,185.35 L380.33,185.35 L380.61,185.35 L380.89,185.35 L381.17,185.35 L381.45,185.36 L381.74,185.36 L382.02,185.36 L382.30,185.36 L382.58,185.36 L382.87,185.36 L383.15,185.37 L383.43,185.37 L383.71,185.37 L384.00,185.37 L384.28,185.37 L384.56,185.38 L384.84,185.38 L385.13,185.38 L385.41,185.38 L385.69,185.38 L385.97,185.38 L386.25,185.39 L386.54,185.39 L386.82,185.39 L387.10,185.39 L387.38,185.39 L387.67,185.39 L387.95,185.39 L388.23,185.40 L388.51,185.40 L388.80,185.40 L389.08,185.40 L389.36,185.40 L389.64,185.40 L389.93,185.41 L390.21,185.41 L390.49,185.41 L390.77,185.41 L391.06,185.41 L391.34,185.41 L391.62,185.41 L391.90,185.42 L392.18,185.42 L392.47,185.42 L392.75,185.42 L393.03,185.42 L393.31,185.42 L393.60,185.42 L393.88,185.42 L394.16,185.43 L394.44,185.43 L394.73,185.43 L395.01,185.43 L395.29,185.43 L395.57,185.43 L395.86,185.43 L396.14,185.44 L396.42,185.44 L396.70,185.44 L396.99,185.44 L397.27,185.44 L397.55,185.44 L397.83,185.44 L398.11,185.44 L398.40,185.45 L398.68,185.45 L398.96,185.45 L399.24,185.45 L399.53,185.45 L399.81,185.45 L400.09,185.45 L400.37,185.45 L400.66,185.45 L400.94,185.46 L401.22,185.46 L401.50,185.46 L401.79,185.46 L402.07,185.46 L402.35,185.46 L402.63,185.46 L402.92,185.46 L403.20,185.46 L403.48,185.47 L403.76,185.47 L404.04,185.47 L404.33,185.47 L404.61,185.47 L404.89,185.47 L405.17,185.47 L405.46,185.47 L405.74,185.47 L406.02,185.48 L406.30,185.48 L406.59,185.48 L406.87,185.48 L407.15,185.48 L407.43,185.48 L407.72,185.48 L408.00,185.48 L408.28,185.48 L408.56,185.48 L408.84,185.49 L409.13,185.49 L409.41,185.49 L409.69,185.49 L409.97,185.49 L410.26,185.49 L410.54,185.49 L410.82,185.49 L411.10,185.49 L411.39,185.49 L411.67,185.49 L411.95,185.50 L412.23,185.50 L412.52,185.50 L412.80,185.50 L413.08,185.50 L413.36,185.50 L413.65,185.50 L413.93,185.50 L414.21,185.50 L414.49,185.50 L414.77,185.50 L415.06,185.50 L415.34,185.51 L415.62,185.51 L415.90,185.51 L416.19,185.51 L416.47,185.51 L416.75,185.51 L417.03,185.51 L417.32,185.51 L417.60,185.51 L417.88,185.51 L418.16,185.51 L418.45,185.51 L418.73,185.52 L419.01,185.52 L419.29,185.52 L419.58,185.52 L419.86,185.52 L420.14,185.52 L420.42,185.52 L420.70,185.52 L420.99,185.52 L421.27,185.52 L421.55,185.52 L421.83,185.52 L422.12,185.52 L422.40,185.53 L422.68,185.53 L422.96,185.53 L423.25,185.53 L423.53,185.53 L423.81,185.53 L424.09,185.53 L424.38,185.53 L424.66,185.53 L424.94,185.53 L425.22,185.53 L425.51,185.53 L425.79,185.53 L426.07,185.53 L426.35,185.54 L426.63,185.54 L426.92,185.54 L427.20,185.54 L427.48,185.54 L427.76,185.54 L428.05,185.54 L428.33,185.54 L428.61,185.54 L428.89,185.54 L429.18,185.54 L429.46,185.54 L429.74,185.54 L430.02,185.54 L430.31,185.54 L430.59,185.55 L430.87,185.55 L431.15,185.55 L431.44,185.55 L431.72,185.55 L432.00,185.55 L432.28,185.55 L432.56,185.55 L432.85,185.55 L433.13,185.55 L433.41,185.55 L433.69,185.55 L433.98,185.55 L434.26,185.55 L434.54,185.55 L434.82,185.55 L435.11,185.56 L435.39,185.56 L435.67,185.56 L435.95,185.56 L436.24,185.56 L436.52,185.56 L436.80,185.56 L437.08,185.56 L437.36,185.56 L437.65,185.56 L437.93,185.56 L438.21,185.56 L438.49,185.56 L438.78,185.56 L439.06,185.56 L439.34,185.56 L439.62,185.56 L439.91,185.57 L440.19,185.57 L440.47,185.57 L440.75,185.57 L441.04,185.57 L441.32,185.57 L441.60,185.57 L441.88,185.57 L442.17,185.57 L442.45,185.57 L442.73,185.57 L443.01,185.57 L443.29,185.57 L443.58,185.57 L443.86,185.57 L444.14,185.57 L444.42,185.57 L444.71,185.57 L444.99,185.57 L445.27,185.58 L445.55,185.58 L445.84,185.58 L446.12,185.58 L446.40,185.58 L446.68,185.58 L446.97,185.58 L447.25,185.58 L447.53,185.58 L447.81,185.58 L448.10,185.58 L448.38,185.58 L448.66,185.58 L448.94,185.58 L449.22,185.58 L449.51,185.58 L449.79,185.58 L450.07,185.58 L450.35,185.58 L450.64,185.58 L450.92,185.58 L451.20,185.59 L451.48,185.59 L451.77,185.59 L452.05,185.59 L452.33,185.59 L452.61,185.59 L452.90,185.59 L453.18,185.59 L453.46,185.59 L453.74,185.59 L454.03,185.59 L454.31,185.59 L454.59,185.59 L454.87,185.59 L455.15,185.59 L455.44,185.59 L455.72,185.59 L456.00,185.59 L456.28,185.59 L456.57,185.59 L456.85,185.59 L457.13,185.59 L457.41,185.60 L457.70,185.60 L457.98,185.60 L458.26,185.60 L458.54,185.60 L458.83,185.60 L459.11,185.60 L459.39,185.60 L459.67,185.60 L459.95,185.60 L460.24,185.60 L460.52,185.60 L460.80,185.60 L461.08,185.60 L461.37,185.60 L461.65,185.60 L461.93,185.60 L462.21,185.60 L462.50,185.60 L462.78,185.60 L463.06,185.60 L463.34,185.60 L463.63,185.60 L463.91,185.60 L464.19,185.60 L464.47,185.61 L464.76,185.61 L465.04,185.61 L465.32,185.61 L465.60,185.61 L465.88,185.61 L466.17,185.61 L466.45,185.61 L466.73,185.61 L467.01,185.61 L467.30,185.61 L467.58,185.61 L467.86,185.61 L468.14,185.61 L468.43,185.61 L468.71,185.61 L468.99,185.61 L469.27,185.61 L469.56,185.61 L469.84,185.61 L470.12,185.61 L470.40,185.61 L470.69,185.61 L470.97,185.61 L471.25,185.61 L471.53,185.61 L471.81,185.61 L472.10,185.62 L472.38,185.62 L472.66,185.62 L472.94,185.62 L473.23,185.62 L473.51,185.62 L473.79,185.62 L474.07,185.62 L474.36,185.62 L474.64,185.62 L474.92,185.62 L475.20,185.62 L475.49,185.62 L475.77,185.62 L476.05,185.62 L476.33,185.62 L476.62,185.62 L476.90,185.62 L477.18,185.62 L477.46,185.62 L477.74,185.62 L478.03,185.62 L478.31,185.62 L478.59,185.62 L478.87,185.62 L479.16,185.62 L479.44,185.62 L479.72,185.62 L480.00,185.62 L480.29,185.62 L480.57,185.63 L480.85,185.63 L481.13,185.63 L481.42,185.63 L481.70,185.63 L481.98,185.63 L482.26,185.63 L482.54,185.63 L482.83,185.63 L483.11,185.63 L483.39,185.63 L483.67,185.63 L483.96,185.63 L484.24,185.63 L484.52,185.63 L484.80,185.63 L485.09,185.63 L485.37,185.63 L485.65,185.63 L485.93,185.63 L486.22,185.63 L486.50,185.63 L486.78,185.63 L487.06,185.63 L487.35,185.63 L487.63,185.63 L487.91,185.63 L488.19,185.63 L488.47,185.63 L488.76,185.63 L489.04,185.63 L489.32,185.63 L489.60,185.63 L489.89,185.64 L490.17,185.64 L490.45,185.64 L490.73,185.64 L491.02,185.64 L491.30,185.64 L491.58,185.64 L491.86,185.64 L492.15,185.64 L492.43,185.64 L492.71,185.64 L492.99,185.64 L493.28,185.64 L493.56,185.64 L493.84,185.64 L494.12,185.64 L494.40,185.64 L494.69,185.64 L494.97,185.64 L495.25,185.64 L495.53,185.64 L495.82,185.64 L496.10,185.64 L496.38,185.64 L496.66,185.64 L496.95,185.64 L497.23,185.64 L497.51,185.64 L497.79,185.64 L498.08,185.64 L498.36,185.64 L498.64,185.64 L498.92,185.64 L499.20,185.64 L499.49,185.64 L499.77,185.64 L500.05,185.64 L500.33,185.65 L500.62,185.65 L500.90,185.65 L501.18,185.65 L501.46,185.65 L501.75,185.65 L502.03,185.65 L502.31,185.65 L502.59,185.65 L502.88,185.65 L503.16,185.65 L503.44,185.65 L503.72,185.65 L504.01,185.65 L504.29,185.65 L504.57,185.65 L504.85,185.65 L505.13,185.65 L505.42,185.65 L505.70,185.65 L505.98,185.65 L506.26,185.65 L506.55,185.65 L506.83,185.65 L507.11,185.65 L507.39,185.65 L507.68,185.65 L507.96,185.65 L508.24,185.65 L508.52,185.65 L508.81,185.65 L509.09,185.65 L509.37,185.65 L509.65,185.65 L509.94,185.65 L510.22,185.65 L510.50,185.65" stroke="#ec7e20" stroke-width="2.7" fill="none"/>
</g>
<path d="M63.30,37.40 L64.10,37.36 L64.89,37.33 L65.69,37.30 L66.48,37.28 L67.28,37.26 L68.08,37.25 L68.87,37.24 L69.67,37.24 L70.46,37.24 L71.26,37.24 L72.06,37.25 L72.85,37.26 L73.65,37.28 L74.44,37.30 L75.24,37.33 L76.04,37.36 L76.83,37.40 L77.63,37.44 L78.42,37.48 L79.22,37.53 L80.02,37.59 L80.81,37.65 L81.61,37.71 L82.40,37.77 L83.20,37.85 L84.00,37.92 L84.79,38.00 L85.59,38.09 L86.38,38.17 L87.18,38.27 L87.98,38.37 L88.77,38.47 L89.57,38.57 L90.36,38.68 L91.16,38.80 L91.96,38.92 L92.75,39.04 L93.55,39.16 L94.34,39.30 L95.14,39.43 L95.94,39.57 L96.73,39.71 L97.53,39.86 L98.32,40.01 L99.12,40.17 L99.92,40.33 L100.71,40.49 L101.51,40.66 L102.30,40.83 L103.10,41.01 L103.90,41.19 L104.69,41.38 L105.49,41.56 L106.28,41.76 L107.08,41.95 L107.88,42.15 L108.67,42.36 L109.47,42.57 L110.26,42.78 L111.06,43.00 L111.86,43.22 L112.65,43.44 L113.45,43.67 L114.24,43.90 L115.04,44.13 L115.84,44.37 L116.63,44.62 L117.43,44.86 L118.22,45.12 L119.02,45.37 L119.82,45.63 L120.61,45.89 L121.41,46.16 L122.20,46.43 L123.00,46.70 L123.79,46.98 L124.59,47.26 L125.39,47.54 L126.18,47.83 L126.98,48.13 L127.77,48.42 L128.57,48.72 L129.37,49.02 L130.16,49.33 L130.96,49.64 L131.75,49.96 L132.55,50.27 L133.35,50.59 L134.14,50.92 L134.94,51.25 L135.73,51.58 L136.53,51.91 L137.33,52.25 L138.12,52.60 L138.92,52.94 L139.71,53.29 L140.51,53.64 L141.31,54.00 L142.10,54.36 L142.90,54.72 L143.69,55.09 L144.49,55.46 L145.29,55.83 L146.08,56.21 L146.88,56.59 L147.67,56.97 L148.47,57.36 L149.27,57.75 L150.06,58.14 L150.86,58.54 L151.65,58.94 L152.45,59.34 L153.25,59.75 L154.04,60.16 L154.84,60.57 L155.63,60.99 L156.43,61.41 L157.23,61.83 L158.02,62.26 L158.82,62.69 L159.61,63.12 L160.41,63.55 L161.21,63.99 L162.00,64.43 L162.80,64.88 L163.59,65.33 L164.39,65.78 L165.19,66.23 L165.98,66.69 L166.78,67.15 L167.57,67.61 L168.37,68.08 L169.17,68.55 L169.96,69.02 L170.76,69.49 L171.55,69.97 L172.35,70.45 L173.15,70.94 L173.94,71.42 L174.74,71.92 L175.53,72.41 L176.33,72.90 L177.13,73.40 L177.92,73.90 L178.72,74.41 L179.51,74.92 L180.31,75.43 L181.11,75.94 L181.90,76.45 L182.70,76.97 L183.49,77.50 L184.29,78.02 L185.09,78.55 L185.88,79.08 L186.68,79.61 L187.47,80.14 L188.27,80.68 L189.07,81.22 L189.86,81.77 L190.66,82.31 L191.45,82.86 L192.25,83.41 L193.05,83.97 L193.84,84.52 L194.64,85.08 L195.43,85.64 L196.23,86.21 L197.03,86.77 L197.82,87.34 L198.62,87.92 L199.41,88.49 L200.21,89.07 L201.01,89.65 L201.80,90.23 L202.60,90.81 L203.39,91.40 L204.19,91.99 L204.99,92.58 L205.78,93.18 L206.58,93.77 L207.37,94.37 L208.17,94.98 L208.97,95.58 L209.76,96.19 L210.56,96.80 L211.35,97.41 L212.15,98.02 L212.95,98.64 L213.74,99.25 L214.54,99.87 L215.33,100.50 L216.13,101.12 L216.93,101.75 L217.72,102.38 L218.52,103.01 L219.31,103.65 L220.11,104.28 L220.91,104.92 L221.70,105.56 L222.50,106.20 L223.29,106.85 L224.09,107.50 L224.89,108.15 L225.68,108.80 L226.48,109.45 L227.27,110.11 L228.07,110.77 L228.87,111.43 L229.66,112.09 L230.46,112.75 L231.25,113.42 L232.05,114.09 L232.85,114.76 L233.64,115.43 L234.44,116.10 L235.23,116.78 L236.03,117.46 L236.83,118.14 L237.62,118.82 L238.42,119.50 L239.21,120.19 L240.01,120.88 L240.81,121.56 L241.60,122.26 L242.40,122.95 L243.19,123.64 L243.99,124.34 L244.78,125.04 L245.58,125.74 L246.38,126.44 L247.17,127.15 L247.97,127.85 L248.76,128.56 L249.56,129.27 L250.36,129.98 L251.15,130.70 L251.95,131.41 L252.74,132.13 L253.54,132.85 L254.34,133.57 L255.13,134.29 L255.93,135.01 L256.72,135.74 L257.52,136.46 L258.32,137.19 L259.11,137.92 L259.91,138.65 L260.70,139.38 L261.50,140.12 L262.30,140.85 L263.09,141.59 L263.89,142.33 L264.68,143.07 L265.48,143.81 L266.28,144.56 L267.07,145.30 L267.87,146.05 L268.66,146.80 L269.46,147.55 L270.26,148.30 L271.05,149.05 L271.85,149.80 L272.64,150.56 L273.44,151.31 L274.24,152.07 L275.03,152.83 L275.83,153.59 L276.62,154.35 L277.42,155.12 L278.22,155.88 L279.01,156.65 L279.81,157.41 L280.60,158.18 L281.40,158.95 L282.20,159.72 L282.99,160.50 L283.79,161.27 L284.58,162.04 L285.38,162.82 L286.18,163.60 L286.97,164.37 L287.77,165.15 L288.56,165.93 L289.36,166.71 L290.16,167.50 L290.95,168.28 L291.75,169.07 L292.54,169.85 L293.34,170.64 L294.14,171.43 L294.93,172.22 L295.73,173.01 L296.52,173.80 L297.32,174.59 L298.12,175.38 L298.91,176.18 L299.71,176.97 L300.50,177.77 L301.30,178.56" stroke="#111" stroke-width="1.9" fill="none"/>
<path d="M289.50,173.90 L288.74,173.12 L287.99,172.35 L287.23,171.58 L286.47,170.81 L285.72,170.04 L284.96,169.27 L284.20,168.50 L283.45,167.74 L282.69,166.98 L281.93,166.21 L281.18,165.45 L280.42,164.70 L279.67,163.94 L278.91,163.18 L278.15,162.43 L277.40,161.68 L276.64,160.93 L275.88,160.18 L275.13,159.43 L274.37,158.69 L273.61,157.94 L272.86,157.20 L272.10,156.46 L271.34,155.72 L270.59,154.98 L269.83,154.25 L269.07,153.52 L268.32,152.78 L267.56,152.05 L266.80,151.33 L266.05,150.60 L265.29,149.87 L264.53,149.15 L263.78,148.43 L263.02,147.71 L262.27,146.99 L261.51,146.28 L260.75,145.56 L260.00,144.85 L259.24,144.14 L258.48,143.43 L257.73,142.72 L256.97,142.02 L256.21,141.32 L255.46,140.62 L254.70,139.92 L253.94,139.22 L253.19,138.52 L252.43,137.83 L251.67,137.14 L250.92,136.45 L250.16,135.76 L249.40,135.07 L248.65,134.39 L247.89,133.71 L247.13,133.03 L246.38,132.35 L245.62,131.67 L244.87,131.00 L244.11,130.33 L243.35,129.66 L242.60,128.99 L241.84,128.32 L241.08,127.66 L240.33,127.00 L239.57,126.34 L238.81,125.68 L238.06,125.02 L237.30,124.37 L236.54,123.71 L235.79,123.06 L235.03,122.42 L234.27,121.77 L233.52,121.13 L232.76,120.49 L232.00,119.85 L231.25,119.21 L230.49,118.57 L229.73,117.94 L228.98,117.31 L228.22,116.68 L227.47,116.05 L226.71,115.43 L225.95,114.81 L225.20,114.19 L224.44,113.57 L223.68,112.95 L222.93,112.34 L222.17,111.73 L221.41,111.12 L220.66,110.51 L219.90,109.91 L219.14,109.31 L218.39,108.71 L217.63,108.11 L216.87,107.51 L216.12,106.92 L215.36,106.33 L214.60,105.74 L213.85,105.15 L213.09,104.57 L212.33,103.99 L211.58,103.41 L210.82,102.83 L210.07,102.26 L209.31,101.68 L208.55,101.11 L207.80,100.55 L207.04,99.98 L206.28,99.42 L205.53,98.86 L204.77,98.30 L204.01,97.74 L203.26,97.19 L202.50,96.64 L201.74,96.09 L200.99,95.54 L200.23,95.00 L199.47,94.46 L198.72,93.92 L197.96,93.38 L197.20,92.85 L196.45,92.32 L195.69,91.79 L194.93,91.26 L194.18,90.74 L193.42,90.22 L192.67,89.70 L191.91,89.18 L191.15,88.67 L190.40,88.16 L189.64,87.65 L188.88,87.15 L188.13,86.64 L187.37,86.14 L186.61,85.64 L185.86,85.15 L185.10,84.65 L184.34,84.16 L183.59,83.68 L182.83,83.19 L182.07,82.71 L181.32,82.23 L180.56,81.75 L179.80,81.28 L179.05,80.81 L178.29,80.34 L177.53,79.87 L176.78,79.41 L176.02,78.94 L175.27,78.49 L174.51,78.03 L173.75,77.58 L173.00,77.13 L172.24,76.68 L171.48,76.23 L170.73,75.79 L169.97,75.35 L169.21,74.92 L168.46,74.48 L167.70,74.05 L166.94,73.62 L166.19,73.20 L165.43,72.78 L164.67,72.36 L163.92,71.94 L163.16,71.53 L162.40,71.12 L161.65,70.71 L160.89,70.30 L160.13,69.90 L159.38,69.50 L158.62,69.10 L157.87,68.71 L157.11,68.32 L156.35,67.93 L155.60,67.54 L154.84,67.16 L154.08,66.78 L153.33,66.41 L152.57,66.03 L151.81,65.66 L151.06,65.29 L150.30,64.93 L149.54,64.57 L148.79,64.21 L148.03,63.85 L147.27,63.50 L146.52,63.15 L145.76,62.81 L145.00,62.46 L144.25,62.12 L143.49,61.78 L142.73,61.45 L141.98,61.12 L141.22,60.79 L140.47,60.47 L139.71,60.14 L138.95,59.82 L138.20,59.51 L137.44,59.20 L136.68,58.89 L135.93,58.58 L135.17,58.28 L134.41,57.98 L133.66,57.68 L132.90,57.38 L132.14,57.09 L131.39,56.81 L130.63,56.52 L129.87,56.24 L129.12,55.96 L128.36,55.69 L127.60,55.42 L126.85,55.15 L126.09,54.88 L125.33,54.62 L124.58,54.36 L123.82,54.11 L123.07,53.85 L122.31,53.60 L121.55,53.36 L120.80,53.12 L120.04,52.88 L119.28,52.64 L118.53,52.41 L117.77,52.18 L117.01,51.95 L116.26,51.73 L115.50,51.51 L114.74,51.30 L113.99,51.08 L113.23,50.87 L112.47,50.67 L111.72,50.47 L110.96,50.27 L110.20,50.07 L109.45,49.88 L108.69,49.69 L107.93,49.51 L107.18,49.32 L106.42,49.14 L105.67,48.97 L104.91,48.80 L104.15,48.63 L103.40,48.47 L102.64,48.30 L101.88,48.15 L101.13,47.99 L100.37,47.84 L99.61,47.69 L98.86,47.55 L98.10,47.41 L97.34,47.27 L96.59,47.14 L95.83,47.01 L95.07,46.88 L94.32,46.76 L93.56,46.64 L92.80,46.53 L92.05,46.42 L91.29,46.31 L90.53,46.20 L89.78,46.10 L89.02,46.01 L88.27,45.91 L87.51,45.82 L86.75,45.73 L86.00,45.65 L85.24,45.57 L84.48,45.50 L83.73,45.43 L82.97,45.36 L82.21,45.29 L81.46,45.23 L80.70,45.18 L79.94,45.12 L79.19,45.07 L78.43,45.03 L77.67,44.98 L76.92,44.95 L76.16,44.91 L75.40,44.88 L74.65,44.85 L73.89,44.83 L73.13,44.81 L72.38,44.80 L71.62,44.78 L70.87,44.78 L70.11,44.77 L69.35,44.77 L68.60,44.77 L67.84,44.78 L67.08,44.79 L66.33,44.81 L65.57,44.83 L64.81,44.85 L64.06,44.88 L63.30,44.91" stroke="#111" stroke-width="1.9" fill="none" stroke-dasharray="11.5,5.5" stroke-dashoffset="2"/>
<path d="M301.30,178.56 C302.6,179.8 301.4,182.4 298.6,181.3 L293.8,177.7" stroke="#111" stroke-width="1.9" fill="none" stroke-linejoin="round"/>
<path d="M160.41,63.55 L152.30,62.75 L154.82,60.49 L155.38,57.14 Z" fill="#111"/>
<path d="M241.84,128.32 L249.58,130.87 L246.63,132.53 L245.36,135.68 Z" fill="#111"/>
<path d="M63.3,181.5 L287,181.5" stroke="#8a8a8a" stroke-width="1.7" stroke-dasharray="12,4.8" stroke-dashoffset="-3" fill="none"/>
<path d="M244.50,181.50 L251.10,178.20 L250.11,181.50 L251.10,184.80 Z" fill="#8a8a8a"/>
<circle cx="63.3" cy="37.1" r="3.6" fill="#000"/>
<circle cx="63.3" cy="44.8" r="3.6" fill="#8a8a8a"/>
<circle cx="63.3" cy="181.0" r="3.6" fill="#8a8a8a"/>
<path d="M310.40,204 L310.40,250" stroke="#111" stroke-width="1.9" stroke-dasharray="10.5,4.5" fill="none"/>
<path d="M310.40,196.70 L314.00,205.50 L310.40,204.62 L306.80,205.50 Z" fill="#111"/>
<path d="M171.65,245.0 L171.65,240.5 M284.60,245.0 L284.60,240.5 M397.55,245.0 L397.55,240.5 M58.7,86.90 L63.2,86.90 M58.7,200.20 L63.2,200.20" stroke="#000" stroke-width="1.1" fill="none"/>
<rect x="58.7" y="3.6" width="451.8" height="241.4" fill="none" stroke="#111" stroke-width="1.3"/>
<path d="M196.90,245.3 L423.10,245.3 M196.90,241.6 L196.90,248.2 M423.10,241.6 L423.10,248.2" stroke="#e8141c" stroke-width="1.6" fill="none"/>
<path d="M310.40,237.0 L310.40,246.5" stroke="#e8141c" stroke-width="1.4" fill="none"/>
<text x="-2.30" y="14.30" font-size="19" font-family='"DejaVu Sans", sans-serif' fill="#000" stroke="#000" stroke-width="0.6" >(a)</text>
<text x="58.90" y="20.90" font-size="17" font-family='"DejaVu Sans", sans-serif' fill="#000" stroke="#000" stroke-width="0.15" >|</text>
<text x="63.80" y="21.00" font-size="14.5" font-family='"DejaVu Sans", sans-serif' fill="#000" stroke="#000" stroke-width="0.15" >10</text>
<text x="80.90" y="22.90" font-size="18" font-family='"DejaVu Sans", sans-serif' fill="#000" stroke="#000" stroke-width="0.15" >⟩</text>
<text x="63.40" y="203.40" font-size="16" font-family='"DejaVu Sans", sans-serif' fill="#000" stroke="#000" stroke-width="0.15" >|</text>
<text x="68.10" y="203.80" font-size="14.5" font-family='"DejaVu Sans", sans-serif' fill="#000" stroke="#000" stroke-width="0.15" >01</text>
<text x="84.30" y="204.50" font-size="17" font-family='"DejaVu Sans", sans-serif' fill="#000" stroke="#000" stroke-width="0.15" >⟩</text>
<text x="29.50" y="93.70" font-size="17" font-family='"DejaVu Sans", sans-serif' fill="#000" stroke="#000" stroke-width="0.6" >5.0</text>
<text x="28.70" y="206.10" font-size="17" font-family='"DejaVu Sans", sans-serif' fill="#000" stroke="#000" stroke-width="0.6" >4.5</text>
<text x="45.80" y="262.60" font-size="17" font-family='"DejaVu Sans", sans-serif' fill="#000" stroke="#000" stroke-width="0.6" >0.0</text>
<text x="154.30" y="262.70" font-size="17" font-family='"DejaVu Sans", sans-serif' fill="#000" stroke="#000" stroke-width="0.6" >0.1</text>
<text x="268.10" y="262.70" font-size="17" font-family='"DejaVu Sans", sans-serif' fill="#000" stroke="#000" stroke-width="0.6" >0.2</text>
<text x="382.50" y="262.70" font-size="17" font-family='"DejaVu Sans", sans-serif' fill="#000" stroke="#000" stroke-width="0.6" >0.3</text>
<text x="493.70" y="262.70" font-size="17" font-family='"DejaVu Sans", sans-serif' fill="#000" stroke="#000" stroke-width="0.6" >0.4</text>
<text x="303.30" y="263.80" font-size="14.8" font-family='"DejaVu Sans", sans-serif' font-weight="bold" font-style="italic" fill="#000" stroke="#000" stroke-width="0.3" >Φ</text>
<text x="315.90" y="269.90" font-size="13" font-family='"DejaVu Sans", sans-serif' fill="#000" stroke="#000" stroke-width="0.6" >iSWAP</text>
<text x="154.20" y="289.6" font-size="17.5" font-family='"DejaVu Sans", sans-serif' stroke="#000" stroke-width="0.6">Magnetic flux, qubit 1 (</text>
<text x="357.60" y="288.40" font-size="15" font-family='"DejaVu Sans", sans-serif' font-weight="bold" font-style="italic" fill="#000" >Φ</text>
<text x="371.00" y="292.50" font-size="10.7" font-family='"DejaVu Sans", sans-serif' fill="#000" stroke="#000" stroke-width="0.6" >0</text>
<text x="378.00" y="289.6" font-size="17.5" font-family='"DejaVu Sans", sans-serif' stroke="#000" stroke-width="0.6">)</text>
<text transform="translate(16.6,140.6) rotate(-90)" font-size="17" font-family='"DejaVu Sans", sans-serif' text-anchor="middle" stroke="#000" stroke-width="0.6">Frequency (GHz)</text>
<rect x="397" y="11" width="106.5" height="39.2" fill="#fff" stroke="#111" stroke-width="1.3"/>
<circle cx="405.7" cy="23.7" r="1.8" fill="#000"/>
<circle cx="405.7" cy="40.3" r="1.8" fill="#8a8a8a"/>
<text x="414.70" y="25.80" font-size="15.5" font-family='"Liberation Sans", sans-serif' font-weight="bold" fill="#000" stroke="#000" stroke-width="0.15" >initial point</text>
<text x="415.50" y="43.00" font-size="15.5" font-family='"Liberation Sans", sans-serif' font-weight="bold" fill="#000" stroke="#000" stroke-width="0.15" >final point</text>
<rect x="59.0" y="302.4" width="271.3" height="48.1" fill="none" stroke="#111" stroke-width="1.4"/>
<path d="M102.20,322.69 L102.64,322.69 L103.07,322.69 L103.51,322.68 L103.95,322.68 L104.38,322.67 L104.82,322.66 L105.25,322.65 L105.69,322.64 L106.13,322.62 L106.56,322.60 L107.00,322.57 L107.44,322.54 L107.87,322.49 L108.31,322.44 L108.74,322.38 L109.18,322.31 L109.62,322.22 L110.05,322.11 L110.49,321.99 L110.93,321.84 L111.36,321.67 L111.80,321.47 L112.23,321.25 L112.67,320.99 L113.11,320.70 L113.54,320.37 L113.98,320.00 L114.42,319.60 L114.85,319.16 L115.29,318.67 L115.72,318.15 L116.16,317.59 L116.60,316.99 L117.03,316.36 L117.47,315.70 L117.91,315.02 L118.34,314.33 L118.78,313.62 L119.21,312.91 L119.65,312.20 L120.09,311.52 L120.52,310.85 L120.96,310.22 L121.40,309.64 L121.83,309.10 L122.27,308.63 L122.70,308.22 L123.14,307.89 L123.58,307.64 L124.01,307.48 L124.45,307.41 L124.89,307.42 L125.32,307.52 L125.76,307.71 L126.19,307.99 L126.63,308.34 L127.07,308.77 L127.50,309.26 L127.94,309.81 L128.38,310.41 L128.81,311.06 L129.25,311.73 L129.69,312.42 L130.12,313.13 L130.56,313.84 L130.99,314.54 L131.43,315.24 L131.87,315.91 L132.30,316.56 L132.74,317.18 L133.18,317.77 L133.61,318.32 L134.05,318.83 L134.48,319.30 L134.92,319.73 L135.36,320.12 L135.79,320.47 L136.23,320.79 L136.67,321.07 L137.10,321.32 L137.54,321.54 L137.97,321.72 L138.41,321.89 L138.85,322.03 L139.28,322.15 L139.72,322.25 L140.16,322.33 L140.59,322.40 L141.03,322.46 L141.46,322.51 L141.90,322.55 L142.34,322.58 L142.77,322.61 L143.21,322.63 L143.65,322.64 L144.08,322.66 L144.52,322.67 L144.95,322.67 L145.39,322.68 L145.83,322.69 L146.26,322.69 L146.70,322.69 L147.14,322.69 L147.57,322.70 L148.01,322.70 L148.44,322.70 L148.88,322.70 L149.32,322.70 L149.75,322.70 L150.19,322.70 L150.63,322.70 L151.06,322.70 L151.50,322.70 L151.94,322.70 L152.37,322.70 L152.81,322.70 L153.24,322.70 L153.68,322.70 L154.12,322.70 L154.55,322.70 L154.99,322.70 L155.43,322.70 L155.86,322.70 L156.30,322.70 L156.73,322.70 L157.17,322.70 L157.61,322.70 L158.04,322.70 L158.48,322.70 L158.92,322.70 L159.35,322.70 L159.79,322.70 L160.22,322.70 L160.66,322.70 L161.10,322.70 L161.53,322.70 L161.97,322.70 L162.41,322.70 L162.84,322.70 L163.28,322.70 L163.71,322.70 L164.15,322.70 L164.59,322.70 L165.02,322.70 L165.46,322.70 L165.90,322.70 L166.33,322.70 L166.77,322.70 L167.20,322.70 L167.64,322.70 L168.08,322.70 L168.51,322.70 L168.95,322.70 L169.39,322.70 L169.82,322.70 L170.26,322.70 L170.69,322.70 L171.13,322.70 L171.57,322.70 L172.00,322.70 L172.44,322.70 L172.88,322.70 L173.31,322.70 L173.75,322.70 L174.18,322.70 L174.62,322.70 L175.06,322.70 L175.49,322.70 L175.93,322.70 L176.37,322.70 L176.80,322.70 L177.24,322.70 L177.68,322.70 L178.11,322.70 L178.55,322.70 L178.98,322.70 L179.42,322.70 L179.86,322.70 L180.29,322.70 L180.73,322.70 L181.17,322.70 L181.60,322.70 L182.04,322.70 L182.47,322.70 L182.91,322.70 L183.35,322.70 L183.78,322.70 L184.22,322.70 L184.66,322.70 L185.09,322.70 L185.53,322.70 L185.96,322.70 L186.40,322.70 L186.84,322.70 L187.27,322.70 L187.71,322.70 L188.15,322.70 L188.58,322.70 L189.02,322.70 L189.45,322.70 L189.89,322.70 L190.33,322.70 L190.76,322.70 L191.20,322.70 L191.64,322.70 L192.07,322.70 L192.51,322.70 L192.94,322.70 L193.38,322.70 L193.82,322.70 L194.25,322.70 L194.69,322.70 L195.13,322.70 L195.56,322.70 L196.00,322.70 L196.43,322.70 L196.87,322.70 L197.31,322.70 L197.74,322.70 L198.18,322.70 L198.62,322.70 L199.05,322.70 L199.49,322.70 L199.93,322.70 L200.36,322.70 L200.80,322.70 L201.23,322.70 L201.67,322.70 L202.11,322.70 L202.54,322.70 L202.98,322.70 L203.42,322.70 L203.85,322.70 L204.29,322.70 L204.72,322.70 L205.16,322.70 L205.60,322.70 L206.03,322.70 L206.47,322.70 L206.91,322.70 L207.34,322.70 L207.78,322.70 L208.21,322.70 L208.65,322.70 L209.09,322.70 L209.52,322.70 L209.96,322.70 L210.40,322.70 L210.83,322.70 L211.27,322.70 L211.70,322.70 L212.14,322.70 L212.58,322.70 L213.01,322.70 L213.45,322.70 L213.89,322.70 L214.32,322.70 L214.76,322.70 L215.19,322.70 L215.63,322.70 L216.07,322.70 L216.50,322.70 L216.94,322.70 L217.38,322.70 L217.81,322.70 L218.25,322.70 L218.68,322.70 L219.12,322.70 L219.56,322.70 L219.99,322.70 L220.43,322.70 L220.87,322.70 L221.30,322.70 L221.74,322.70 L222.17,322.70 L222.61,322.70 L223.05,322.70 L223.48,322.70 L223.92,322.70 L224.36,322.70 L224.79,322.70 L225.23,322.70 L225.67,322.70 L226.10,322.70 L226.54,322.70 L226.97,322.70 L227.41,322.70 L227.85,322.70 L228.28,322.70 L228.72,322.70 L229.16,322.70 L229.59,322.70 L230.03,322.70 L230.46,322.70 L230.90,322.70 L231.34,322.70 L231.77,322.70 L232.21,322.70 L232.65,322.70 L233.08,322.70 L233.52,322.70 L233.95,322.70 L234.39,322.70 L234.83,322.70 L235.26,322.70 L235.70,322.70 L236.14,322.70 L236.57,322.70 L237.01,322.70 L237.44,322.70 L237.88,322.70 L238.32,322.70 L238.75,322.70 L239.19,322.70 L239.63,322.70 L240.06,322.70 L240.50,322.70 L240.93,322.70 L241.37,322.70 L241.81,322.70 L242.24,322.70 L242.68,322.70 L243.12,322.70 L243.55,322.70 L243.99,322.70 L244.42,322.70 L244.86,322.70 L245.30,322.70 L245.73,322.70 L246.17,322.70 L246.61,322.70 L247.04,322.70 L247.48,322.70 L247.92,322.70 L248.35,322.70 L248.79,322.70 L249.22,322.70 L249.66,322.70 L250.10,322.70 L250.53,322.70 L250.97,322.70 L251.41,322.70 L251.84,322.70 L252.28,322.70 L252.71,322.70 L253.15,322.70 L253.59,322.70 L254.02,322.70 L254.46,322.70 L254.90,322.70 L255.33,322.70 L255.77,322.70 L256.20,322.70 L256.64,322.70 L257.08,322.70 L257.51,322.70 L257.95,322.70 L258.39,322.70 L258.82,322.70 L259.26,322.70 L259.69,322.70 L260.13,322.70 L260.57,322.70 L261.00,322.70 L261.44,322.70 L261.88,322.70 L262.31,322.70 L262.75,322.70 L263.18,322.70 L263.62,322.70 L264.06,322.70 L264.49,322.70 L264.93,322.70 L265.37,322.70 L265.80,322.70 L266.24,322.70 L266.67,322.70 L267.11,322.70 L267.55,322.70 L267.98,322.70 L268.42,322.70 L268.86,322.70 L269.29,322.70 L269.73,322.70 L270.16,322.70 L270.60,322.70 L271.04,322.70 L271.47,322.70 L271.91,322.70 L272.35,322.70 L272.78,322.70 L273.22,322.70 L273.66,322.70 L274.09,322.70 L274.53,322.70 L274.96,322.70 L275.40,322.70 L275.84,322.70 L276.27,322.70 L276.71,322.70 L277.15,322.70 L277.58,322.70 L278.02,322.70 L278.45,322.70 L278.89,322.70 L279.33,322.70 L279.76,322.70 L280.20,322.70 L280.64,322.70 L281.07,322.70 L281.51,322.70 L281.94,322.70 L282.38,322.70 L282.82,322.70 L283.25,322.70 L283.69,322.70 L284.13,322.70 L284.56,322.70 L285.00,322.70 L285.43,322.70 L285.87,322.70 L286.31,322.70 L286.74,322.70 L287.18,322.70 L287.62,322.70 L288.05,322.70 L288.49,322.70 L288.92,322.70 L289.36,322.70 L289.80,322.70 L290.23,322.70 L290.67,322.70 L291.11,322.70 L291.54,322.70 L291.98,322.70 L292.41,322.70 L292.85,322.70 L293.29,322.70 L293.72,322.70 L294.16,322.70 L294.60,322.70 L295.03,322.70 L295.47,322.70 L295.91,322.70 L296.34,322.70 L296.78,322.70 L297.21,322.70 L297.65,322.70 L298.09,322.70 L298.52,322.70 L298.96,322.70 L299.40,322.70 L299.83,322.70 L300.27,322.70 L300.70,322.70 L301.14,322.70 L301.58,322.70 L302.01,322.70 L302.45,322.70 L302.89,322.70 L303.32,322.70 L303.76,322.70 L304.19,322.70 L304.63,322.70 L305.07,322.70 L305.50,322.70 L305.94,322.70 L306.38,322.70 L306.81,322.70 L307.25,322.70 L307.68,322.70 L308.12,322.70 L308.56,322.70 L308.99,322.70 L309.43,322.70 L309.87,322.70 L310.30,322.70 L310.74,322.70 L311.17,322.70 L311.61,322.70 L312.05,322.70 L312.48,322.70 L312.92,322.70 L313.36,322.70 L313.79,322.70 L314.23,322.70 L314.66,322.70 L315.10,322.70 L315.54,322.70 L315.97,322.70 L316.41,322.70 L316.85,322.70 L317.28,322.70 L317.72,322.70 L318.15,322.70 L318.59,322.70 L319.03,322.70 L319.46,322.70 L319.90,322.70" stroke="#2ca02c" stroke-width="2" fill="none"/>
<path d="M107.0,344.0 L147.2,344.0 L147.2,325.4 L296.3,325.4 L296.3,344.0 L320,344.0" stroke="#111" stroke-width="1.9" fill="none"/>
<circle cx="106.6" cy="344.0" r="2.5" fill="#000"/>
<path d="M158,335.2 L213.5,335.2 M223.8,335.2 L287,335.2" stroke="#111" stroke-width="1.7" fill="none"/>
<path d="M152.30,335.20 L160.80,331.60 L159.53,335.20 L160.80,338.80 Z" fill="#111"/>
<path d="M292.80,335.20 L284.30,338.80 L285.57,335.20 L284.30,331.60 Z" fill="#111"/>
<text x="213.90" y="339.30" font-size="14" font-family='"DejaVu Sans", sans-serif' fill="#000" stroke="#000" stroke-width="0.6" >τ</text>
<text x="71.30" y="323.20" font-size="13" font-family='"DejaVu Sans", sans-serif' fill="#000" stroke="#000" stroke-width="0.8" >X</text>
<text x="94.50" y="323.20" font-size="9.5" font-family='"DejaVu Sans", sans-serif' fill="#000" stroke="#000" stroke-width="0.8" >0</text>
<text x="62.10" y="342.80" font-size="13" font-family='"DejaVu Sans", sans-serif' fill="#000" stroke="#000" stroke-width="0.6" >flux</text>
<text x="94.50" y="343.90" font-size="9.5" font-family='"DejaVu Sans", sans-serif' fill="#000" stroke="#000" stroke-width="0.8" >0</text>
<text transform="translate(47.6,325.6) rotate(-90)" font-size="17" font-family='"DejaVu Sans", sans-serif' text-anchor="middle" stroke="#000" stroke-width="0.6">QB1</text>
<text x="-0.60" y="310.50" font-size="19" font-family='"DejaVu Sans", sans-serif' fill="#000" stroke="#000" stroke-width="0.6" >(b)</text>
<text x="345.00" y="313.50" font-size="19" font-family='"DejaVu Sans", sans-serif' fill="#000" stroke="#000" stroke-width="0.6" >(c)</text>
<path d="M58.9,575.4 L58.9,358.8 L351.5,358.8 L351.5,575.4" stroke="#140018" stroke-width="1.3" fill="none"/>
<path d="M204.80,358.2 L204.80,575.4" stroke="#f5d8f5" stroke-width="1.3" stroke-dasharray="11.5,5" fill="none"/>
<path d="M171.70,575.4 L171.70,571.4 M317.70,575.4 L317.70,571.4 M58.3,522.00 L62.3,522.00 M58.3,467.95 L62.3,467.95 M58.3,413.90 L62.3,413.90" stroke="#f0e8f0" stroke-width="1.3" fill="none"/>
<defs><linearGradient id="vir" x1="0" x2="1" y1="0" y2="0"><stop offset="0.00" stop-color="#440154"/><stop offset="0.10" stop-color="#482475"/><stop offset="0.20" stop-color="#414487"/><stop offset="0.30" stop-color="#355f8d"/><stop offset="0.40" stop-color="#2a788e"/><stop offset="0.50" stop-color="#21918c"/><stop offset="0.60" stop-color="#22a884"/><stop offset="0.70" stop-color="#44bf70"/><stop offset="0.80" stop-color="#7ad151"/><stop offset="0.90" stop-color="#bddf26"/><stop offset="1.00" stop-color="#fde725"/></linearGradient></defs>
<rect x="67.6" y="384.4" width="111.2" height="11.9" fill="url(#vir)" stroke="#f4eaf4" stroke-width="1.5"/>
<path d="M67.6,384.4 L67.6,380.5 M178.8,384.4 L178.8,380.5" stroke="#f4eaf4" stroke-width="1.3"/>
<text x="62.80" y="378.00" font-size="15" font-family='"DejaVu Sans", sans-serif' fill="#fff" stroke="#fff" stroke-width="0.4" >0</text>
<text x="172.70" y="378.20" font-size="15" font-family='"DejaVu Sans", sans-serif' fill="#fff" stroke="#fff" stroke-width="0.4" >1</text>
<text x="111.80" y="370.20" font-size="14.5" font-family='"DejaVu Sans", sans-serif' font-style="italic" fill="#fff" stroke="#fff" stroke-width="0.5" >p</text>
<text x="120.90" y="376.70" font-size="10.5" font-family='"DejaVu Sans", sans-serif' fill="#fff" stroke="#fff" stroke-width="0.6" >01</text>
<path d="M58.3,576.3 L352.1,576.3 M58.3,574.4 L58.3,580.4 M352.1,574.4 L352.1,580.4" stroke="#e8141c" stroke-width="1.8" fill="none"/>
<path d="M204.80,575.4 L204.80,580.4" stroke="#e8141c" stroke-width="1.3" fill="none"/>
<text x="44.20" y="583.50" font-size="17" font-family='"DejaVu Sans", sans-serif' fill="#000" stroke="#000" stroke-width="0.6" >0</text>
<text x="28.30" y="528.80" font-size="17" font-family='"DejaVu Sans", sans-serif' fill="#000" stroke="#000" stroke-width="0.6" >1/2</text>
<text x="28.30" y="475.50" font-size="17" font-family='"DejaVu Sans", sans-serif' fill="#000" stroke="#000" stroke-width="0.6" >2/2</text>
<text x="28.30" y="420.70" font-size="17" font-family='"DejaVu Sans", sans-serif' fill="#000" stroke="#000" stroke-width="0.6" >3/2</text>
<text x="28.30" y="368.10" font-size="17" font-family='"DejaVu Sans", sans-serif' fill="#000" stroke="#000" stroke-width="0.6" >4/2</text>
<text x="159.00" y="591.60" font-size="17" font-family='"DejaVu Sans", sans-serif' fill="#000" stroke="#000" stroke-width="0.6" >0.2</text>
<text x="197.90" y="594.10" font-size="15.5" font-family='"DejaVu Sans", sans-serif' font-weight="bold" font-style="italic" fill="#000" stroke="#000" stroke-width="0.3" >Φ</text>
<text x="210.70" y="597.90" font-size="12.8" font-family='"DejaVu Sans", sans-serif' fill="#000" stroke="#000" stroke-width="0.6" >iSWAP</text>
<text x="306.10" y="591.60" font-size="17" font-family='"DejaVu Sans", sans-serif' fill="#000" stroke="#000" stroke-width="0.6" >0.3</text>
<text x="76.50" y="618.0" font-size="17.5" font-family='"DejaVu Sans", sans-serif' stroke="#000" stroke-width="0.6">Magnetic flux, qubit 1 (</text>
<text x="281.50" y="617.30" font-size="15.5" font-family='"DejaVu Sans", sans-serif' font-weight="bold" font-style="italic" fill="#000" >Φ</text>
<text x="295.50" y="621.90" font-size="10.7" font-family='"DejaVu Sans", sans-serif' fill="#000" stroke="#000" stroke-width="0.6" >0</text>
<text x="302.90" y="618.0" font-size="17.5" font-family='"DejaVu Sans", sans-serif' stroke="#000" stroke-width="0.6">)</text>
<text transform="translate(16.9,507.9) rotate(-90)" font-size="17" font-family='"DejaVu Sans", sans-serif' stroke="#000" stroke-width="0.6">Time, <tspan font-weight="bold">τ</tspan> <tspan font-size="14.6" stroke-width="0.7">(<tspan font-style="italic">π</tspan>/<tspan font-style="italic">g</tspan>)</tspan></text>
<path d="M443.05,358.6 L443.05,575.8" stroke="#cfcfcf" stroke-width="1" stroke-dasharray="6,4" fill="none"/>
<path d="M504.37,576.05 L504.36,575.78 L504.34,575.51 L504.30,575.24 L504.25,574.97 L504.18,574.70 L504.10,574.43 L504.00,574.16 L503.88,573.89 L503.76,573.62 L503.61,573.35 L503.46,573.08 L503.28,572.81 L503.09,572.54 L502.89,572.27 L502.67,572.00 L502.44,571.73 L502.19,571.46 L501.93,571.19 L501.66,570.92 L501.37,570.64 L501.06,570.37 L500.74,570.10 L500.41,569.83 L500.06,569.56 L499.70,569.29 L499.33,569.02 L498.94,568.75 L498.53,568.48 L498.12,568.21 L497.68,567.94 L497.24,567.67 L496.78,567.40 L496.31,567.13 L495.83,566.86 L495.33,566.59 L494.82,566.32 L494.30,566.05 L493.77,565.78 L493.22,565.51 L492.66,565.24 L492.09,564.97 L491.50,564.70 L490.90,564.43 L490.30,564.16 L489.68,563.89 L489.05,563.62 L488.40,563.35 L487.75,563.08 L487.08,562.81 L486.41,562.54 L485.72,562.27 L485.03,562.00 L484.32,561.73 L483.60,561.46 L482.87,561.19 L482.14,560.92 L481.39,560.65 L480.63,560.38 L479.87,560.11 L479.09,559.83 L478.31,559.56 L477.52,559.29 L476.72,559.02 L475.91,558.75 L475.09,558.48 L474.26,558.21 L473.43,557.94 L472.59,557.67 L471.74,557.40 L470.89,557.13 L470.03,556.86 L469.16,556.59 L468.28,556.32 L467.40,556.05 L466.52,555.78 L465.62,555.51 L464.72,555.24 L463.82,554.97 L462.91,554.70 L462.00,554.43 L461.08,554.16 L460.16,553.89 L459.23,553.62 L458.30,553.35 L457.36,553.08 L456.43,552.81 L455.48,552.54 L454.54,552.27 L453.59,552.00 L452.64,551.73 L451.69,551.46 L450.74,551.19 L449.78,550.92 L448.82,550.65 L447.86,550.38 L446.90,550.11 L445.94,549.84 L444.98,549.57 L444.01,549.30 L443.05,549.02 L442.09,548.75 L441.12,548.48 L440.16,548.21 L439.20,547.94 L438.24,547.67 L437.28,547.40 L436.32,547.13 L435.36,546.86 L434.41,546.59 L433.46,546.32 L432.51,546.05 L431.56,545.78 L430.62,545.51 L429.67,545.24 L428.74,544.97 L427.80,544.70 L426.87,544.43 L425.94,544.16 L425.02,543.89 L424.10,543.62 L423.19,543.35 L422.28,543.08 L421.38,542.81 L420.48,542.54 L419.58,542.27 L418.70,542.00 L417.82,541.73 L416.94,541.46 L416.07,541.19 L415.21,540.92 L414.36,540.65 L413.51,540.38 L412.67,540.11 L411.84,539.84 L411.01,539.57 L410.19,539.30 L409.38,539.03 L408.58,538.76 L407.79,538.49 L407.01,538.21 L406.23,537.94 L405.47,537.67 L404.71,537.40 L403.96,537.13 L403.23,536.86 L402.50,536.59 L401.78,536.32 L401.07,536.05 L400.38,535.78 L399.69,535.51 L399.02,535.24 L398.35,534.97 L397.70,534.70 L397.05,534.43 L396.42,534.16 L395.80,533.89 L395.20,533.62 L394.60,533.35 L394.01,533.08 L393.44,532.81 L392.88,532.54 L392.33,532.27 L391.80,532.00 L391.28,531.73 L390.77,531.46 L390.27,531.19 L389.79,530.92 L389.32,530.65 L388.86,530.38 L388.42,530.11 L387.98,529.84 L387.57,529.57 L387.16,529.30 L386.77,529.03 L386.40,528.76 L386.04,528.49 L385.69,528.22 L385.36,527.95 L385.04,527.68 L384.73,527.40 L384.44,527.13 L384.17,526.86 L383.91,526.59 L383.66,526.32 L383.43,526.05 L383.21,525.78 L383.01,525.51 L382.82,525.24 L382.64,524.97 L382.49,524.70 L382.34,524.43 L382.22,524.16 L382.10,523.89 L382.00,523.62 L381.92,523.35 L381.85,523.08 L381.80,522.81 L381.76,522.54 L381.74,522.27 L381.73,522.00 L381.74,521.73 L381.76,521.46 L381.80,521.19 L381.85,520.92 L381.92,520.65 L382.00,520.38 L382.10,520.11 L382.22,519.84 L382.34,519.57 L382.49,519.30 L382.64,519.03 L382.82,518.76 L383.01,518.49 L383.21,518.22 L383.43,517.95 L383.66,517.68 L383.91,517.41 L384.17,517.14 L384.44,516.87 L384.73,516.59 L385.04,516.32 L385.36,516.05 L385.69,515.78 L386.04,515.51 L386.40,515.24 L386.77,514.97 L387.16,514.70 L387.57,514.43 L387.98,514.16 L388.42,513.89 L388.86,513.62 L389.32,513.35 L389.79,513.08 L390.27,512.81 L390.77,512.54 L391.28,512.27 L391.80,512.00 L392.33,511.73 L392.88,511.46 L393.44,511.19 L394.01,510.92 L394.60,510.65 L395.20,510.38 L395.80,510.11 L396.42,509.84 L397.05,509.57 L397.70,509.30 L398.35,509.03 L399.02,508.76 L399.69,508.49 L400.38,508.22 L401.07,507.95 L401.78,507.68 L402.50,507.41 L403.23,507.14 L403.96,506.87 L404.71,506.60 L405.47,506.33 L406.23,506.06 L407.01,505.78 L407.79,505.51 L408.58,505.24 L409.38,504.97 L410.19,504.70 L411.01,504.43 L411.84,504.16 L412.67,503.89 L413.51,503.62 L414.36,503.35 L415.21,503.08 L416.07,502.81 L416.94,502.54 L417.82,502.27 L418.70,502.00 L419.58,501.73 L420.48,501.46 L421.38,501.19 L422.28,500.92 L423.19,500.65 L424.10,500.38 L425.02,500.11 L425.94,499.84 L426.87,499.57 L427.80,499.30 L428.74,499.03 L429.67,498.76 L430.62,498.49 L431.56,498.22 L432.51,497.95 L433.46,497.68 L434.41,497.41 L435.36,497.14 L436.32,496.87 L437.28,496.60 L438.24,496.33 L439.20,496.06 L440.16,495.79 L441.12,495.52 L442.09,495.25 L443.05,494.97 L444.01,494.70 L444.98,494.43 L445.94,494.16 L446.90,493.89 L447.86,493.62 L448.82,493.35 L449.78,493.08 L450.74,492.81 L451.69,492.54 L452.64,492.27 L453.59,492.00 L454.54,491.73 L455.48,491.46 L456.43,491.19 L457.36,490.92 L458.30,490.65 L459.23,490.38 L460.16,490.11 L461.08,489.84 L462.00,489.57 L462.91,489.30 L463.82,489.03 L464.72,488.76 L465.62,488.49 L466.52,488.22 L467.40,487.95 L468.28,487.68 L469.16,487.41 L470.03,487.14 L470.89,486.87 L471.74,486.60 L472.59,486.33 L473.43,486.06 L474.26,485.79 L475.09,485.52 L475.91,485.25 L476.72,484.98 L477.52,484.71 L478.31,484.44 L479.09,484.16 L479.87,483.89 L480.63,483.62 L481.39,483.35 L482.14,483.08 L482.87,482.81 L483.60,482.54 L484.32,482.27 L485.03,482.00 L485.72,481.73 L486.41,481.46 L487.08,481.19 L487.75,480.92 L488.40,480.65 L489.05,480.38 L489.68,480.11 L490.30,479.84 L490.90,479.57 L491.50,479.30 L492.09,479.03 L492.66,478.76 L493.22,478.49 L493.77,478.22 L494.30,477.95 L494.82,477.68 L495.33,477.41 L495.83,477.14 L496.31,476.87 L496.78,476.60 L497.24,476.33 L497.68,476.06 L498.12,475.79 L498.53,475.52 L498.94,475.25 L499.33,474.98 L499.70,474.71 L500.06,474.44 L500.41,474.17 L500.74,473.90 L501.06,473.63 L501.37,473.35 L501.66,473.08 L501.93,472.81 L502.19,472.54 L502.44,472.27 L502.67,472.00 L502.89,471.73 L503.09,471.46 L503.28,471.19 L503.46,470.92 L503.61,470.65 L503.76,470.38 L503.88,470.11 L504.00,469.84 L504.10,469.57 L504.18,469.30 L504.25,469.03 L504.30,468.76 L504.34,468.49 L504.36,468.22 L504.37,467.95 L504.36,467.68 L504.34,467.41 L504.30,467.14 L504.25,466.87 L504.18,466.60 L504.10,466.33 L504.00,466.06 L503.88,465.79 L503.76,465.52 L503.61,465.25 L503.46,464.98 L503.28,464.71 L503.09,464.44 L502.89,464.17 L502.67,463.90 L502.44,463.63 L502.19,463.36 L501.93,463.09 L501.66,462.82 L501.37,462.54 L501.06,462.27 L500.74,462.00 L500.41,461.73 L500.06,461.46 L499.70,461.19 L499.33,460.92 L498.94,460.65 L498.53,460.38 L498.12,460.11 L497.68,459.84 L497.24,459.57 L496.78,459.30 L496.31,459.03 L495.83,458.76 L495.33,458.49 L494.82,458.22 L494.30,457.95 L493.77,457.68 L493.22,457.41 L492.66,457.14 L492.09,456.87 L491.50,456.60 L490.90,456.33 L490.30,456.06 L489.68,455.79 L489.05,455.52 L488.40,455.25 L487.75,454.98 L487.08,454.71 L486.41,454.44 L485.72,454.17 L485.03,453.90 L484.32,453.63 L483.60,453.36 L482.87,453.09 L482.14,452.82 L481.39,452.55 L480.63,452.28 L479.87,452.01 L479.09,451.73 L478.31,451.46 L477.52,451.19 L476.72,450.92 L475.91,450.65 L475.09,450.38 L474.26,450.11 L473.43,449.84 L472.59,449.57 L471.74,449.30 L470.89,449.03 L470.03,448.76 L469.16,448.49 L468.28,448.22 L467.40,447.95 L466.52,447.68 L465.62,447.41 L464.72,447.14 L463.82,446.87 L462.91,446.60 L462.00,446.33 L461.08,446.06 L460.16,445.79 L459.23,445.52 L458.30,445.25 L457.36,444.98 L456.43,444.71 L455.48,444.44 L454.54,444.17 L453.59,443.90 L452.64,443.63 L451.69,443.36 L450.74,443.09 L449.78,442.82 L448.82,442.55 L447.86,442.28 L446.90,442.01 L445.94,441.74 L444.98,441.47 L444.01,441.20 L443.05,440.92 L442.09,440.65 L441.12,440.38 L440.16,440.11 L439.20,439.84 L438.24,439.57 L437.28,439.30 L436.32,439.03 L435.36,438.76 L434.41,438.49 L433.46,438.22 L432.51,437.95 L431.56,437.68 L430.62,437.41 L429.67,437.14 L428.74,436.87 L427.80,436.60 L426.87,436.33 L425.94,436.06 L425.02,435.79 L424.10,435.52 L423.19,435.25 L422.28,434.98 L421.38,434.71 L420.48,434.44 L419.58,434.17 L418.70,433.90 L417.82,433.63 L416.94,433.36 L416.07,433.09 L415.21,432.82 L414.36,432.55 L413.51,432.28 L412.67,432.01 L411.84,431.74 L411.01,431.47 L410.19,431.20 L409.38,430.93 L408.58,430.66 L407.79,430.39 L407.01,430.11 L406.23,429.84 L405.47,429.57 L404.71,429.30 L403.96,429.03 L403.23,428.76 L402.50,428.49 L401.78,428.22 L401.07,427.95 L400.38,427.68 L399.69,427.41 L399.02,427.14 L398.35,426.87 L397.70,426.60 L397.05,426.33 L396.42,426.06 L395.80,425.79 L395.20,425.52 L394.60,425.25 L394.01,424.98 L393.44,424.71 L392.88,424.44 L392.33,424.17 L391.80,423.90 L391.28,423.63 L390.77,423.36 L390.27,423.09 L389.79,422.82 L389.32,422.55 L388.86,422.28 L388.42,422.01 L387.98,421.74 L387.57,421.47 L387.16,421.20 L386.77,420.93 L386.40,420.66 L386.04,420.39 L385.69,420.12 L385.36,419.85 L385.04,419.58 L384.73,419.30 L384.44,419.03 L384.17,418.76 L383.91,418.49 L383.66,418.22 L383.43,417.95 L383.21,417.68 L383.01,417.41 L382.82,417.14 L382.64,416.87 L382.49,416.60 L382.34,416.33 L382.22,416.06 L382.10,415.79 L382.00,415.52 L381.92,415.25 L381.85,414.98 L381.80,414.71 L381.76,414.44 L381.74,414.17 L381.73,413.90 L381.74,413.63 L381.76,413.36 L381.80,413.09 L381.85,412.82 L381.92,412.55 L382.00,412.28 L382.10,412.01 L382.22,411.74 L382.34,411.47 L382.49,411.20 L382.64,410.93 L382.82,410.66 L383.01,410.39 L383.21,410.12 L383.43,409.85 L383.66,409.58 L383.91,409.31 L384.17,409.04 L384.44,408.77 L384.73,408.49 L385.04,408.22 L385.36,407.95 L385.69,407.68 L386.04,407.41 L386.40,407.14 L386.77,406.87 L387.16,406.60 L387.57,406.33 L387.98,406.06 L388.42,405.79 L388.86,405.52 L389.32,405.25 L389.79,404.98 L390.27,404.71 L390.77,404.44 L391.28,404.17 L391.80,403.90 L392.33,403.63 L392.88,403.36 L393.44,403.09 L394.01,402.82 L394.60,402.55 L395.20,402.28 L395.80,402.01 L396.42,401.74 L397.05,401.47 L397.70,401.20 L398.35,400.93 L399.02,400.66 L399.69,400.39 L400.38,400.12 L401.07,399.85 L401.78,399.58 L402.50,399.31 L403.23,399.04 L403.96,398.77 L404.71,398.50 L405.47,398.23 L406.23,397.96 L407.01,397.68 L407.79,397.41 L408.58,397.14 L409.38,396.87 L410.19,396.60 L411.01,396.33 L411.84,396.06 L412.67,395.79 L413.51,395.52 L414.36,395.25 L415.21,394.98 L416.07,394.71 L416.94,394.44 L417.82,394.17 L418.70,393.90 L419.58,393.63 L420.48,393.36 L421.38,393.09 L422.28,392.82 L423.19,392.55 L424.10,392.28 L425.02,392.01 L425.94,391.74 L426.87,391.47 L427.80,391.20 L428.74,390.93 L429.67,390.66 L430.62,390.39 L431.56,390.12 L432.51,389.85 L433.46,389.58 L434.41,389.31 L435.36,389.04 L436.32,388.77 L437.28,388.50 L438.24,388.23 L439.20,387.96 L440.16,387.69 L441.12,387.42 L442.09,387.15 L443.05,386.88 L444.01,386.60 L444.98,386.33 L445.94,386.06 L446.90,385.79 L447.86,385.52 L448.82,385.25 L449.78,384.98 L450.74,384.71 L451.69,384.44 L452.64,384.17 L453.59,383.90 L454.54,383.63 L455.48,383.36 L456.43,383.09 L457.36,382.82 L458.30,382.55 L459.23,382.28 L460.16,382.01 L461.08,381.74 L462.00,381.47 L462.91,381.20 L463.82,380.93 L464.72,380.66 L465.62,380.39 L466.52,380.12 L467.40,379.85 L468.28,379.58 L469.16,379.31 L470.03,379.04 L470.89,378.77 L471.74,378.50 L472.59,378.23 L473.43,377.96 L474.26,377.69 L475.09,377.42 L475.91,377.15 L476.72,376.88 L477.52,376.61 L478.31,376.34 L479.09,376.06 L479.87,375.79 L480.63,375.52 L481.39,375.25 L482.14,374.98 L482.87,374.71 L483.60,374.44 L484.32,374.17 L485.03,373.90 L485.72,373.63 L486.41,373.36 L487.08,373.09 L487.75,372.82 L488.40,372.55 L489.05,372.28 L489.68,372.01 L490.30,371.74 L490.90,371.47 L491.50,371.20 L492.09,370.93 L492.66,370.66 L493.22,370.39 L493.77,370.12 L494.30,369.85 L494.82,369.58 L495.33,369.31 L495.83,369.04 L496.31,368.77 L496.78,368.50 L497.24,368.23 L497.68,367.96 L498.12,367.69 L498.53,367.42 L498.94,367.15 L499.33,366.88 L499.70,366.61 L500.06,366.34 L500.41,366.07 L500.74,365.80 L501.06,365.53 L501.37,365.25 L501.66,364.98 L501.93,364.71 L502.19,364.44 L502.44,364.17 L502.67,363.90 L502.89,363.63 L503.09,363.36 L503.28,363.09 L503.46,362.82 L503.61,362.55 L503.76,362.28 L503.88,362.01 L504.00,361.74 L504.10,361.47 L504.18,361.20 L504.25,360.93 L504.30,360.66 L504.34,360.39 L504.36,360.12 L504.37,359.85" stroke="#8a8a8a" stroke-width="2.3" stroke-dasharray="11,5.5" fill="none"/>
<path d="M381.73,576.05 L381.74,575.78 L381.76,575.51 L381.80,575.24 L381.85,574.97 L381.92,574.70 L382.00,574.43 L382.10,574.16 L382.22,573.89 L382.34,573.62 L382.49,573.35 L382.64,573.08 L382.82,572.81 L383.01,572.54 L383.21,572.27 L383.43,572.00 L383.66,571.73 L383.91,571.46 L384.17,571.19 L384.44,570.92 L384.73,570.64 L385.04,570.37 L385.36,570.10 L385.69,569.83 L386.04,569.56 L386.40,569.29 L386.77,569.02 L387.16,568.75 L387.57,568.48 L387.98,568.21 L388.42,567.94 L388.86,567.67 L389.32,567.40 L389.79,567.13 L390.27,566.86 L390.77,566.59 L391.28,566.32 L391.80,566.05 L392.33,565.78 L392.88,565.51 L393.44,565.24 L394.01,564.97 L394.60,564.70 L395.20,564.43 L395.80,564.16 L396.42,563.89 L397.05,563.62 L397.70,563.35 L398.35,563.08 L399.02,562.81 L399.69,562.54 L400.38,562.27 L401.07,562.00 L401.78,561.73 L402.50,561.46 L403.23,561.19 L403.96,560.92 L404.71,560.65 L405.47,560.38 L406.23,560.11 L407.01,559.83 L407.79,559.56 L408.58,559.29 L409.38,559.02 L410.19,558.75 L411.01,558.48 L411.84,558.21 L412.67,557.94 L413.51,557.67 L414.36,557.40 L415.21,557.13 L416.07,556.86 L416.94,556.59 L417.82,556.32 L418.70,556.05 L419.58,555.78 L420.48,555.51 L421.38,555.24 L422.28,554.97 L423.19,554.70 L424.10,554.43 L425.02,554.16 L425.94,553.89 L426.87,553.62 L427.80,553.35 L428.74,553.08 L429.67,552.81 L430.62,552.54 L431.56,552.27 L432.51,552.00 L433.46,551.73 L434.41,551.46 L435.36,551.19 L436.32,550.92 L437.28,550.65 L438.24,550.38 L439.20,550.11 L440.16,549.84 L441.12,549.57 L442.09,549.30 L443.05,549.02 L444.01,548.75 L444.98,548.48 L445.94,548.21 L446.90,547.94 L447.86,547.67 L448.82,547.40 L449.78,547.13 L450.74,546.86 L451.69,546.59 L452.64,546.32 L453.59,546.05 L454.54,545.78 L455.48,545.51 L456.43,545.24 L457.36,544.97 L458.30,544.70 L459.23,544.43 L460.16,544.16 L461.08,543.89 L462.00,543.62 L462.91,543.35 L463.82,543.08 L464.72,542.81 L465.62,542.54 L466.52,542.27 L467.40,542.00 L468.28,541.73 L469.16,541.46 L470.03,541.19 L470.89,540.92 L471.74,540.65 L472.59,540.38 L473.43,540.11 L474.26,539.84 L475.09,539.57 L475.91,539.30 L476.72,539.03 L477.52,538.76 L478.31,538.49 L479.09,538.21 L479.87,537.94 L480.63,537.67 L481.39,537.40 L482.14,537.13 L482.87,536.86 L483.60,536.59 L484.32,536.32 L485.03,536.05 L485.72,535.78 L486.41,535.51 L487.08,535.24 L487.75,534.97 L488.40,534.70 L489.05,534.43 L489.68,534.16 L490.30,533.89 L490.90,533.62 L491.50,533.35 L492.09,533.08 L492.66,532.81 L493.22,532.54 L493.77,532.27 L494.30,532.00 L494.82,531.73 L495.33,531.46 L495.83,531.19 L496.31,530.92 L496.78,530.65 L497.24,530.38 L497.68,530.11 L498.12,529.84 L498.53,529.57 L498.94,529.30 L499.33,529.03 L499.70,528.76 L500.06,528.49 L500.41,528.22 L500.74,527.95 L501.06,527.68 L501.37,527.40 L501.66,527.13 L501.93,526.86 L502.19,526.59 L502.44,526.32 L502.67,526.05 L502.89,525.78 L503.09,525.51 L503.28,525.24 L503.46,524.97 L503.61,524.70 L503.76,524.43 L503.88,524.16 L504.00,523.89 L504.10,523.62 L504.18,523.35 L504.25,523.08 L504.30,522.81 L504.34,522.54 L504.36,522.27 L504.37,522.00 L504.36,521.73 L504.34,521.46 L504.30,521.19 L504.25,520.92 L504.18,520.65 L504.10,520.38 L504.00,520.11 L503.88,519.84 L503.76,519.57 L503.61,519.30 L503.46,519.03 L503.28,518.76 L503.09,518.49 L502.89,518.22 L502.67,517.95 L502.44,517.68 L502.19,517.41 L501.93,517.14 L501.66,516.87 L501.37,516.59 L501.06,516.32 L500.74,516.05 L500.41,515.78 L500.06,515.51 L499.70,515.24 L499.33,514.97 L498.94,514.70 L498.53,514.43 L498.12,514.16 L497.68,513.89 L497.24,513.62 L496.78,513.35 L496.31,513.08 L495.83,512.81 L495.33,512.54 L494.82,512.27 L494.30,512.00 L493.77,511.73 L493.22,511.46 L492.66,511.19 L492.09,510.92 L491.50,510.65 L490.90,510.38 L490.30,510.11 L489.68,509.84 L489.05,509.57 L488.40,509.30 L487.75,509.03 L487.08,508.76 L486.41,508.49 L485.72,508.22 L485.03,507.95 L484.32,507.68 L483.60,507.41 L482.87,507.14 L482.14,506.87 L481.39,506.60 L480.63,506.33 L479.87,506.06 L479.09,505.78 L478.31,505.51 L477.52,505.24 L476.72,504.97 L475.91,504.70 L475.09,504.43 L474.26,504.16 L473.43,503.89 L472.59,503.62 L471.74,503.35 L470.89,503.08 L470.03,502.81 L469.16,502.54 L468.28,502.27 L467.40,502.00 L466.52,501.73 L465.62,501.46 L464.72,501.19 L463.82,500.92 L462.91,500.65 L462.00,500.38 L461.08,500.11 L460.16,499.84 L459.23,499.57 L458.30,499.30 L457.36,499.03 L456.43,498.76 L455.48,498.49 L454.54,498.22 L453.59,497.95 L452.64,497.68 L451.69,497.41 L450.74,497.14 L449.78,496.87 L448.82,496.60 L447.86,496.33 L446.90,496.06 L445.94,495.79 L444.98,495.52 L444.01,495.25 L443.05,494.97 L442.09,494.70 L441.12,494.43 L440.16,494.16 L439.20,493.89 L438.24,493.62 L437.28,493.35 L436.32,493.08 L435.36,492.81 L434.41,492.54 L433.46,492.27 L432.51,492.00 L431.56,491.73 L430.62,491.46 L429.67,491.19 L428.74,490.92 L427.80,490.65 L426.87,490.38 L425.94,490.11 L425.02,489.84 L424.10,489.57 L423.19,489.30 L422.28,489.03 L421.38,488.76 L420.48,488.49 L419.58,488.22 L418.70,487.95 L417.82,487.68 L416.94,487.41 L416.07,487.14 L415.21,486.87 L414.36,486.60 L413.51,486.33 L412.67,486.06 L411.84,485.79 L411.01,485.52 L410.19,485.25 L409.38,484.98 L408.58,484.71 L407.79,484.44 L407.01,484.16 L406.23,483.89 L405.47,483.62 L404.71,483.35 L403.96,483.08 L403.23,482.81 L402.50,482.54 L401.78,482.27 L401.07,482.00 L400.38,481.73 L399.69,481.46 L399.02,481.19 L398.35,480.92 L397.70,480.65 L397.05,480.38 L396.42,480.11 L395.80,479.84 L395.20,479.57 L394.60,479.30 L394.01,479.03 L393.44,478.76 L392.88,478.49 L392.33,478.22 L391.80,477.95 L391.28,477.68 L390.77,477.41 L390.27,477.14 L389.79,476.87 L389.32,476.60 L388.86,476.33 L388.42,476.06 L387.98,475.79 L387.57,475.52 L387.16,475.25 L386.77,474.98 L386.40,474.71 L386.04,474.44 L385.69,474.17 L385.36,473.90 L385.04,473.63 L384.73,473.35 L384.44,473.08 L384.17,472.81 L383.91,472.54 L383.66,472.27 L383.43,472.00 L383.21,471.73 L383.01,471.46 L382.82,471.19 L382.64,470.92 L382.49,470.65 L382.34,470.38 L382.22,470.11 L382.10,469.84 L382.00,469.57 L381.92,469.30 L381.85,469.03 L381.80,468.76 L381.76,468.49 L381.74,468.22 L381.73,467.95 L381.74,467.68 L381.76,467.41 L381.80,467.14 L381.85,466.87 L381.92,466.60 L382.00,466.33 L382.10,466.06 L382.22,465.79 L382.34,465.52 L382.49,465.25 L382.64,464.98 L382.82,464.71 L383.01,464.44 L383.21,464.17 L383.43,463.90 L383.66,463.63 L383.91,463.36 L384.17,463.09 L384.44,462.82 L384.73,462.54 L385.04,462.27 L385.36,462.00 L385.69,461.73 L386.04,461.46 L386.40,461.19 L386.77,460.92 L387.16,460.65 L387.57,460.38 L387.98,460.11 L388.42,459.84 L388.86,459.57 L389.32,459.30 L389.79,459.03 L390.27,458.76 L390.77,458.49 L391.28,458.22 L391.80,457.95 L392.33,457.68 L392.88,457.41 L393.44,457.14 L394.01,456.87 L394.60,456.60 L395.20,456.33 L395.80,456.06 L396.42,455.79 L397.05,455.52 L397.70,455.25 L398.35,454.98 L399.02,454.71 L399.69,454.44 L400.38,454.17 L401.07,453.90 L401.78,453.63 L402.50,453.36 L403.23,453.09 L403.96,452.82 L404.71,452.55 L405.47,452.28 L406.23,452.01 L407.01,451.73 L407.79,451.46 L408.58,451.19 L409.38,450.92 L410.19,450.65 L411.01,450.38 L411.84,450.11 L412.67,449.84 L413.51,449.57 L414.36,449.30 L415.21,449.03 L416.07,448.76 L416.94,448.49 L417.82,448.22 L418.70,447.95 L419.58,447.68 L420.48,447.41 L421.38,447.14 L422.28,446.87 L423.19,446.60 L424.10,446.33 L425.02,446.06 L425.94,445.79 L426.87,445.52 L427.80,445.25 L428.74,444.98 L429.67,444.71 L430.62,444.44 L431.56,444.17 L432.51,443.90 L433.46,443.63 L434.41,443.36 L435.36,443.09 L436.32,442.82 L437.28,442.55 L438.24,442.28 L439.20,442.01 L440.16,441.74 L441.12,441.47 L442.09,441.20 L443.05,440.92 L444.01,440.65 L444.98,440.38 L445.94,440.11 L446.90,439.84 L447.86,439.57 L448.82,439.30 L449.78,439.03 L450.74,438.76 L451.69,438.49 L452.64,438.22 L453.59,437.95 L454.54,437.68 L455.48,437.41 L456.43,437.14 L457.36,436.87 L458.30,436.60 L459.23,436.33 L460.16,436.06 L461.08,435.79 L462.00,435.52 L462.91,435.25 L463.82,434.98 L464.72,434.71 L465.62,434.44 L466.52,434.17 L467.40,433.90 L468.28,433.63 L469.16,433.36 L470.03,433.09 L470.89,432.82 L471.74,432.55 L472.59,432.28 L473.43,432.01 L474.26,431.74 L475.09,431.47 L475.91,431.20 L476.72,430.93 L477.52,430.66 L478.31,430.39 L479.09,430.11 L479.87,429.84 L480.63,429.57 L481.39,429.30 L482.14,429.03 L482.87,428.76 L483.60,428.49 L484.32,428.22 L485.03,427.95 L485.72,427.68 L486.41,427.41 L487.08,427.14 L487.75,426.87 L488.40,426.60 L489.05,426.33 L489.68,426.06 L490.30,425.79 L490.90,425.52 L491.50,425.25 L492.09,424.98 L492.66,424.71 L493.22,424.44 L493.77,424.17 L494.30,423.90 L494.82,423.63 L495.33,423.36 L495.83,423.09 L496.31,422.82 L496.78,422.55 L497.24,422.28 L497.68,422.01 L498.12,421.74 L498.53,421.47 L498.94,421.20 L499.33,420.93 L499.70,420.66 L500.06,420.39 L500.41,420.12 L500.74,419.85 L501.06,419.58 L501.37,419.30 L501.66,419.03 L501.93,418.76 L502.19,418.49 L502.44,418.22 L502.67,417.95 L502.89,417.68 L503.09,417.41 L503.28,417.14 L503.46,416.87 L503.61,416.60 L503.76,416.33 L503.88,416.06 L504.00,415.79 L504.10,415.52 L504.18,415.25 L504.25,414.98 L504.30,414.71 L504.34,414.44 L504.36,414.17 L504.37,413.90 L504.36,413.63 L504.34,413.36 L504.30,413.09 L504.25,412.82 L504.18,412.55 L504.10,412.28 L504.00,412.01 L503.88,411.74 L503.76,411.47 L503.61,411.20 L503.46,410.93 L503.28,410.66 L503.09,410.39 L502.89,410.12 L502.67,409.85 L502.44,409.58 L502.19,409.31 L501.93,409.04 L501.66,408.77 L501.37,408.49 L501.06,408.22 L500.74,407.95 L500.41,407.68 L500.06,407.41 L499.70,407.14 L499.33,406.87 L498.94,406.60 L498.53,406.33 L498.12,406.06 L497.68,405.79 L497.24,405.52 L496.78,405.25 L496.31,404.98 L495.83,404.71 L495.33,404.44 L494.82,404.17 L494.30,403.90 L493.77,403.63 L493.22,403.36 L492.66,403.09 L492.09,402.82 L491.50,402.55 L490.90,402.28 L490.30,402.01 L489.68,401.74 L489.05,401.47 L488.40,401.20 L487.75,400.93 L487.08,400.66 L486.41,400.39 L485.72,400.12 L485.03,399.85 L484.32,399.58 L483.60,399.31 L482.87,399.04 L482.14,398.77 L481.39,398.50 L480.63,398.23 L479.87,397.96 L479.09,397.68 L478.31,397.41 L477.52,397.14 L476.72,396.87 L475.91,396.60 L475.09,396.33 L474.26,396.06 L473.43,395.79 L472.59,395.52 L471.74,395.25 L470.89,394.98 L470.03,394.71 L469.16,394.44 L468.28,394.17 L467.40,393.90 L466.52,393.63 L465.62,393.36 L464.72,393.09 L463.82,392.82 L462.91,392.55 L462.00,392.28 L461.08,392.01 L460.16,391.74 L459.23,391.47 L458.30,391.20 L457.36,390.93 L456.43,390.66 L455.48,390.39 L454.54,390.12 L453.59,389.85 L452.64,389.58 L451.69,389.31 L450.74,389.04 L449.78,388.77 L448.82,388.50 L447.86,388.23 L446.90,387.96 L445.94,387.69 L444.98,387.42 L444.01,387.15 L443.05,386.88 L442.09,386.60 L441.12,386.33 L440.16,386.06 L439.20,385.79 L438.24,385.52 L437.28,385.25 L436.32,384.98 L435.36,384.71 L434.41,384.44 L433.46,384.17 L432.51,383.90 L431.56,383.63 L430.62,383.36 L429.67,383.09 L428.74,382.82 L427.80,382.55 L426.87,382.28 L425.94,382.01 L425.02,381.74 L424.10,381.47 L423.19,381.20 L422.28,380.93 L421.38,380.66 L420.48,380.39 L419.58,380.12 L418.70,379.85 L417.82,379.58 L416.94,379.31 L416.07,379.04 L415.21,378.77 L414.36,378.50 L413.51,378.23 L412.67,377.96 L411.84,377.69 L411.01,377.42 L410.19,377.15 L409.38,376.88 L408.58,376.61 L407.79,376.34 L407.01,376.06 L406.23,375.79 L405.47,375.52 L404.71,375.25 L403.96,374.98 L403.23,374.71 L402.50,374.44 L401.78,374.17 L401.07,373.90 L400.38,373.63 L399.69,373.36 L399.02,373.09 L398.35,372.82 L397.70,372.55 L397.05,372.28 L396.42,372.01 L395.80,371.74 L395.20,371.47 L394.60,371.20 L394.01,370.93 L393.44,370.66 L392.88,370.39 L392.33,370.12 L391.80,369.85 L391.28,369.58 L390.77,369.31 L390.27,369.04 L389.79,368.77 L389.32,368.50 L388.86,368.23 L388.42,367.96 L387.98,367.69 L387.57,367.42 L387.16,367.15 L386.77,366.88 L386.40,366.61 L386.04,366.34 L385.69,366.07 L385.36,365.80 L385.04,365.53 L384.73,365.25 L384.44,364.98 L384.17,364.71 L383.91,364.44 L383.66,364.17 L383.43,363.90 L383.21,363.63 L383.01,363.36 L382.82,363.09 L382.64,362.82 L382.49,362.55 L382.34,362.28 L382.22,362.01 L382.10,361.74 L382.00,361.47 L381.92,361.20 L381.85,360.93 L381.80,360.66 L381.76,360.39 L381.74,360.12 L381.73,359.85" stroke="#111" stroke-width="2.3" stroke-dasharray="11,5.5" fill="none"/>
<path d="M375.6,522.00 L379.6,522.00 M375.6,467.95 L379.6,467.95 M375.6,413.90 L379.6,413.90" stroke="#000" stroke-width="1.1" fill="none"/>
<rect x="375.6" y="358.6" width="134.90" height="217.20" fill="none" stroke="#111" stroke-width="1.3"/>
<text x="376.30" y="593.10" font-size="17" font-family='"DejaVu Sans", sans-serif' fill="#000" stroke="#000" stroke-width="0.6" >0</text>
<text x="430.60" y="593.10" font-size="17" font-family='"DejaVu Sans", sans-serif' fill="#000" stroke="#000" stroke-width="0.6" >0.5</text>
<text x="498.20" y="593.30" font-size="17" font-family='"DejaVu Sans", sans-serif' fill="#000" stroke="#000" stroke-width="0.6" >1</text>
<text x="399.50" y="616.00" font-size="17" font-family='"DejaVu Sans", sans-serif' fill="#000" stroke="#000" stroke-width="0.6" >Probability</text>
<rect x="380.8" y="326.8" width="123.4" height="24.3" fill="#fff" stroke="#111" stroke-width="1.3"/>
<path d="M390.6,338.2 L403,338.2" stroke="#111" stroke-width="2.6"/>
<path d="M452.9,338.2 L465.3,338.2" stroke="#8a8a8a" stroke-width="2.6"/>
<text x="412.50" y="339.70" font-size="14" font-family='"DejaVu Sans", sans-serif' font-style="italic" fill="#000" stroke="#000" stroke-width="0.55" >p</text>
<text x="420.50" y="346.00" font-size="10.3" font-family='"DejaVu Sans", sans-serif' fill="#000" stroke="#000" stroke-width="0.6" >01</text>
<text x="472.80" y="339.30" font-size="14" font-family='"DejaVu Sans", sans-serif' font-style="italic" fill="#000" stroke="#000" stroke-width="0.55" >p</text>
<text x="481.10" y="345.70" font-size="10.3" font-family='"DejaVu Sans", sans-serif' fill="#000" stroke="#000" stroke-width="0.6" >10</text></svg>
</div></body></html>
